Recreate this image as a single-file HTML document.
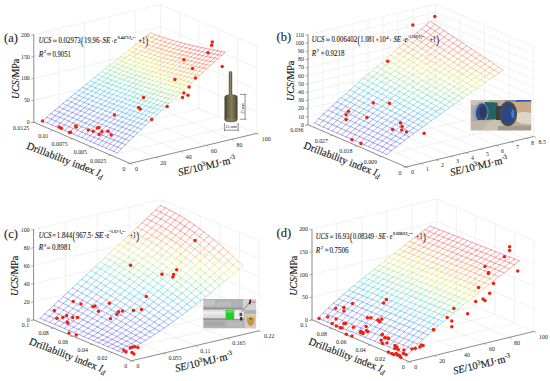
<!DOCTYPE html>
<html><head><meta charset="utf-8"><style>
html,body{margin:0;padding:0;background:#fff;}
svg{display:block;font-family:"Liberation Serif",serif;}
</style></head><body>
<svg width="550" height="381" viewBox="0 0 550 381">
<rect width="550" height="381" fill="#fff"/>
<line x1="33.8" y1="100.3" x2="160.6" y2="70.3" stroke="#e8e8e8" stroke-width="0.6"/>
<line x1="160.6" y1="70.3" x2="256.8" y2="111.5" stroke="#e8e8e8" stroke-width="0.6"/>
<line x1="33.8" y1="78.4" x2="160.6" y2="48.4" stroke="#e8e8e8" stroke-width="0.6"/>
<line x1="160.6" y1="48.4" x2="256.8" y2="89.6" stroke="#e8e8e8" stroke-width="0.6"/>
<line x1="33.8" y1="56.5" x2="160.6" y2="26.5" stroke="#e8e8e8" stroke-width="0.6"/>
<line x1="160.6" y1="26.5" x2="256.8" y2="67.7" stroke="#e8e8e8" stroke-width="0.6"/>
<line x1="59.16" y1="116.2" x2="59.16" y2="28.6" stroke="#e8e8e8" stroke-width="0.6"/>
<line x1="59.16" y1="116.2" x2="155.36" y2="157.4" stroke="#e8e8e8" stroke-width="0.6"/>
<line x1="84.52" y1="110.2" x2="84.52" y2="22.6" stroke="#e8e8e8" stroke-width="0.6"/>
<line x1="84.52" y1="110.2" x2="180.72" y2="151.4" stroke="#e8e8e8" stroke-width="0.6"/>
<line x1="109.88" y1="104.2" x2="109.88" y2="16.6" stroke="#e8e8e8" stroke-width="0.6"/>
<line x1="109.88" y1="104.2" x2="206.08" y2="145.4" stroke="#e8e8e8" stroke-width="0.6"/>
<line x1="135.24" y1="98.2" x2="135.24" y2="10.6" stroke="#e8e8e8" stroke-width="0.6"/>
<line x1="135.24" y1="98.2" x2="231.44" y2="139.4" stroke="#e8e8e8" stroke-width="0.6"/>
<line x1="179.84" y1="100.44" x2="179.84" y2="12.84" stroke="#e8e8e8" stroke-width="0.6"/>
<line x1="53.04" y1="130.44" x2="179.84" y2="100.44" stroke="#e8e8e8" stroke-width="0.6"/>
<line x1="199.08" y1="108.68" x2="199.08" y2="21.08" stroke="#e8e8e8" stroke-width="0.6"/>
<line x1="72.28" y1="138.68" x2="199.08" y2="108.68" stroke="#e8e8e8" stroke-width="0.6"/>
<line x1="218.32" y1="116.92" x2="218.32" y2="29.32" stroke="#e8e8e8" stroke-width="0.6"/>
<line x1="91.52" y1="146.92" x2="218.32" y2="116.92" stroke="#e8e8e8" stroke-width="0.6"/>
<line x1="237.56" y1="125.16" x2="237.56" y2="37.56" stroke="#e8e8e8" stroke-width="0.6"/>
<line x1="110.76" y1="155.16" x2="237.56" y2="125.16" stroke="#e8e8e8" stroke-width="0.6"/>
<line x1="160.6" y1="92.2" x2="160.6" y2="4.6" stroke="#e8e8e8" stroke-width="0.6"/>
<line x1="33.8" y1="34.6" x2="160.6" y2="4.6" stroke="#e8e8e8" stroke-width="0.6"/>
<line x1="160.6" y1="4.6" x2="256.8" y2="45.8" stroke="#e8e8e8" stroke-width="0.6"/>
<line x1="256.8" y1="133.4" x2="256.8" y2="45.8" stroke="#e8e8e8" stroke-width="0.6"/>
<line x1="160.6" y1="92.2" x2="256.8" y2="133.4" stroke="#e8e8e8" stroke-width="0.6"/>
<line x1="33.8" y1="122.2" x2="160.6" y2="92.2" stroke="#e8e8e8" stroke-width="0.6"/>
<line x1="33.8" y1="122.2" x2="33.8" y2="34.6" stroke="#8c8c8c" stroke-width="1.0"/>
<line x1="33.8" y1="122.2" x2="130" y2="163.4" stroke="#8c8c8c" stroke-width="1.0"/>
<line x1="130" y1="163.4" x2="256.8" y2="133.4" stroke="#8c8c8c" stroke-width="1.0"/>
<line x1="33.8" y1="100.3" x2="31.3" y2="100.9" stroke="#8c8c8c" stroke-width="0.7"/>
<line x1="33.8" y1="78.4" x2="31.3" y2="79" stroke="#8c8c8c" stroke-width="0.7"/>
<line x1="33.8" y1="56.5" x2="31.3" y2="57.1" stroke="#8c8c8c" stroke-width="0.7"/>
<line x1="33.8" y1="122.2" x2="31.3" y2="122.8" stroke="#8c8c8c" stroke-width="0.7"/>
<line x1="33.8" y1="34.6" x2="31.3" y2="35.2" stroke="#8c8c8c" stroke-width="0.7"/>
<line x1="53.04" y1="130.44" x2="50.61" y2="131.02" stroke="#8c8c8c" stroke-width="0.7"/>
<line x1="72.28" y1="138.68" x2="69.85" y2="139.26" stroke="#8c8c8c" stroke-width="0.7"/>
<line x1="91.52" y1="146.92" x2="89.09" y2="147.5" stroke="#8c8c8c" stroke-width="0.7"/>
<line x1="110.76" y1="155.16" x2="108.33" y2="155.74" stroke="#8c8c8c" stroke-width="0.7"/>
<line x1="33.8" y1="122.2" x2="31.37" y2="122.78" stroke="#8c8c8c" stroke-width="0.7"/>
<line x1="130" y1="163.4" x2="127.57" y2="163.98" stroke="#8c8c8c" stroke-width="0.7"/>
<line x1="155.36" y1="157.4" x2="157.66" y2="158.38" stroke="#8c8c8c" stroke-width="0.7"/>
<line x1="180.72" y1="151.4" x2="183.02" y2="152.38" stroke="#8c8c8c" stroke-width="0.7"/>
<line x1="206.08" y1="145.4" x2="208.38" y2="146.38" stroke="#8c8c8c" stroke-width="0.7"/>
<line x1="231.44" y1="139.4" x2="233.74" y2="140.38" stroke="#8c8c8c" stroke-width="0.7"/>
<line x1="130" y1="163.4" x2="132.3" y2="164.38" stroke="#8c8c8c" stroke-width="0.7"/>
<line x1="256.8" y1="133.4" x2="259.1" y2="134.38" stroke="#8c8c8c" stroke-width="0.7"/>
<text x="29.8" y="124.2" font-size="5.9" text-anchor="end" fill="#1e1e1e">0</text>
<text x="29.8" y="102.3" font-size="5.9" text-anchor="end" fill="#1e1e1e">50</text>
<text x="29.8" y="80.4" font-size="5.9" text-anchor="end" fill="#1e1e1e">100</text>
<text x="29.8" y="58.5" font-size="5.9" text-anchor="end" fill="#1e1e1e">150</text>
<text x="29.8" y="36.6" font-size="5.9" text-anchor="end" fill="#1e1e1e">200</text>
<text x="29.3" y="129.7" font-size="5.9" text-anchor="end" fill="#1e1e1e">0.0125</text>
<text x="48.54" y="137.94" font-size="5.9" text-anchor="end" fill="#1e1e1e">0.01</text>
<text x="67.78" y="146.18" font-size="5.9" text-anchor="end" fill="#1e1e1e">0.0075</text>
<text x="87.02" y="154.42" font-size="5.9" text-anchor="end" fill="#1e1e1e">0.005</text>
<text x="106.26" y="162.66" font-size="5.9" text-anchor="end" fill="#1e1e1e">0.0025</text>
<text x="125.5" y="170.9" font-size="5.9" text-anchor="end" fill="#1e1e1e">0</text>
<text x="135" y="170.6" font-size="5.9" text-anchor="start" fill="#1e1e1e">0</text>
<text x="160.36" y="164.6" font-size="5.9" text-anchor="start" fill="#1e1e1e">20</text>
<text x="185.72" y="158.6" font-size="5.9" text-anchor="start" fill="#1e1e1e">40</text>
<text x="211.08" y="152.6" font-size="5.9" text-anchor="start" fill="#1e1e1e">60</text>
<text x="236.44" y="146.6" font-size="5.9" text-anchor="start" fill="#1e1e1e">80</text>
<text x="261.8" y="140.6" font-size="5.9" text-anchor="start" fill="#1e1e1e">100</text>
<g fill="none" stroke-width="0.58" stroke-linecap="round"><path d="M42.75 120.98L46.79 117.26M47.29 122.92L51.33 119.19M51.79 124.84L55.82 121.1M56.23 126.75L60.27 122.99M60.63 128.63L64.67 124.85M64.99 130.5L69.02 126.69M69.3 132.34L73.33 128.51M73.56 134.17L77.59 130.3M77.78 135.98L81.81 132.08M81.95 137.76L85.98 133.83M86.07 139.53L90.11 135.56" stroke="#7b71e7"/><path d="M46.79 117.26L50.81 113.74M51.33 119.19L55.35 115.67M55.82 121.1L59.84 117.56" stroke="#7877e9"/><path d="M50.81 113.74L54.82 110.3M55.35 115.67L59.36 112.22M59.84 117.56L63.85 114.1" stroke="#747dea"/><path d="M54.82 110.3L58.81 106.91M59.36 112.22L63.35 108.83M63.85 114.1L67.84 110.7M68.3 115.95L72.29 112.53M110.23 133.02L114.17 134.6M114.17 134.6L118.06 136.15M118.06 136.15L121.91 137.68M121.91 137.68L125.71 139.2" stroke="#7183ec"/><path d="M58.81 106.91L62.79 103.57M63.35 108.83L67.33 105.48M67.84 110.7L71.82 107.33M72.29 112.53L76.27 109.15M110.24 127.75L114.22 129.32M114.22 129.32L118.16 130.86" stroke="#6e89ee"/><path d="M62.79 103.57L66.76 100.26M67.33 105.48L71.3 102.16M129.71 135.35L133.69 131.56M133.46 136.8L137.44 132.97M97.81 117.74L101.98 119.38M101.98 119.38L106.11 120.99M106.11 120.99L110.19 122.57" stroke="#6b8eef"/><path d="M66.76 100.26L70.71 96.98M101.78 114.28L105.95 115.89" stroke="#6796ef"/><path d="M70.71 96.98L74.65 93.73M75.25 98.87L79.19 95.62M79.74 100.7L83.68 97.43M126.11 123.52L130.06 119.9M105.73 110.85L109.9 112.43" stroke="#64a2ee"/><path d="M74.65 93.73L78.57 90.51M79.19 95.62L83.11 92.39M126.12 118.46L130.06 114.91M105.45 105.87L109.67 107.45" stroke="#60aded"/><path d="M78.57 90.51L82.48 87.31M83.11 92.39L87.02 89.18M126.08 113.47L130 109.98M141.74 119.06L145.54 120.4M109.38 102.52L113.6 104.07" stroke="#5db8eb"/><path d="M82.48 87.31L86.38 84.13M87.02 89.18L90.92 85.99M125.97 108.55L129.88 105.12M109.03 97.63L113.29 99.2" stroke="#5ac3ea"/><path d="M86.38 84.13L90.27 80.97M125.8 103.68L129.7 100.3" stroke="#56cde9"/><path d="M90.27 80.97L94.14 77.83" stroke="#5dd4df"/><path d="M94.14 77.83L97.99 74.72" stroke="#6ad9d0"/><path d="M97.99 74.72L101.83 71.62" stroke="#77ddc1"/><path d="M101.83 71.62L105.66 68.54M133.01 87.55L136.86 84.31M161.23 101.22L165.03 102.38" stroke="#85e2b2"/><path d="M105.66 68.54L109.48 65.47M168.79 103.52L172.64 99.96M123.54 75.3L127.9 76.82" stroke="#94e4a3"/><path d="M109.48 65.47L113.28 62.43" stroke="#a7e594"/><path d="M113.28 62.43L117.07 59.4" stroke="#b9e685"/><path d="M117.07 59.4L120.84 56.39" stroke="#cbe775"/><path d="M120.84 56.39L124.6 53.39" stroke="#dde866"/><path d="M124.6 53.39L128.35 50.41M168.49 76.32L172.48 77.43M155.86 68.38L160.03 69.61" stroke="#e8e15f"/><path d="M128.35 50.41L132.08 47.44M151.14 62.69L154.89 59.61M164.16 70.81L167.92 67.62M141.83 55.4L146.23 56.87" stroke="#ebd45f"/><path d="M132.08 47.44L135.8 44.49M171.99 68.74L176.03 69.82M145.56 52.4L149.96 53.86" stroke="#eec75f"/><path d="M135.8 44.49L139.5 41.56M183.95 71.88L187.85 72.85M162.88 57.82L167.1 59.03M149.28 49.42L153.68 50.86" stroke="#f1ba5f"/><path d="M139.5 41.56L143.19 38.64M171.27 60.19L174.99 57.08" stroke="#f4ad5f"/><path d="M143.19 38.64L146.87 35.73M183.51 63.39L187.22 60.2M191.59 69.54L195.33 66.24M187.49 64.38L191.43 65.33" stroke="#f4a163"/><path d="M146.87 35.73L150.53 32.84M165.43 46.23L169.11 43.26" stroke="#f39568"/><path d="M71.3 102.16L75.25 98.87M75.79 104L79.74 100.7M129.89 130.12L133.85 126.4M105.95 115.89L110.07 117.46" stroke="#6797ef"/><path d="M90.92 85.99L94.8 82.83" stroke="#56cee9"/><path d="M94.8 82.83L98.67 79.68" stroke="#5dd5df"/><path d="M98.67 79.68L102.53 76.56M129.46 95.54L133.33 92.23M116.37 86.34L120.68 87.87" stroke="#6bd9d0"/><path d="M102.53 76.56L106.37 73.45" stroke="#78ddc0"/><path d="M106.37 73.45L110.2 70.37" stroke="#85e2b1"/><path d="M110.2 70.37L114.02 67.3M153.4 94.14L157.25 90.76M145.15 87L149.23 88.29" stroke="#95e4a2"/><path d="M114.02 67.3L117.82 64.25" stroke="#a8e593"/><path d="M117.82 64.25L121.61 61.21M148.67 79.2L152.79 80.47M131.16 69.09L135.51 70.57" stroke="#bae684"/><path d="M121.61 61.21L125.38 58.19" stroke="#cce774"/><path d="M125.38 58.19L129.14 55.19M160.67 78.43L164.46 75.18" stroke="#dee865"/><path d="M129.14 55.19L132.89 52.2M180.37 83.93L184.17 84.93" stroke="#e8e05f"/><path d="M132.89 52.2L136.62 49.23M176.42 78.49L180.19 75.18" stroke="#ebd35f"/><path d="M136.62 49.23L140.34 46.27M154.89 59.61L158.62 56.56M187.96 81.51L191.74 78.1" stroke="#eec65f"/><path d="M140.34 46.27L144.04 43.33M180.01 70.87L183.76 67.62" stroke="#f1b95f"/><path d="M144.04 43.33L147.73 40.41M166.6 54.76L170.82 55.94" stroke="#f5ac5f"/><path d="M147.73 40.41L151.41 37.49M174.99 57.08L178.69 53.98M179.11 58.16L183.19 59.2M156.67 43.5L161.07 44.9" stroke="#f4a063"/><path d="M151.41 37.49L155.07 34.6M195.33 66.24L199.04 62.97M203 72.18L206.73 68.79M199.17 67.13L202.97 67.97M160.35 40.56L164.75 41.95" stroke="#f39468"/><path d="M71.82 107.33L75.79 104" stroke="#6a8eef"/><path d="M83.68 97.43L87.61 94.19M88.13 99.2L92.05 95.94M130.06 119.9L134 116.32M109.67 107.45L113.84 109" stroke="#60aeec"/><path d="M87.61 94.19L91.52 90.97M92.05 95.94L95.96 92.7" stroke="#5db9eb"/><path d="M91.52 90.97L95.41 87.77M95.96 92.7L99.86 89.49M141.82 114.12L145.67 115.44M113.29 99.2L117.51 100.72" stroke="#59c4ea"/><path d="M95.41 87.77L99.3 84.59M153.22 118.02L157.14 114.36M112.92 94.36L117.19 95.9" stroke="#56cee8"/><path d="M99.3 84.59L103.17 81.44M129.7 100.3L133.58 96.94M141.79 104.42L145.73 105.73M116.81 91.1L121.07 92.62" stroke="#5ed5de"/><path d="M103.17 81.44L107.02 78.3" stroke="#6cd9ce"/><path d="M107.02 78.3L110.87 75.18M133.33 92.23L137.18 88.94M153.51 103.51L157.38 100.02" stroke="#79debf"/><path d="M110.87 75.18L114.7 72.09M145.39 91.61L149.42 92.89" stroke="#87e2b0"/><path d="M114.7 72.09L118.51 69M127.9 76.82L132.21 78.29" stroke="#97e4a1"/><path d="M118.51 69L122.31 65.94M140.68 81.09L144.5 77.89M157.25 90.76L161.08 87.4M172.64 99.96L176.49 96.41M165.08 93.11L168.93 94.24M148.98 83.72L153.06 84.98M131.71 73.69L136.02 75.13" stroke="#aae591"/><path d="M122.31 65.94L126.1 62.89M172.73 95.34L176.56 91.85" stroke="#bce682"/><path d="M126.1 62.89L129.87 59.86M152.47 75.98L156.6 77.23" stroke="#cee773"/><path d="M129.87 59.86L133.63 56.85" stroke="#e1e864"/><path d="M133.63 56.85L137.38 53.85M151.65 67.1L155.41 63.99M164.46 75.18L168.23 71.95M142.48 59.9L146.83 61.32" stroke="#e8df5f"/><path d="M137.38 53.85L141.11 50.87M172.27 73.06L176.25 74.14" stroke="#ebd15f"/><path d="M141.11 50.87L144.83 47.9M180.19 75.18L183.95 71.88M163.37 62.13L167.54 63.31M149.96 53.86L154.31 55.24" stroke="#efc45f"/><path d="M144.83 47.9L148.53 44.95M171.66 64.45L175.39 61.3M191.74 78.1L195.5 74.7M153.68 50.86L158.03 52.22" stroke="#f2b75f"/><path d="M148.53 44.95L152.23 42.01M183.76 67.62L187.49 64.38" stroke="#f5aa5f"/><path d="M152.23 42.01L155.9 39.08M166.05 50.5L169.74 47.49M199.24 71.33L203 72.18" stroke="#f49e64"/><path d="M155.9 39.08L159.57 36.18" stroke="#f39269"/><path d="M60.27 122.99L64.29 119.43M64.67 124.85L68.69 121.27" stroke="#7878e9"/><path d="M64.29 119.43L68.3 115.95M68.69 121.27L72.7 117.77" stroke="#747eea"/><path d="M76.27 109.15L80.24 105.8M80.67 110.93L84.64 107.56M85.03 112.68L88.99 109.29M110.19 122.57L114.22 124.13M114.22 124.13L118.2 125.66" stroke="#6a8fef"/><path d="M80.24 105.8L84.19 102.49M84.64 107.56L88.59 104.23M133.69 131.56L137.65 127.8M110.07 117.46L114.15 119.02" stroke="#6798ef"/><path d="M84.19 102.49L88.13 99.2M109.9 112.43L114.03 113.98" stroke="#63a3ee"/><path d="M99.86 89.49L103.74 86.3M129.88 105.12L133.78 101.71M141.84 109.24L145.73 110.56M117.19 95.9L121.4 97.4" stroke="#56cfe8"/><path d="M103.74 86.3L107.61 83.13" stroke="#5fd5dc"/><path d="M107.61 83.13L111.47 79.97M133.58 96.94L137.45 93.61" stroke="#6ddacd"/><path d="M111.47 79.97L115.31 76.84M124.53 84.66L128.8 86.13" stroke="#7bdebe"/><path d="M115.31 76.84L119.14 73.73M165.03 102.38L168.79 103.52M128.38 81.46L132.64 82.91" stroke="#88e3ae"/><path d="M119.14 73.73L122.96 70.63M157.34 95.36L161.19 91.95M165.09 97.72L168.89 98.85M149.23 88.29L153.26 89.54" stroke="#99e59f"/><path d="M122.96 70.63L126.76 67.55" stroke="#ace58f"/><path d="M126.76 67.55L130.55 64.49" stroke="#bfe680"/><path d="M130.55 64.49L134.32 61.44" stroke="#d1e770"/><path d="M134.32 61.44L138.08 58.41M164.71 79.6L168.49 76.32M143.07 64.39L147.38 65.77" stroke="#e3e861"/><path d="M138.08 58.41L141.83 55.4M184.17 84.93L187.93 85.91M146.83 61.32L151.14 62.69" stroke="#e9dc5f"/><path d="M141.83 55.4L145.56 52.4M180.31 79.53L184.09 76.18M163.79 66.46L167.92 67.62M150.58 58.27L154.89 59.61" stroke="#eccf5f"/><path d="M145.56 52.4L149.28 49.42M191.72 82.45L195.49 79.01M176.03 69.82L180.01 70.87" stroke="#efc25f"/><path d="M149.28 49.42L152.98 46.45M183.95 71.88L187.7 68.6" stroke="#f2b45f"/><path d="M152.98 46.45L156.67 43.5M166.6 54.76L170.31 51.71M195.5 74.7L199.24 71.33" stroke="#f5a760"/><path d="M156.67 43.5L160.35 40.56M170.31 51.71L174 48.68M174.52 52.88L178.69 53.98" stroke="#f39b65"/><path d="M160.35 40.56L164.01 37.64" stroke="#f2906a"/><path d="M72.7 117.77L76.69 114.33M77.05 119.57L81.05 116.1M125.71 139.2L129.47 140.69" stroke="#7184ec"/><path d="M76.69 114.33L80.67 110.93M118.16 130.86L122.06 132.38" stroke="#6d89ee"/><path d="M88.59 104.23L92.53 100.92M133.85 126.4L137.8 122.71M114.03 113.98L118.1 115.5" stroke="#63a4ee"/><path d="M92.53 100.92L96.45 97.64M113.84 109L117.97 110.52" stroke="#60afec"/><path d="M96.45 97.64L100.36 94.39M130.06 114.91L133.99 111.39M145.54 120.4L149.3 121.71M113.6 104.07L117.77 105.6" stroke="#5cbaeb"/><path d="M100.36 94.39L104.26 91.16M130 109.98L133.91 106.52M145.67 115.44L149.47 116.74M117.51 100.72L121.68 102.22" stroke="#59c5ea"/><path d="M104.26 91.16L108.15 87.95" stroke="#55d0e8"/><path d="M108.15 87.95L112.02 84.76M157.14 114.36L161.03 110.72M145.73 105.73L149.63 107.02" stroke="#61d6db"/><path d="M112.02 84.76L115.87 81.59M157.28 109.51L161.16 105.94M124.94 89.36L129.16 90.81" stroke="#6fdacb"/><path d="M115.87 81.59L119.71 78.43M157.36 104.74L161.23 101.22" stroke="#7cdfbc"/><path d="M119.71 78.43L123.54 75.3M141.31 90.29L145.15 87" stroke="#8ae3ac"/><path d="M123.54 75.3L127.36 72.19" stroke="#9ce59d"/><path d="M127.36 72.19L131.16 69.09M168.93 94.24L172.73 95.34" stroke="#afe68d"/><path d="M131.16 69.09L134.95 66.01" stroke="#c2e67d"/><path d="M134.95 66.01L138.72 62.95M164.89 84.06L168.69 80.73M143.61 68.88L147.87 70.23" stroke="#d4e76e"/><path d="M138.72 62.95L142.48 59.9M172.63 81.83L176.53 82.9M160.38 74.01L164.46 75.18" stroke="#e6e85f"/><path d="M142.48 59.9L146.23 56.87M128.35 50.41L132.89 52.2" stroke="#e9da5f"/><path d="M146.23 56.87L149.96 53.86M172.27 73.06L176.03 69.82M187.96 81.51L191.72 82.45M136.62 49.23L141.11 50.87" stroke="#edcc5f"/><path d="M149.96 53.86L153.68 50.86M163.37 62.13L167.1 59.03M184.09 76.18L187.85 72.85" stroke="#f0bf5f"/><path d="M153.68 50.86L157.38 47.87M195.49 79.01L199.25 75.58M171.27 60.19L175.39 61.3" stroke="#f3b25f"/><path d="M157.38 47.87L161.07 44.9M179.47 62.37L183.19 59.2M147.73 40.41L152.23 42.01" stroke="#f4a561"/><path d="M161.07 44.9L164.75 41.95M199.24 71.33L202.97 67.97M151.41 37.49L155.9 39.08" stroke="#f39966"/><path d="M164.75 41.95L168.41 39.01M155.07 34.6L159.57 36.18" stroke="#f28d6b"/><path d="M69.02 126.69L73.04 123.09M73.33 128.51L77.35 124.88M77.59 130.3L81.62 126.65M81.81 132.08L85.83 128.39M85.98 133.83L90 130.11M90.11 135.56L94.13 131.81M94.18 137.27L98.21 133.49M98.22 138.96L102.24 135.15" stroke="#7778e9"/><path d="M73.04 123.09L77.05 119.57M77.35 124.88L81.36 121.33M81.62 126.65L85.62 123.07M85.83 128.39L89.84 124.79M90 130.11L94.01 126.48" stroke="#747eeb"/><path d="M81.05 116.1L85.03 112.68M85.35 117.84L89.33 114.39M89.62 119.56L93.6 116.08M93.83 121.24L97.81 117.74M122.06 132.38L125.91 133.88M125.91 133.88L129.71 135.35M129.71 135.35L133.46 136.8" stroke="#6d8aee"/><path d="M88.99 109.29L92.94 105.93M137.44 132.97L141.41 129.18M114.15 119.02L118.18 120.54" stroke="#6799ef"/><path d="M92.94 105.93L96.88 102.61M137.65 127.8L141.61 124.08M118.1 115.5L122.14 116.99" stroke="#63a5ee"/><path d="M96.88 102.61L100.81 99.31M117.97 110.52L122.04 112.01" stroke="#5fb0ec"/><path d="M100.81 99.31L104.72 96.03M134 116.32L137.93 112.77M117.77 105.6L121.89 107.09" stroke="#5cbbeb"/><path d="M104.72 96.03L108.62 92.78" stroke="#59c7e9"/><path d="M108.62 92.78L112.5 89.55M137.9 107.89L141.79 104.42M149.58 111.85L153.38 113.11" stroke="#55d2e8"/><path d="M112.5 89.55L116.37 86.34M137.81 103.08L141.69 99.66" stroke="#63d6d9"/><path d="M116.37 86.34L120.23 83.15M149.62 102.26L153.51 103.51" stroke="#70dbc9"/><path d="M120.23 83.15L124.07 79.97M101.83 71.62L106.37 73.45" stroke="#7ee0b9"/><path d="M124.07 79.97L127.9 76.82M161.23 101.22L165.09 97.72M105.66 68.54L110.2 70.37" stroke="#8ce4aa"/><path d="M127.9 76.82L131.71 73.69M114.02 67.3L118.51 69" stroke="#9fe59a"/><path d="M131.71 73.69L135.51 70.57M148.98 83.72L152.79 80.47M157.09 86.21L161.08 87.4M117.82 64.25L122.31 65.94" stroke="#b2e68a"/><path d="M135.51 70.57L139.3 67.47M172.76 90.78L176.56 91.85" stroke="#c5e77b"/><path d="M139.3 67.47L143.07 64.39" stroke="#d8e76b"/><path d="M143.07 64.39L146.83 61.32" stroke="#e7e55f"/><path d="M146.83 61.32L150.58 58.27M172.48 77.43L176.25 74.14M137.38 53.85L141.83 55.4" stroke="#ead75f"/><path d="M150.58 58.27L154.31 55.24M163.79 66.46L167.54 63.31M180.19 75.18L184.09 76.18" stroke="#edc95f"/><path d="M154.31 55.24L158.03 52.22M191.74 78.1L195.49 79.01M171.66 64.45L175.74 65.55M144.83 47.9L149.28 49.42" stroke="#f1bc5f"/><path d="M158.03 52.22L161.74 49.22M179.77 66.6L183.51 63.39M175.39 61.3L179.47 62.37" stroke="#f4ae5f"/><path d="M161.74 49.22L165.43 46.23M195.44 70.45L199.24 71.33" stroke="#f4a262"/><path d="M169.11 43.26L172.77 40.3" stroke="#f2896d"/><path d="M81.36 121.33L85.35 117.84M85.62 123.07L89.62 119.56M89.84 124.79L93.83 121.24" stroke="#7084ec"/><path d="M89.33 114.39L93.3 110.98M93.6 116.08L97.56 112.65M122.14 127.17L126.04 128.65" stroke="#6a90f0"/><path d="M93.3 110.98L97.25 107.6M118.18 120.54L122.17 122.04" stroke="#669aef"/><path d="M97.25 107.6L101.19 104.25" stroke="#63a5ed"/><path d="M101.19 104.25L105.12 100.93M137.8 122.71L141.74 119.06" stroke="#5fb1ec"/><path d="M105.12 100.93L109.03 97.63M121.89 107.09L125.97 108.55" stroke="#5cbceb"/><path d="M109.03 97.63L112.92 94.36M137.93 112.77L141.84 109.24M125.8 103.68L129.88 105.12M86.38 84.13L90.92 85.99" stroke="#58c8e9"/><path d="M112.92 94.36L116.81 91.1M125.57 98.87L129.7 100.3M90.27 80.97L94.8 82.83" stroke="#56d2e7"/><path d="M116.81 91.1L120.68 87.87M129.46 95.54L133.58 96.94M98.67 79.68L103.17 81.44" stroke="#64d7d7"/><path d="M120.68 87.87L124.53 84.66" stroke="#72dcc7"/><path d="M124.53 84.66L128.38 81.46" stroke="#80e0b7"/><path d="M128.38 81.46L132.21 78.29" stroke="#8fe4a7"/><path d="M132.21 78.29L136.02 75.13" stroke="#a2e597"/><path d="M136.02 75.13L139.82 72M153.06 84.98L156.87 81.7M144.5 77.89L148.67 79.2" stroke="#b6e687"/><path d="M139.82 72L143.61 68.88M148.3 74.7L152.47 75.98M130.55 64.49L134.95 66.01" stroke="#c9e777"/><path d="M143.61 68.88L147.38 65.77M164.71 79.6L168.69 80.73" stroke="#dce868"/><path d="M147.38 65.77L151.14 62.69" stroke="#e8e25f"/><path d="M158.62 56.56L162.34 53.52M175.74 65.55L179.77 66.6" stroke="#f2b85f"/><path d="M162.34 53.52L166.05 50.5M191.69 73.79L195.44 70.45M187.7 68.6L191.59 69.54" stroke="#f5ab5f"/><path d="M169.74 47.49L173.41 44.5" stroke="#f29269"/><path d="M173.41 44.5L177.08 41.52M182.39 50.91L186.06 47.84M190.93 57.03L194.62 53.87M199.04 62.97L202.75 59.71M206.73 68.79L210.45 65.42M202.89 63.82L206.69 64.63M194.91 57.96L198.85 58.85M186.51 51.94L190.59 52.93M177.68 45.67L181.89 46.78" stroke="#f1866e"/><path d="M97.56 112.65L101.52 109.24M122.17 122.04L126.11 123.52" stroke="#669bef"/><path d="M101.52 109.24L105.45 105.87M141.41 129.18L145.36 125.43M122.14 116.99L126.12 118.46" stroke="#62a6ed"/><path d="M105.45 105.87L109.38 102.52M141.61 124.08L145.54 120.4M122.04 112.01L126.08 113.47M78.57 90.51L83.11 92.39" stroke="#5fb2ec"/><path d="M109.38 102.52L113.29 99.2" stroke="#5bbeeb"/><path d="M113.29 99.2L117.19 95.9M141.82 114.12L145.73 110.56M90.92 85.99L95.41 87.77M95.41 87.77L99.86 89.49" stroke="#58c9e9"/><path d="M117.19 95.9L121.07 92.62M141.84 109.24L145.73 105.73M129.7 100.3L133.78 101.71M99.3 84.59L103.74 86.3" stroke="#58d3e5"/><path d="M121.07 92.62L124.94 89.36" stroke="#66d8d4"/><path d="M124.94 89.36L128.8 86.13M111.47 79.97L115.87 81.59" stroke="#75dcc4"/><path d="M128.8 86.13L132.64 82.91M157.38 100.02L161.23 101.22" stroke="#83e1b5"/><path d="M132.64 82.91L136.47 79.71M141.03 85.67L145.15 87" stroke="#92e4a5"/><path d="M136.47 79.71L140.28 76.53M153.26 89.54L157.09 86.21M168.89 98.85L172.73 95.34M161.19 91.95L165.08 93.11" stroke="#a6e594"/><path d="M140.28 76.53L144.08 73.37" stroke="#b9e684"/><path d="M144.08 73.37L147.87 70.23M172.76 90.78L176.57 87.35M134.95 66.01L139.3 67.47" stroke="#cde774"/><path d="M147.87 70.23L151.65 67.1M180.37 88.38L184.13 89.39" stroke="#e0e864"/><path d="M155.41 63.99L159.15 60.9M184.16 80.53L187.96 81.51" stroke="#ecd15f"/><path d="M159.15 60.9L162.88 57.82" stroke="#efc35f"/><path d="M162.88 57.82L166.6 54.76M187.85 72.85L191.69 73.79" stroke="#f2b55f"/><path d="M174 48.68L177.68 45.67M169.11 43.26L173.41 44.5" stroke="#f28e6b"/><path d="M177.68 45.67L181.34 42.67M186.51 51.94L190.19 48.85M190.59 52.93L194.62 53.87M181.89 46.78L186.06 47.84" stroke="#f18270"/><path d="M97.81 117.74L101.78 114.28M126.04 128.65L129.89 130.12" stroke="#6990f0"/><path d="M101.78 114.28L105.73 110.85M126.11 123.52L130 124.97M70.71 96.98L75.25 98.87" stroke="#669cef"/><path d="M105.73 110.85L109.67 107.45M126.12 118.46L130.06 119.9M74.65 93.73L79.19 95.62" stroke="#62a7ed"/><path d="M109.67 107.45L113.6 104.07M87.61 94.19L92.05 95.94" stroke="#5eb3ec"/><path d="M113.6 104.07L117.51 100.72M145.54 120.4L149.47 116.74M130 109.98L133.99 111.39M91.52 90.97L95.96 92.7M95.96 92.7L100.36 94.39" stroke="#5bbfea"/><path d="M117.51 100.72L121.4 97.4M99.86 89.49L104.26 91.16" stroke="#57cae9"/><path d="M121.4 97.4L125.29 94.1" stroke="#5ad4e2"/><path d="M125.29 94.1L129.16 90.81" stroke="#68d8d2"/><path d="M129.16 90.81L133.01 87.55M149.62 102.26L153.49 98.8" stroke="#77ddc2"/><path d="M136.86 84.31L140.68 81.09" stroke="#96e4a2"/><path d="M144.5 77.89L148.3 74.7M135.51 70.57L139.82 72" stroke="#bde681"/><path d="M148.3 74.7L152.09 71.53M168.83 85.18L172.72 86.28" stroke="#d1e771"/><path d="M152.09 71.53L155.86 68.38" stroke="#e4e861"/><path d="M155.86 68.38L159.62 65.25M168.49 76.32L172.27 73.06M180.37 83.93L184.16 80.53" stroke="#e9db5f"/><path d="M159.62 65.25L163.37 62.13M132.08 47.44L136.62 49.23" stroke="#edcd5f"/><path d="M167.1 59.03L170.82 55.94M191.69 73.79L195.5 74.7M144.04 43.33L148.53 44.95" stroke="#f3b15f"/><path d="M170.82 55.94L174.52 52.88" stroke="#f4a462"/><path d="M174.52 52.88L178.22 49.82M178.69 53.98L182.82 55.04M155.9 39.08L160.35 40.56" stroke="#f39767"/><path d="M178.22 49.82L181.89 46.78M186.9 56.06L190.59 52.93M195.15 62.08L198.85 58.85M202.97 67.97L206.69 64.63M199.04 62.97L202.89 63.82M190.93 57.03L194.91 57.96M182.39 50.91L186.51 51.94M173.41 44.5L177.68 45.67" stroke="#f28a6c"/><path d="M181.89 46.78L185.56 43.76M186.06 47.84L190.19 48.85M177.08 41.52L181.34 42.67" stroke="#f07e71"/><path d="M94.01 126.48L98 122.91" stroke="#7085ec"/><path d="M98 122.91L101.98 119.38" stroke="#6d8bee"/><path d="M101.98 119.38L105.95 115.89M106.11 120.99L110.07 117.46M129.89 130.12L133.69 131.56M133.69 131.56L137.44 132.97M66.76 100.26L71.3 102.16M71.3 102.16L75.79 104" stroke="#6991f0"/><path d="M105.95 115.89L109.9 112.43" stroke="#659cef"/><path d="M109.9 112.43L113.84 109M79.19 95.62L83.68 97.43M83.68 97.43L88.13 99.2" stroke="#62a8ed"/><path d="M113.84 109L117.77 105.6M145.36 125.43L149.3 121.71M130.06 114.91L134 116.32M92.05 95.94L96.45 97.64" stroke="#5eb4ec"/><path d="M117.77 105.6L121.68 102.22M100.36 94.39L104.72 96.03" stroke="#5ac0ea"/><path d="M121.68 102.22L125.57 98.87M149.47 116.74L153.38 113.11M104.26 91.16L108.62 92.78" stroke="#57cce9"/><path d="M125.57 98.87L129.46 95.54M149.58 111.85L153.48 108.28M137.81 103.08L141.79 104.42M112.5 89.55L116.81 91.1" stroke="#5cd4e0"/><path d="M137.18 88.94L141.03 85.67" stroke="#88e3af"/><path d="M141.03 85.67L144.86 82.43" stroke="#9ae59f"/><path d="M144.86 82.43L148.67 79.2" stroke="#aee58e"/><path d="M148.67 79.2L152.47 75.98" stroke="#c1e67d"/><path d="M152.47 75.98L156.26 72.79M120.84 56.39L125.38 58.19" stroke="#d5e76d"/><path d="M156.26 72.79L160.03 69.61M168.69 80.73L172.48 77.43M129.14 55.19L133.63 56.85" stroke="#e6e65f"/><path d="M160.03 69.61L163.79 66.46" stroke="#ead85f"/><path d="M167.54 63.31L171.27 60.19M187.93 77.15L191.69 73.79" stroke="#f1bb5f"/><path d="M178.69 53.98L182.39 50.91M182.82 55.04L186.9 56.06M174 48.68L178.22 49.82" stroke="#f39369"/><path d="M186.06 47.84L189.73 44.8M194.62 53.87L198.3 50.73M190.19 48.85L194.27 49.81M181.34 42.67L185.56 43.76" stroke="#f07a73"/><path d="M94.13 131.81L98.13 128.15M98.21 133.49L102.21 129.8M102.24 135.15L106.24 131.42M106.22 136.78L110.23 133.02M110.16 138.39L114.17 134.6" stroke="#737feb"/><path d="M98.13 128.15L102.13 124.55M102.21 129.8L106.21 126.16M106.24 131.42L110.24 127.75" stroke="#7085ed"/><path d="M102.13 124.55L106.11 120.99M106.21 126.16L110.19 122.57M62.79 103.57L67.33 105.48" stroke="#6c8bee"/><path d="M110.07 117.46L114.03 113.98" stroke="#659dee"/><path d="M114.03 113.98L117.97 110.52M133.96 121.32L137.8 122.71M92.53 100.92L96.88 102.61" stroke="#61aaed"/><path d="M117.97 110.52L121.89 107.09M100.81 99.31L105.12 100.93" stroke="#5eb6eb"/><path d="M121.89 107.09L125.8 103.68M137.93 112.77L141.82 114.12M104.72 96.03L109.03 97.63" stroke="#5ac2ea"/><path d="M137.45 93.61L141.31 90.29" stroke="#7cdfbd"/><path d="M145.15 87L148.98 83.72M153.26 89.54L157.25 90.76M136.47 79.71L140.68 81.09M109.48 65.47L114.02 67.3" stroke="#9ee59b"/><path d="M152.79 80.47L156.6 77.23" stroke="#c6e77a"/><path d="M156.6 77.23L160.38 74.01" stroke="#dae769"/><path d="M160.38 74.01L164.16 70.81M172.63 81.83L176.42 78.49M138.08 58.41L142.48 59.9" stroke="#e7e25f"/><path d="M167.92 67.62L171.66 64.45M184.09 76.18L187.93 77.15" stroke="#eec55f"/><path d="M175.39 61.3L179.11 58.16" stroke="#f5a960"/><path d="M179.11 58.16L182.82 55.04M187.49 64.38L191.21 61.16M183.19 59.2L187.22 60.2" stroke="#f49c65"/><path d="M182.82 55.04L186.51 51.94M191.21 61.16L194.91 57.96M199.17 67.13L202.89 63.82M202.97 67.97L206.73 68.79M195.15 62.08L199.04 62.97M186.9 56.06L190.93 57.03M178.22 49.82L182.39 50.91M150.53 32.84L155.07 34.6" stroke="#f28f6a"/><path d="M190.19 48.85L193.85 45.78" stroke="#f07874"/><path d="M90.15 141.27L94.18 137.27M94.18 143L98.22 138.96M98.17 144.71L102.2 140.63M102.11 146.4L106.14 142.28M106 148.06L110.04 143.91M109.85 149.71L113.88 145.52M113.65 151.34L117.69 147.1M117.41 152.95L121.44 148.67" stroke="#7b72e7"/><path d="M110.19 122.57L114.15 119.02M75.79 104L80.24 105.8M80.24 105.8L84.64 107.56" stroke="#6992f0"/><path d="M114.15 119.02L118.1 115.5M133.85 126.4L137.65 127.8M84.19 102.49L88.59 104.23M88.59 104.23L92.94 105.93" stroke="#659eee"/><path d="M118.1 115.5L122.04 112.01M137.8 122.71L141.61 124.08M96.88 102.61L101.19 104.25" stroke="#61abed"/><path d="M122.04 112.01L125.97 108.55M137.9 117.7L141.74 119.06M105.12 100.93L109.38 102.52" stroke="#5db7eb"/><path d="M133.78 101.71L137.66 98.32M121.07 92.62L125.29 94.1" stroke="#60d6db"/><path d="M137.66 98.32L141.53 94.95" stroke="#6fdbca"/><path d="M141.53 94.95L145.39 91.61" stroke="#7edfba"/><path d="M145.39 91.61L149.23 88.29M110.2 70.37L114.7 72.09" stroke="#8de4a9"/><path d="M149.23 88.29L153.06 84.98M165.09 97.72L168.93 94.24M157.25 90.76L161.19 91.95M140.68 81.09L144.86 82.43M118.51 69L122.96 70.63" stroke="#a2e598"/><path d="M156.87 81.7L160.67 78.43" stroke="#cae776"/><path d="M168.23 71.95L171.99 68.74" stroke="#ecd05f"/><path d="M171.99 68.74L175.74 65.55M154.31 55.24L158.62 56.56" stroke="#efc15f"/><path d="M175.74 65.55L179.47 62.37M158.03 52.22L162.34 53.52M139.5 41.56L144.04 43.33" stroke="#f3b35f"/><path d="M183.19 59.2L186.9 56.06M187.22 60.2L191.21 61.16" stroke="#f39867"/><path d="M190.59 52.93L194.27 49.81M198.85 58.85L202.55 55.64M194.62 53.87L198.61 54.77" stroke="#f07d72"/><path d="M194.27 49.81L197.93 46.72M198.3 50.73L202.28 51.61M189.73 44.8L193.85 45.78" stroke="#ef7775"/><path d="M110.24 127.75L114.22 124.13M67.33 105.48L71.82 107.33" stroke="#6c8cee"/><path d="M114.22 124.13L118.18 120.54M84.64 107.56L88.99 109.29" stroke="#6893f0"/><path d="M118.18 120.54L122.14 116.99M137.65 127.8L141.41 129.18M92.94 105.93L97.25 107.6" stroke="#659fee"/><path d="M122.14 116.99L126.08 113.47M141.61 124.08L145.36 125.43M101.19 104.25L105.45 105.87" stroke="#61aced"/><path d="M133.91 106.52L137.81 103.08M121.4 97.4L125.57 98.87" stroke="#55d1e8"/><path d="M141.69 99.66L145.56 96.27" stroke="#72dbc8"/><path d="M145.56 96.27L149.42 92.89M110.87 75.18L115.31 76.84" stroke="#81e0b7"/><path d="M149.42 92.89L153.26 89.54M157.34 95.36L161.24 96.55M119.14 73.73L123.54 75.3" stroke="#91e4a6"/><path d="M157.09 86.21L160.9 82.89" stroke="#bae683"/><path d="M160.9 82.89L164.71 79.6" stroke="#cfe772"/><path d="M176.03 69.82L179.77 66.6M158.62 56.56L162.88 57.82" stroke="#f0bd5f"/><path d="M187.22 60.2L190.93 57.03M191.21 61.16L195.15 62.08" stroke="#f39368"/><path d="M198.3 50.73L201.96 47.6M202.28 51.61L206.22 52.44" stroke="#ef7576"/><path d="M102.2 140.63L106.22 136.78M106.14 142.28L110.16 138.39M110.04 143.91L114.06 139.98M113.88 145.52L117.9 141.55M117.69 147.1L121.71 143.1M121.44 148.67L125.46 144.63" stroke="#7779e9"/><path d="M110.23 133.02L114.22 129.32M114.17 134.6L118.16 130.86M118.06 136.15L122.06 132.38M58.81 106.91L63.35 108.83M63.35 108.83L67.84 110.7M67.84 110.7L72.29 112.53M72.29 112.53L76.69 114.33" stroke="#6f86ed"/><path d="M114.22 129.32L118.2 125.66M118.16 130.86L122.14 127.17M71.82 107.33L76.27 109.15M76.27 109.15L80.67 110.93M80.67 110.93L85.03 112.68" stroke="#6c8cef"/><path d="M118.2 125.66L122.17 122.04M88.99 109.29L93.3 110.98M93.3 110.98L97.56 112.65" stroke="#6894f0"/><path d="M122.17 122.04L126.12 118.46M101.52 109.24L105.73 110.85" stroke="#64a1ee"/><path d="M133.99 111.39L137.9 107.89" stroke="#59c6e9"/><path d="M141.79 104.42L145.68 100.97M153.48 108.28L157.28 109.51" stroke="#65d7d6"/><path d="M145.68 100.97L149.55 97.55" stroke="#74dcc5"/><path d="M149.55 97.55L153.4 94.14" stroke="#83e1b4"/><path d="M161.08 87.4L164.89 84.06" stroke="#bfe67f"/><path d="M176.25 74.14L180.01 70.87M159.15 60.9L163.37 62.13" stroke="#eec85f"/><path d="M194.91 57.96L198.61 54.77M202.89 63.82L206.6 60.53M206.69 64.63L210.45 65.42M198.85 58.85L202.75 59.71M172.77 40.3L177.08 41.52" stroke="#f18170"/><path d="M198.61 54.77L202.28 51.61M206.6 60.53L210.29 57.25M210.4 61.31L214.15 62.07M202.55 55.64L206.44 56.46M194.27 49.81L198.3 50.73" stroke="#ef7874"/><path d="M202.28 51.61L205.95 48.45M197.93 46.72L201.96 47.6" stroke="#ee7477"/><path d="M122.14 127.17L126.11 123.52" stroke="#6895f0"/><path d="M145.73 105.73L149.62 102.26" stroke="#67d8d3"/><path d="M153.49 98.8L157.34 95.36" stroke="#86e2b1"/><path d="M161.19 91.95L165.02 88.56" stroke="#aee68d"/><path d="M165.02 88.56L168.83 85.18" stroke="#c4e67c"/><path d="M168.83 85.18L172.63 81.83M129.87 59.86L134.32 61.44" stroke="#d9e76a"/><path d="M187.7 68.6L191.43 65.33M191.59 69.54L195.44 70.45M161.74 49.22L166.05 50.5M143.19 38.64L147.73 40.41" stroke="#f5a661"/><path d="M191.43 65.33L195.15 62.08M195.33 66.24L199.17 67.13" stroke="#f39866"/><path d="M202.55 55.64L206.22 52.44M210.4 61.31L214.09 58.01M206.44 56.46L210.29 57.25" stroke="#ef7675"/><path d="M206.22 52.44L209.89 49.26M214.09 58.01L217.77 54.72M210.12 53.24L213.97 54" stroke="#ee7278"/><path d="M114.06 139.98L118.06 136.15M117.9 141.55L121.91 137.68M121.71 143.1L125.71 139.2M125.46 144.63L129.47 140.69M54.82 110.3L59.36 112.22M59.36 112.22L63.85 114.1" stroke="#7380eb"/><path d="M122.06 132.38L126.04 128.65M125.91 133.88L129.89 130.12M89.33 114.39L93.6 116.08M93.6 116.08L97.81 117.74" stroke="#6b8def"/><path d="M126.04 128.65L130 124.97" stroke="#6896ef"/><path d="M130 124.97L133.96 121.32" stroke="#64a3ee"/><path d="M133.96 121.32L137.9 117.7" stroke="#60b0ec"/><path d="M137.9 117.7L141.82 114.12" stroke="#5cbdeb"/><path d="M145.73 110.56L149.63 107.02M133.78 101.71L137.81 103.08" stroke="#5ad4e3"/><path d="M149.63 107.02L153.51 103.51" stroke="#6ad9d1"/><path d="M157.38 100.02L161.24 96.55" stroke="#89e3ad"/><path d="M161.24 96.55L165.08 93.11" stroke="#9de59b"/><path d="M165.08 93.11L168.91 89.69" stroke="#b3e68a"/><path d="M168.91 89.69L172.72 86.28" stroke="#c8e778"/><path d="M172.72 86.28L176.53 82.9" stroke="#dee866"/><path d="M176.53 82.9L180.31 79.53" stroke="#e8de5f"/><path d="M187.85 72.85L191.59 69.54M162.34 53.52L166.6 54.76" stroke="#f4b05f"/><path d="M202.75 59.71L206.44 56.46M206.6 60.53L210.4 61.31M198.61 54.77L202.55 55.64" stroke="#f07973"/><path d="M206.44 56.46L210.12 53.24M210.29 57.25L214.09 58.01" stroke="#ee7576"/><path d="M210.12 53.24L213.78 50.02M217.84 58.73L221.52 55.41M213.97 54L217.77 54.72" stroke="#ed7079"/><path d="M121.91 137.68L125.91 133.88M125.71 139.2L129.71 135.35M129.47 140.69L133.46 136.8M76.69 114.33L81.05 116.1M81.05 116.1L85.35 117.84M85.35 117.84L89.62 119.56M89.62 119.56L93.83 121.24" stroke="#6f87ed"/><path d="M141.74 119.06L145.67 115.44M125.97 108.55L130 109.98M87.02 89.18L91.52 90.97" stroke="#5bbeea"/><path d="M145.67 115.44L149.58 111.85M133.91 106.52L137.9 107.89" stroke="#57cbe9"/><path d="M153.48 108.28L157.36 104.74M120.68 87.87L124.94 89.36" stroke="#6cdace"/><path d="M168.93 94.24L172.76 90.78" stroke="#b8e686"/><path d="M176.57 87.35L180.37 83.93" stroke="#e3e862"/><path d="M184.16 80.53L187.93 77.15M167.92 67.62L171.99 68.74M154.89 59.61L159.15 60.9" stroke="#edcb5f"/><path d="M195.44 70.45L199.17 67.13M161.07 44.9L165.43 46.23" stroke="#f49d64"/><path d="M210.29 57.25L213.97 54M214.09 58.01L217.84 58.73M206.22 52.44L210.12 53.24" stroke="#ee7377"/><path d="M213.97 54L217.63 50.75" stroke="#ed6f7a"/><path d="M153.38 113.11L157.28 109.51" stroke="#5ed5dd"/><path d="M161.16 105.94L165.03 102.38M133.01 87.55L137.18 88.94" stroke="#7fe0b9"/><path d="M165.03 102.38L168.89 98.85" stroke="#90e4a7"/><path d="M176.56 91.85L180.37 88.38M156.6 77.23L160.67 78.43" stroke="#d2e770"/><path d="M180.37 88.38L184.17 84.93M147.38 65.77L151.65 67.1M124.6 53.39L129.14 55.19" stroke="#e6e75f"/><path d="M184.17 84.93L187.96 81.51M155.41 63.99L159.62 65.25" stroke="#ead65f"/><path d="M206.69 64.63L210.4 61.31M202.75 59.71L206.6 60.53" stroke="#f07c72"/><path d="M217.77 54.72L221.43 51.45" stroke="#ec6d7b"/><path d="M149.3 121.71L153.22 118.02M133.99 111.39L137.93 112.77" stroke="#5ac1ea"/><path d="M161.03 110.72L164.92 107.11M97.99 74.72L102.53 76.56" stroke="#71dbc8"/><path d="M164.92 107.11L168.79 103.52" stroke="#81e1b6"/><path d="M176.49 96.41L180.31 92.89M139.82 72L144.08 73.37" stroke="#c1e67e"/><path d="M180.31 92.89L184.13 89.39" stroke="#d7e76b"/><path d="M184.13 89.39L187.93 85.91" stroke="#e7e35f"/><path d="M187.93 85.91L191.72 82.45M159.62 65.25L163.79 66.46M146.23 56.87L150.58 58.27" stroke="#ebd25f"/><path d="M199.25 75.58L203 72.18M166.05 50.5L170.31 51.71M152.23 42.01L156.67 43.5" stroke="#f4a362"/><path d="M210.45 65.42L214.15 62.07M185.56 43.76L189.73 44.8" stroke="#f07974"/><path d="M214.15 62.07L217.84 58.73" stroke="#ee7476"/><path d="M221.52 55.41L225.19 52.11" stroke="#ec6b7c"/><path d="M42.75 120.98L47.29 122.92M47.29 122.92L51.79 124.84M51.79 124.84L56.23 126.75M56.23 126.75L60.63 128.63M60.63 128.63L64.99 130.5M64.99 130.5L69.3 132.34M69.3 132.34L73.56 134.17M73.56 134.17L77.78 135.98M77.78 135.98L81.95 137.76M81.95 137.76L86.07 139.53M86.07 139.53L90.15 141.27M90.15 141.27L94.18 143M94.18 143L98.17 144.71M98.17 144.71L102.11 146.4M102.11 146.4L106 148.06M106 148.06L109.85 149.71M109.85 149.71L113.65 151.34M113.65 151.34L117.41 152.95" stroke="#7d6ee6"/><path d="M46.79 117.26L51.33 119.19M51.33 119.19L55.82 121.1M55.82 121.1L60.27 122.99" stroke="#7974e8"/><path d="M60.27 122.99L64.67 124.85M64.67 124.85L69.02 126.69M69.02 126.69L73.33 128.51M73.33 128.51L77.59 130.3M77.59 130.3L81.81 132.08M81.81 132.08L85.98 133.83M85.98 133.83L90.11 135.56M90.11 135.56L94.18 137.27M94.18 137.27L98.22 138.96M98.22 138.96L102.2 140.63M102.2 140.63L106.14 142.28M106.14 142.28L110.04 143.91M110.04 143.91L113.88 145.52" stroke="#7975e8"/><path d="M113.88 145.52L117.69 147.1M117.69 147.1L121.44 148.67" stroke="#7976e8"/><path d="M50.81 113.74L55.35 115.67M55.35 115.67L59.84 117.56" stroke="#767aea"/><path d="M59.84 117.56L64.29 119.43M64.29 119.43L68.69 121.27M68.69 121.27L73.04 123.09M73.04 123.09L77.35 124.88M77.35 124.88L81.62 126.65M81.62 126.65L85.83 128.39" stroke="#767bea"/><path d="M85.83 128.39L90 130.11M90 130.11L94.13 131.81" stroke="#757bea"/><path d="M94.13 131.81L98.21 133.49M98.21 133.49L102.24 135.15M102.24 135.15L106.22 136.78M106.22 136.78L110.16 138.39M110.16 138.39L114.06 139.98M114.06 139.98L117.9 141.55" stroke="#757cea"/><path d="M117.9 141.55L121.71 143.1M121.71 143.1L125.46 144.63" stroke="#757dea"/><path d="M63.85 114.1L68.3 115.95" stroke="#7280eb"/><path d="M68.3 115.95L72.7 117.77M72.7 117.77L77.05 119.57M77.05 119.57L81.36 121.33M81.36 121.33L85.62 123.07M85.62 123.07L89.84 124.79" stroke="#7281eb"/><path d="M89.84 124.79L94.01 126.48" stroke="#7281ec"/><path d="M94.01 126.48L98.13 128.15M98.13 128.15L102.21 129.8" stroke="#7282ec"/><path d="M102.21 129.8L106.24 131.42M106.24 131.42L110.23 133.02" stroke="#7182ec"/><path d="M93.83 121.24L98 122.91M98 122.91L102.13 124.55M102.13 124.55L106.21 126.16" stroke="#6e88ed"/><path d="M106.21 126.16L110.24 127.75" stroke="#6e88ee"/><path d="M85.03 112.68L89.33 114.39" stroke="#6c8def"/><path d="M118.2 125.66L122.14 127.17" stroke="#6a8ff0"/><path d="M97.56 112.65L101.78 114.28" stroke="#6895ef"/><path d="M130 124.97L133.85 126.4M75.25 98.87L79.74 100.7M79.74 100.7L84.19 102.49" stroke="#659def"/><path d="M97.25 107.6L101.52 109.24" stroke="#64a0ee"/><path d="M130.06 119.9L133.96 121.32M88.13 99.2L92.53 100.92" stroke="#62a9ed"/><path d="M126.08 113.47L130.06 114.91M83.11 92.39L87.61 94.19" stroke="#5fb3ec"/><path d="M134 116.32L137.9 117.7M96.45 97.64L100.81 99.31" stroke="#5eb5ec"/><path d="M149.47 116.74L153.22 118.02M121.68 102.22L125.8 103.68" stroke="#58c7e9"/><path d="M82.48 87.31L87.02 89.18" stroke="#5bbdeb"/><path d="M129.88 105.12L133.91 106.52" stroke="#58cae9"/><path d="M137.9 107.89L141.84 109.24M108.62 92.78L112.92 94.36" stroke="#57cde9"/><path d="M145.73 110.56L149.58 111.85" stroke="#56d0e8"/><path d="M153.38 113.11L157.14 114.36" stroke="#57d3e5"/><path d="M149.63 107.02L153.48 108.28" stroke="#63d7d8"/><path d="M157.28 109.51L161.03 110.72" stroke="#68d8d3"/><path d="M94.8 82.83L99.3 84.59" stroke="#57d3e6"/><path d="M103.74 86.3L108.15 87.95" stroke="#59d3e3"/><path d="M108.15 87.95L112.5 89.55" stroke="#5bd4e1"/><path d="M125.29 94.1L129.46 95.54" stroke="#62d6d9"/><path d="M133.58 96.94L137.66 98.32M107.61 83.13L112.02 84.76" stroke="#67d8d4"/><path d="M137.66 98.32L141.69 99.66" stroke="#69d9d2"/><path d="M141.69 99.66L145.68 100.97" stroke="#6bd9cf"/><path d="M145.68 100.97L149.62 102.26" stroke="#6edacc"/><path d="M153.51 103.51L157.36 104.74M133.33 92.23L137.45 93.61M107.02 78.3L111.47 79.97" stroke="#73dcc6"/><path d="M157.36 104.74L161.16 105.94" stroke="#75ddc4"/><path d="M161.16 105.94L164.92 107.11M141.53 94.95L145.56 96.27" stroke="#78ddc1"/><path d="M94.14 77.83L98.67 79.68" stroke="#64d7d8"/><path d="M103.17 81.44L107.61 83.13" stroke="#66d7d5"/><path d="M112.02 84.76L116.37 86.34" stroke="#69d8d2"/><path d="M129.16 90.81L133.33 92.23" stroke="#71dbc9"/><path d="M137.45 93.61L141.53 94.95" stroke="#75ddc3"/><path d="M145.56 96.27L149.55 97.55" stroke="#7adebe"/><path d="M149.55 97.55L153.49 98.8M128.8 86.13L133.01 87.55" stroke="#7ddfbb"/><path d="M153.49 98.8L157.38 100.02" stroke="#80e0b8"/><path d="M102.53 76.56L107.02 78.3" stroke="#72dbc7"/><path d="M115.87 81.59L120.23 83.15" stroke="#76ddc2"/><path d="M120.23 83.15L124.53 84.66" stroke="#78dec0"/><path d="M137.18 88.94L141.31 90.29" stroke="#82e1b6"/><path d="M141.31 90.29L145.39 91.61M119.71 78.43L124.07 79.97" stroke="#84e1b3"/><path d="M149.42 92.89L153.4 94.14" stroke="#8ae3ad"/><path d="M153.4 94.14L157.34 95.36" stroke="#8de4aa"/><path d="M161.24 96.55L165.09 97.72" stroke="#95e4a3"/><path d="M168.89 98.85L172.64 99.96" stroke="#9de59c"/><path d="M106.37 73.45L110.87 75.18" stroke="#7fe0b8"/><path d="M115.31 76.84L119.71 78.43" stroke="#82e1b5"/><path d="M124.07 79.97L128.38 81.46" stroke="#86e2b0"/><path d="M132.64 82.91L136.86 84.31" stroke="#8be4ab"/><path d="M136.86 84.31L141.03 85.67" stroke="#8ee4a8"/><path d="M172.73 95.34L176.49 96.41" stroke="#b3e689"/><path d="M114.7 72.09L119.14 73.73" stroke="#8fe4a8"/><path d="M132.21 78.29L136.47 79.71" stroke="#9be59e"/><path d="M144.86 82.43L148.98 83.72" stroke="#a6e595"/><path d="M153.06 84.98L157.09 86.21M136.02 75.13L140.28 76.53" stroke="#aee68e"/><path d="M161.08 87.4L165.02 88.56M126.76 67.55L131.16 69.09" stroke="#b7e686"/><path d="M165.02 88.56L168.91 89.69" stroke="#bbe682"/><path d="M168.91 89.69L172.76 90.78" stroke="#c0e67f"/><path d="M176.56 91.85L180.31 92.89" stroke="#cae777"/><path d="M122.96 70.63L127.36 72.19" stroke="#a4e596"/><path d="M127.36 72.19L131.71 73.69" stroke="#a7e593"/><path d="M140.28 76.53L144.5 77.89" stroke="#b2e68b"/><path d="M152.79 80.47L156.87 81.7" stroke="#bee680"/><path d="M156.87 81.7L160.9 82.89M117.07 59.4L121.61 61.21" stroke="#c3e67d"/><path d="M160.9 82.89L164.89 84.06M126.1 62.89L130.55 64.49" stroke="#c7e779"/><path d="M164.89 84.06L168.83 85.18" stroke="#cce775"/><path d="M172.72 86.28L176.57 87.35" stroke="#d6e76d"/><path d="M176.57 87.35L180.37 88.38" stroke="#dbe769"/><path d="M113.28 62.43L117.82 64.25" stroke="#b0e68c"/><path d="M122.31 65.94L126.76 67.55" stroke="#b4e689"/><path d="M144.08 73.37L148.3 74.7" stroke="#c5e77a"/><path d="M160.67 78.43L164.71 79.6" stroke="#d7e76c"/><path d="M168.69 80.73L172.63 81.83M156.26 72.79L160.38 74.01" stroke="#e1e863"/><path d="M176.53 82.9L180.37 83.93M164.46 75.18L168.49 76.32M151.65 67.1L155.86 68.38M133.63 56.85L138.08 58.41" stroke="#e7e45f"/><path d="M121.61 61.21L126.1 62.89" stroke="#c4e67b"/><path d="M139.3 67.47L143.61 68.88" stroke="#d0e771"/><path d="M147.87 70.23L152.09 71.53" stroke="#d8e76a"/><path d="M152.09 71.53L156.26 72.79" stroke="#dde867"/><path d="M172.48 77.43L176.42 78.49M160.03 69.61L164.16 70.81" stroke="#e9dd5f"/><path d="M176.42 78.49L180.31 79.53M164.16 70.81L168.23 71.95M151.14 62.69L155.41 63.99M132.89 52.2L137.38 53.85" stroke="#ead95f"/><path d="M180.31 79.53L184.16 80.53M168.23 71.95L172.27 73.06" stroke="#ebd55f"/><path d="M125.38 58.19L129.87 59.86" stroke="#d6e76c"/><path d="M134.32 61.44L138.72 62.95" stroke="#dce867"/><path d="M138.72 62.95L143.07 64.39" stroke="#dfe865"/><path d="M176.25 74.14L180.19 75.18" stroke="#eccd5f"/><path d="M187.93 77.15L191.74 78.1" stroke="#f0c15f"/><path d="M180.01 70.87L183.95 71.88M140.34 46.27L144.83 47.9" stroke="#f0be5f"/><path d="M195.5 74.7L199.25 75.58M152.98 46.45L157.38 47.87" stroke="#f4ac5f"/><path d="M167.54 63.31L171.66 64.45M135.8 44.49L140.34 46.27" stroke="#f0c05f"/><path d="M179.77 66.6L183.76 67.62" stroke="#f3b45f"/><path d="M183.76 67.62L187.7 68.6M148.53 44.95L152.98 46.45" stroke="#f4af5f"/><path d="M141.11 50.87L145.56 52.4" stroke="#edca5f"/><path d="M167.1 59.03L171.27 60.19" stroke="#f2b65f"/><path d="M179.47 62.37L183.51 63.39M157.38 47.87L161.74 49.22" stroke="#f5a95f"/><path d="M183.51 63.39L187.49 64.38" stroke="#f5a561"/><path d="M191.43 65.33L195.33 66.24" stroke="#f49d65"/><path d="M170.82 55.94L174.99 57.08" stroke="#f5a860"/><path d="M174.99 57.08L179.11 58.16" stroke="#f4a461"/><path d="M170.31 51.71L174.52 52.88" stroke="#f49f64"/><path d="M165.43 46.23L169.74 47.49" stroke="#f39a66"/><path d="M169.74 47.49L174 48.68" stroke="#f39667"/><path d="M146.87 35.73L151.41 37.49" stroke="#f39a65"/><path d="M164.75 41.95L169.11 43.26" stroke="#f29169"/><path d="M217.77 54.72L221.52 55.41" stroke="#ed6e7a"/><path d="M159.57 36.18L164.01 37.64" stroke="#f28b6c"/><path d="M164.01 37.64L168.41 39.01" stroke="#f1886d"/><path d="M168.41 39.01L172.77 40.3" stroke="#f1856e"/><path d="M193.85 45.78L197.93 46.72" stroke="#ef7676"/><path d="M201.96 47.6L205.95 48.45" stroke="#ee7277"/><path d="M205.95 48.45L209.89 49.26" stroke="#ed7178"/><path d="M209.89 49.26L213.78 50.02" stroke="#ed6f79"/><path d="M213.78 50.02L217.63 50.75" stroke="#ec6d7a"/><path d="M217.63 50.75L221.43 51.45" stroke="#ec6c7b"/><path d="M221.43 51.45L225.19 52.11" stroke="#eb6a7c"/></g>
<g fill="#ee2211"><circle cx="42.5" cy="121.1" r="1.75"/><circle cx="59.3" cy="126.9" r="1.75"/><circle cx="61.3" cy="128.3" r="1.75"/><circle cx="69.5" cy="132.6" r="1.75"/><circle cx="70.6" cy="132.3" r="1.75"/><circle cx="75.7" cy="126" r="1.75"/><circle cx="76.3" cy="126.9" r="1.75"/><circle cx="88.3" cy="130" r="1.75"/><circle cx="93.2" cy="131.3" r="1.75"/><circle cx="97.3" cy="128" r="1.75"/><circle cx="98.9" cy="127.5" r="1.75"/><circle cx="101.9" cy="131.8" r="1.75"/><circle cx="99.2" cy="134.5" r="1.75"/><circle cx="107.9" cy="131.3" r="1.75"/><circle cx="111.2" cy="135" r="1.75"/><circle cx="114.5" cy="114.9" r="1.75"/><circle cx="212.3" cy="42.1" r="1.75"/><circle cx="211.6" cy="45.2" r="1.75"/><circle cx="208" cy="52.7" r="1.75"/><circle cx="222.2" cy="66.4" r="1.75"/><circle cx="183.9" cy="59.8" r="1.75"/><circle cx="192.6" cy="68.6" r="1.75"/><circle cx="195.5" cy="78" r="1.75"/><circle cx="174.9" cy="79.4" r="1.75"/><circle cx="189.1" cy="87" r="1.75"/><circle cx="183.9" cy="92.9" r="1.75"/><circle cx="187.9" cy="95.3" r="1.75"/><circle cx="182.5" cy="97.6" r="1.75"/><circle cx="143.5" cy="97.6" r="1.75"/><circle cx="138.7" cy="107.6" r="1.75"/><circle cx="140.2" cy="109" r="1.75"/><circle cx="167.1" cy="106.4" r="1.75"/><circle cx="151.7" cy="119.4" r="1.75"/></g>
<line x1="308" y1="116.51" x2="435.6" y2="86.01" stroke="#e8e8e8" stroke-width="0.6"/>
<line x1="435.6" y1="86.01" x2="533.6" y2="128.31" stroke="#e8e8e8" stroke-width="0.6"/>
<line x1="308" y1="108.32" x2="435.6" y2="77.82" stroke="#e8e8e8" stroke-width="0.6"/>
<line x1="435.6" y1="77.82" x2="533.6" y2="120.12" stroke="#e8e8e8" stroke-width="0.6"/>
<line x1="308" y1="100.13" x2="435.6" y2="69.63" stroke="#e8e8e8" stroke-width="0.6"/>
<line x1="435.6" y1="69.63" x2="533.6" y2="111.93" stroke="#e8e8e8" stroke-width="0.6"/>
<line x1="308" y1="91.94" x2="435.6" y2="61.44" stroke="#e8e8e8" stroke-width="0.6"/>
<line x1="435.6" y1="61.44" x2="533.6" y2="103.74" stroke="#e8e8e8" stroke-width="0.6"/>
<line x1="308" y1="83.75" x2="435.6" y2="53.25" stroke="#e8e8e8" stroke-width="0.6"/>
<line x1="435.6" y1="53.25" x2="533.6" y2="95.55" stroke="#e8e8e8" stroke-width="0.6"/>
<line x1="308" y1="75.55" x2="435.6" y2="45.05" stroke="#e8e8e8" stroke-width="0.6"/>
<line x1="435.6" y1="45.05" x2="533.6" y2="87.35" stroke="#e8e8e8" stroke-width="0.6"/>
<line x1="308" y1="67.36" x2="435.6" y2="36.86" stroke="#e8e8e8" stroke-width="0.6"/>
<line x1="435.6" y1="36.86" x2="533.6" y2="79.16" stroke="#e8e8e8" stroke-width="0.6"/>
<line x1="308" y1="59.17" x2="435.6" y2="28.67" stroke="#e8e8e8" stroke-width="0.6"/>
<line x1="435.6" y1="28.67" x2="533.6" y2="70.97" stroke="#e8e8e8" stroke-width="0.6"/>
<line x1="308" y1="50.98" x2="435.6" y2="20.48" stroke="#e8e8e8" stroke-width="0.6"/>
<line x1="435.6" y1="20.48" x2="533.6" y2="62.78" stroke="#e8e8e8" stroke-width="0.6"/>
<line x1="308" y1="42.79" x2="435.6" y2="12.29" stroke="#e8e8e8" stroke-width="0.6"/>
<line x1="435.6" y1="12.29" x2="533.6" y2="54.59" stroke="#e8e8e8" stroke-width="0.6"/>
<line x1="323.01" y1="121.11" x2="323.01" y2="31.01" stroke="#e8e8e8" stroke-width="0.6"/>
<line x1="323.01" y1="121.11" x2="421.01" y2="163.41" stroke="#e8e8e8" stroke-width="0.6"/>
<line x1="338.02" y1="117.52" x2="338.02" y2="27.42" stroke="#e8e8e8" stroke-width="0.6"/>
<line x1="338.02" y1="117.52" x2="436.02" y2="159.82" stroke="#e8e8e8" stroke-width="0.6"/>
<line x1="353.04" y1="113.94" x2="353.04" y2="23.84" stroke="#e8e8e8" stroke-width="0.6"/>
<line x1="353.04" y1="113.94" x2="451.04" y2="156.24" stroke="#e8e8e8" stroke-width="0.6"/>
<line x1="368.05" y1="110.35" x2="368.05" y2="20.25" stroke="#e8e8e8" stroke-width="0.6"/>
<line x1="368.05" y1="110.35" x2="466.05" y2="152.65" stroke="#e8e8e8" stroke-width="0.6"/>
<line x1="383.06" y1="106.76" x2="383.06" y2="16.66" stroke="#e8e8e8" stroke-width="0.6"/>
<line x1="383.06" y1="106.76" x2="481.06" y2="149.06" stroke="#e8e8e8" stroke-width="0.6"/>
<line x1="398.07" y1="103.17" x2="398.07" y2="13.07" stroke="#e8e8e8" stroke-width="0.6"/>
<line x1="398.07" y1="103.17" x2="496.07" y2="145.47" stroke="#e8e8e8" stroke-width="0.6"/>
<line x1="413.08" y1="99.58" x2="413.08" y2="9.48" stroke="#e8e8e8" stroke-width="0.6"/>
<line x1="413.08" y1="99.58" x2="511.08" y2="141.88" stroke="#e8e8e8" stroke-width="0.6"/>
<line x1="428.09" y1="95.99" x2="428.09" y2="5.89" stroke="#e8e8e8" stroke-width="0.6"/>
<line x1="428.09" y1="95.99" x2="526.09" y2="138.29" stroke="#e8e8e8" stroke-width="0.6"/>
<line x1="460.1" y1="104.78" x2="460.1" y2="14.68" stroke="#e8e8e8" stroke-width="0.6"/>
<line x1="332.5" y1="135.28" x2="460.1" y2="104.78" stroke="#e8e8e8" stroke-width="0.6"/>
<line x1="484.6" y1="115.35" x2="484.6" y2="25.25" stroke="#e8e8e8" stroke-width="0.6"/>
<line x1="357" y1="145.85" x2="484.6" y2="115.35" stroke="#e8e8e8" stroke-width="0.6"/>
<line x1="509.1" y1="125.93" x2="509.1" y2="35.83" stroke="#e8e8e8" stroke-width="0.6"/>
<line x1="381.5" y1="156.43" x2="509.1" y2="125.93" stroke="#e8e8e8" stroke-width="0.6"/>
<line x1="435.6" y1="94.2" x2="435.6" y2="4.1" stroke="#e8e8e8" stroke-width="0.6"/>
<line x1="308" y1="34.6" x2="435.6" y2="4.1" stroke="#e8e8e8" stroke-width="0.6"/>
<line x1="435.6" y1="4.1" x2="533.6" y2="46.4" stroke="#e8e8e8" stroke-width="0.6"/>
<line x1="533.6" y1="136.5" x2="533.6" y2="46.4" stroke="#e8e8e8" stroke-width="0.6"/>
<line x1="435.6" y1="94.2" x2="533.6" y2="136.5" stroke="#e8e8e8" stroke-width="0.6"/>
<line x1="308" y1="124.7" x2="435.6" y2="94.2" stroke="#e8e8e8" stroke-width="0.6"/>
<line x1="308" y1="124.7" x2="308" y2="34.6" stroke="#8c8c8c" stroke-width="1.0"/>
<line x1="308" y1="124.7" x2="406" y2="167" stroke="#8c8c8c" stroke-width="1.0"/>
<line x1="406" y1="167" x2="533.6" y2="136.5" stroke="#8c8c8c" stroke-width="1.0"/>
<line x1="308" y1="116.51" x2="305.5" y2="117.11" stroke="#8c8c8c" stroke-width="0.7"/>
<line x1="308" y1="108.32" x2="305.5" y2="108.92" stroke="#8c8c8c" stroke-width="0.7"/>
<line x1="308" y1="100.13" x2="305.5" y2="100.73" stroke="#8c8c8c" stroke-width="0.7"/>
<line x1="308" y1="91.94" x2="305.5" y2="92.54" stroke="#8c8c8c" stroke-width="0.7"/>
<line x1="308" y1="83.75" x2="305.5" y2="84.35" stroke="#8c8c8c" stroke-width="0.7"/>
<line x1="308" y1="75.55" x2="305.5" y2="76.15" stroke="#8c8c8c" stroke-width="0.7"/>
<line x1="308" y1="67.36" x2="305.5" y2="67.96" stroke="#8c8c8c" stroke-width="0.7"/>
<line x1="308" y1="59.17" x2="305.5" y2="59.77" stroke="#8c8c8c" stroke-width="0.7"/>
<line x1="308" y1="50.98" x2="305.5" y2="51.58" stroke="#8c8c8c" stroke-width="0.7"/>
<line x1="308" y1="42.79" x2="305.5" y2="43.39" stroke="#8c8c8c" stroke-width="0.7"/>
<line x1="308" y1="124.7" x2="305.5" y2="125.3" stroke="#8c8c8c" stroke-width="0.7"/>
<line x1="308" y1="34.6" x2="305.5" y2="35.2" stroke="#8c8c8c" stroke-width="0.7"/>
<line x1="332.5" y1="135.28" x2="330.07" y2="135.86" stroke="#8c8c8c" stroke-width="0.7"/>
<line x1="357" y1="145.85" x2="354.57" y2="146.43" stroke="#8c8c8c" stroke-width="0.7"/>
<line x1="381.5" y1="156.43" x2="379.07" y2="157.01" stroke="#8c8c8c" stroke-width="0.7"/>
<line x1="308" y1="124.7" x2="305.57" y2="125.28" stroke="#8c8c8c" stroke-width="0.7"/>
<line x1="406" y1="167" x2="403.57" y2="167.58" stroke="#8c8c8c" stroke-width="0.7"/>
<line x1="421.01" y1="163.41" x2="423.31" y2="164.4" stroke="#8c8c8c" stroke-width="0.7"/>
<line x1="436.02" y1="159.82" x2="438.32" y2="160.81" stroke="#8c8c8c" stroke-width="0.7"/>
<line x1="451.04" y1="156.24" x2="453.33" y2="157.23" stroke="#8c8c8c" stroke-width="0.7"/>
<line x1="466.05" y1="152.65" x2="468.34" y2="153.64" stroke="#8c8c8c" stroke-width="0.7"/>
<line x1="481.06" y1="149.06" x2="483.35" y2="150.05" stroke="#8c8c8c" stroke-width="0.7"/>
<line x1="496.07" y1="145.47" x2="498.37" y2="146.46" stroke="#8c8c8c" stroke-width="0.7"/>
<line x1="511.08" y1="141.88" x2="513.38" y2="142.87" stroke="#8c8c8c" stroke-width="0.7"/>
<line x1="526.09" y1="138.29" x2="528.39" y2="139.28" stroke="#8c8c8c" stroke-width="0.7"/>
<line x1="406" y1="167" x2="408.3" y2="167.99" stroke="#8c8c8c" stroke-width="0.7"/>
<line x1="533.6" y1="136.5" x2="535.9" y2="137.49" stroke="#8c8c8c" stroke-width="0.7"/>
<text x="304" y="126.7" font-size="5.9" text-anchor="end" fill="#1e1e1e">0</text>
<text x="304" y="118.51" font-size="5.9" text-anchor="end" fill="#1e1e1e">10</text>
<text x="304" y="110.32" font-size="5.9" text-anchor="end" fill="#1e1e1e">20</text>
<text x="304" y="102.13" font-size="5.9" text-anchor="end" fill="#1e1e1e">30</text>
<text x="304" y="93.94" font-size="5.9" text-anchor="end" fill="#1e1e1e">40</text>
<text x="304" y="85.75" font-size="5.9" text-anchor="end" fill="#1e1e1e">50</text>
<text x="304" y="77.55" font-size="5.9" text-anchor="end" fill="#1e1e1e">60</text>
<text x="304" y="69.36" font-size="5.9" text-anchor="end" fill="#1e1e1e">70</text>
<text x="304" y="61.17" font-size="5.9" text-anchor="end" fill="#1e1e1e">80</text>
<text x="304" y="52.98" font-size="5.9" text-anchor="end" fill="#1e1e1e">90</text>
<text x="304" y="44.79" font-size="5.9" text-anchor="end" fill="#1e1e1e">100</text>
<text x="304" y="36.6" font-size="5.9" text-anchor="end" fill="#1e1e1e">110</text>
<text x="303.5" y="132.2" font-size="5.9" text-anchor="end" fill="#1e1e1e">0.036</text>
<text x="328" y="142.78" font-size="5.9" text-anchor="end" fill="#1e1e1e">0.027</text>
<text x="352.5" y="153.35" font-size="5.9" text-anchor="end" fill="#1e1e1e">0.018</text>
<text x="377" y="163.93" font-size="5.9" text-anchor="end" fill="#1e1e1e">0.009</text>
<text x="401.5" y="174.5" font-size="5.9" text-anchor="end" fill="#1e1e1e">0</text>
<text x="411" y="174.2" font-size="5.9" text-anchor="start" fill="#1e1e1e">0</text>
<text x="426.01" y="170.61" font-size="5.9" text-anchor="start" fill="#1e1e1e">1</text>
<text x="441.02" y="167.02" font-size="5.9" text-anchor="start" fill="#1e1e1e">2</text>
<text x="456.04" y="163.44" font-size="5.9" text-anchor="start" fill="#1e1e1e">3</text>
<text x="471.05" y="159.85" font-size="5.9" text-anchor="start" fill="#1e1e1e">4</text>
<text x="486.06" y="156.26" font-size="5.9" text-anchor="start" fill="#1e1e1e">5</text>
<text x="501.07" y="152.67" font-size="5.9" text-anchor="start" fill="#1e1e1e">6</text>
<text x="516.08" y="149.08" font-size="5.9" text-anchor="start" fill="#1e1e1e">7</text>
<text x="531.09" y="145.49" font-size="5.9" text-anchor="start" fill="#1e1e1e">8</text>
<text x="538.6" y="143.7" font-size="5.9" text-anchor="start" fill="#1e1e1e">8.5</text>
<g fill="none" stroke-width="0.58" stroke-linecap="round"><path d="M314.38 123.17L318.85 118.53M318.91 125.13L323.38 120.54M323.44 127.09L327.91 122.55M327.98 129.04L332.44 124.56M332.51 131L336.98 126.57M337.04 132.96L341.51 128.57M341.57 134.91L346.04 130.58M346.11 136.87L350.57 132.59M350.64 138.83L355.11 134.6M355.17 140.78L359.64 136.61M359.7 142.74L364.17 138.62M364.24 144.7L368.7 140.63" stroke="#7b72e7"/><path d="M318.85 118.53L323.31 114.22M391.3 145.07L395.83 147.12" stroke="#767aea"/><path d="M323.31 114.22L327.78 110.03M327.84 116.28L332.31 112.14M373.1 131.05L377.64 133.16M377.64 133.16L382.17 135.26" stroke="#7282ec"/><path d="M327.78 110.03L332.24 105.92M332.31 112.14L336.78 108.07M400.23 138.12L404.7 134.72M368.5 123.09L373.04 125.24" stroke="#6e89ee"/><path d="M332.24 105.92L336.71 101.86M363.9 115L368.44 117.19" stroke="#6990f0"/><path d="M336.71 101.86L341.18 97.84M386.5 120.17L390.97 116.62M363.84 109L368.37 111.24M404.56 123.45L409.1 125.72" stroke="#659eee"/><path d="M341.18 97.84L345.64 93.85M418.1 124.68L422.56 121.38M363.77 102.96L368.3 105.23" stroke="#61aced"/><path d="M345.64 93.85L350.11 89.89" stroke="#5cbaeb"/><path d="M350.11 89.89L354.57 85.96M386.3 102.49L390.77 98.87" stroke="#58c8e9"/><path d="M354.57 85.96L359.04 82.05M386.24 96.47L390.7 92.83" stroke="#5bd4e2"/><path d="M359.04 82.05L363.51 78.16" stroke="#6cdace"/><path d="M363.51 78.16L367.97 74.29" stroke="#7ddfba"/><path d="M367.97 74.29L372.44 70.43M381.5 75.49L386.04 78.01" stroke="#90e4a7"/><path d="M372.44 70.43L376.9 66.59" stroke="#a8e593"/><path d="M376.9 66.59L381.37 62.77M440.16 84.71L444.63 81.36M449.16 84.09L453.69 86.82" stroke="#c0e67f"/><path d="M381.37 62.77L385.84 58.95" stroke="#d8e76b"/><path d="M385.84 58.95L390.3 55.15M426.5 70.45L430.96 66.95M476.15 82.74L480.62 79.58M435.49 69.72L440.03 72.48" stroke="#e8e15f"/><path d="M390.3 55.15L394.77 51.36" stroke="#eccf5f"/><path d="M394.77 51.36L399.23 47.58M448.96 65.67L453.42 62.27M471.49 67.65L476.02 70.58" stroke="#f0be5f"/><path d="M399.23 47.58L403.7 43.81" stroke="#f4ac5f"/><path d="M403.7 43.81L408.17 40.05M421.76 48.59L426.23 44.96M412.7 42.9L417.23 45.74M475.89 58.12L480.42 61.13M489.42 60.92L493.95 63.96" stroke="#f49c65"/><path d="M408.17 40.05L412.63 36.3M471.36 55.12L475.82 51.79" stroke="#f28c6b"/><path d="M412.63 36.3L417.1 32.56M421.63 35.48L426.16 38.41M453.23 43.11L457.76 46.11" stroke="#f07d72"/><path d="M417.1 32.56L421.56 28.82M448.69 40.11L453.16 36.58" stroke="#ef7676"/><path d="M421.56 28.82L426.03 25.09" stroke="#ed7179"/><path d="M426.03 25.09L430.5 21.37" stroke="#ec6c7c"/><path d="M323.38 120.54L327.84 116.28M327.91 122.55L332.38 118.34M332.44 124.56L336.91 120.39M336.98 126.57L341.44 122.45" stroke="#767ae9"/><path d="M336.78 108.07L341.24 104.05M391.1 128.14L395.57 124.64M368.44 117.19L372.97 119.38" stroke="#6a90f0"/><path d="M341.24 104.05L345.71 100.07M409.1 125.72L413.63 128" stroke="#659def"/><path d="M345.71 100.07L350.17 96.13M386.43 114.34L390.9 110.76M368.3 105.23L372.84 107.51M404.5 117.72L409.03 120.04" stroke="#61abed"/><path d="M350.17 96.13L354.64 92.21M386.37 108.44L390.83 104.85M418.03 119.01L422.5 115.69M368.24 99.17L372.77 101.49M404.43 111.93L408.96 114.29" stroke="#5db9eb"/><path d="M354.64 92.21L359.11 88.32M417.96 113.29L422.43 109.93M372.7 95.4L377.24 97.77" stroke="#59c7e9"/><path d="M359.11 88.32L363.57 84.45M390.77 98.87L395.23 95.27M417.9 107.49L422.36 104.11M404.3 100.16L408.83 102.6" stroke="#58d3e5"/><path d="M363.57 84.45L368.04 80.61M417.83 101.63L422.3 98.22M440.43 108.32L444.89 105.09" stroke="#69d9d1"/><path d="M368.04 80.61L372.5 76.77M395.17 89.2L399.63 85.59M440.36 102.53L444.82 99.27" stroke="#7adebe"/><path d="M372.5 76.77L376.97 72.96M386.04 78.01L390.57 80.54M431.23 91.44L435.76 94.05" stroke="#8be4ab"/><path d="M376.97 72.96L381.44 69.16" stroke="#a3e597"/><path d="M381.44 69.16L385.9 65.37M404.03 75.8L408.5 72.19" stroke="#bbe683"/><path d="M385.9 65.37L390.37 61.6M462.69 86.32L467.15 83.1" stroke="#d2e770"/><path d="M390.37 61.6L394.83 57.84M471.62 79.9L476.15 82.74" stroke="#e7e55f"/><path d="M394.83 57.84L399.3 54.09M480.62 79.58L485.09 76.43M458.02 71.36L462.56 74.2" stroke="#ebd45f"/><path d="M399.3 54.09L403.77 50.35M444.43 62.82L448.96 65.67M489.55 73.28L494.08 76.24" stroke="#efc35f"/><path d="M403.77 50.35L408.23 46.62M430.83 54.28L435.36 57.13" stroke="#f3b25f"/><path d="M408.23 46.62L412.7 42.9M457.89 58.88L462.36 55.5M417.23 45.74L421.76 48.59" stroke="#f4a163"/><path d="M412.7 42.9L417.16 39.18" stroke="#f29269"/><path d="M417.16 39.18L421.63 35.48M471.29 48.75L475.82 51.79" stroke="#f18270"/><path d="M421.63 35.48L426.1 31.78M453.23 43.11L457.69 39.62M430.63 34.75L435.16 37.71" stroke="#ef7874"/><path d="M426.1 31.78L430.56 28.1M435.1 31.1L439.63 34.1" stroke="#ee7377"/><path d="M430.56 28.1L435.03 24.42" stroke="#ec6e7a"/><path d="M332.38 118.34L336.84 114.24M336.91 120.39L341.38 116.34M341.44 122.45L345.91 118.44M382.17 135.26L386.7 137.36M386.7 137.36L391.23 139.46" stroke="#7281eb"/><path d="M336.84 114.24L341.31 110.21M373.04 125.24L377.57 127.39" stroke="#6e88ee"/><path d="M341.31 110.21L345.77 106.24M345.84 112.36L350.31 108.43M400.16 132.52L404.63 129.11M372.97 119.38L377.5 121.57M377.5 121.57L382.03 123.76" stroke="#6a8fef"/><path d="M345.77 106.24L350.24 102.3M395.57 124.64L400.03 121.17M372.9 113.47L377.44 115.71M413.63 128L418.16 130.28" stroke="#669bef"/><path d="M350.24 102.3L354.71 98.4M372.84 107.51L377.37 109.79" stroke="#62a9ed"/><path d="M354.71 98.4L359.17 94.53M422.56 121.38L427.03 118.09M408.96 114.29L413.5 116.65" stroke="#5db7eb"/><path d="M359.17 94.53L363.64 90.68M377.24 97.77L381.77 100.13" stroke="#59c5ea"/><path d="M363.64 90.68L368.11 86.86M395.3 101.27L399.77 97.71M422.43 109.93L426.89 106.6M408.83 102.6L413.36 105.05" stroke="#55d2e8"/><path d="M368.11 86.86L372.57 83.05M422.36 104.11L426.83 100.75" stroke="#66d8d5"/><path d="M372.57 83.05L377.04 79.26M386.1 84.23L390.63 86.72" stroke="#77ddc1"/><path d="M377.04 79.26L381.5 75.49M444.82 99.27L449.29 96.02M390.57 80.54L395.1 83.06" stroke="#88e3af"/><path d="M381.5 75.49L385.97 71.73M426.69 88.84L431.16 85.43" stroke="#9ee59b"/><path d="M385.97 71.73L390.44 67.98M408.56 78.41L413.03 74.84" stroke="#b5e688"/><path d="M390.44 67.98L394.9 64.25" stroke="#cce774"/><path d="M394.9 64.25L399.37 60.53" stroke="#e3e861"/><path d="M399.37 60.53L403.83 56.82M453.56 74.68L458.02 71.36" stroke="#ead95f"/><path d="M403.83 56.82L408.3 53.12M439.96 66.26L444.43 62.82M471.55 73.81L476.02 70.58" stroke="#eec85f"/><path d="M408.3 53.12L412.76 49.42M426.36 57.84L430.83 54.28M417.3 52.23L421.83 55.04M435.36 57.13L439.89 59.97M466.96 64.73L471.49 67.65" stroke="#f2b75f"/><path d="M412.76 49.42L417.23 45.74" stroke="#f5a660"/><path d="M417.23 45.74L421.7 42.07M408.17 40.05L412.7 42.9M457.82 52.53L462.36 55.5" stroke="#f39767"/><path d="M421.7 42.07L426.16 38.41" stroke="#f1886d"/><path d="M426.16 38.41L430.63 34.75M417.1 32.56L421.63 35.48" stroke="#f07973"/><path d="M430.63 34.75L435.1 31.1" stroke="#ee7576"/><path d="M435.1 31.1L439.56 27.46M444.09 30.5L448.63 33.54" stroke="#ed7079"/><path d="M341.38 116.34L345.84 112.36M345.91 118.44L350.37 114.51M404.76 140.27L409.23 136.91M377.57 127.39L382.1 129.53M382.1 129.53L386.63 131.68" stroke="#6e88ed"/><path d="M350.31 108.43L354.77 104.54M377.44 115.71L381.97 117.94" stroke="#669aef"/><path d="M354.77 104.54L359.24 100.68M395.5 118.89L399.97 115.4M377.37 109.79L381.9 112.06M413.56 122.36L418.1 124.68" stroke="#62a8ed"/><path d="M359.24 100.68L363.71 96.85M427.09 123.74L431.56 120.49M413.5 116.65L418.03 119.01" stroke="#5eb5ec"/><path d="M363.71 96.85L368.17 93.04M381.77 100.13L386.3 102.49" stroke="#5ac3ea"/><path d="M368.17 93.04L372.64 89.26M399.83 103.67L404.3 100.16M413.36 105.05L417.9 107.49" stroke="#56d0e8"/><path d="M372.64 89.26L377.1 85.49" stroke="#63d7d8"/><path d="M377.1 85.49L381.57 81.74M426.83 100.75L431.29 97.39M390.63 86.72L395.17 89.2" stroke="#74dcc5"/><path d="M381.57 81.74L386.04 78.01M417.7 89.69L422.23 92.26" stroke="#85e2b2"/><path d="M386.04 78.01L390.5 74.29M449.29 96.02L453.76 92.78M440.23 90.72L444.76 93.37M458.29 95.46L462.82 98.15" stroke="#99e59f"/><path d="M390.5 74.29L394.97 70.59" stroke="#b0e68c"/><path d="M394.97 70.59L399.43 66.9M435.63 82.03L440.09 78.63M444.63 81.36L449.16 84.09" stroke="#c6e779"/><path d="M399.43 66.9L403.9 63.21" stroke="#dde866"/><path d="M403.9 63.21L408.37 59.54M458.09 77.49L462.56 74.2M480.62 79.58L485.15 82.47" stroke="#e8de5f"/><path d="M408.37 59.54L412.83 55.88M489.62 79.35L494.08 76.24M435.43 63.46L439.96 66.26" stroke="#edcd5f"/><path d="M412.83 55.88L417.3 52.23M462.49 68.04L466.96 64.73M421.83 55.04L426.36 57.84" stroke="#f1bc5f"/><path d="M417.3 52.23L421.76 48.59M480.49 67.35L484.95 64.13M494.02 70.14L498.48 67M408.23 46.62L412.76 49.42M426.3 51.44L430.83 54.28" stroke="#f5ac5f"/><path d="M426.23 44.96L430.7 41.33M417.16 39.18L421.7 42.07" stroke="#f28d6b"/><path d="M430.7 41.33L435.16 37.71" stroke="#f07e71"/><path d="M435.16 37.71L439.63 34.1M444.16 37.11L448.69 40.11" stroke="#ef7775"/><path d="M439.63 34.1L444.09 30.5M448.63 33.54L453.16 36.58" stroke="#ee7278"/><path d="M350.37 114.51L354.84 110.62M354.91 116.65L359.37 112.81M404.7 134.72L409.16 131.34M409.23 136.91L413.7 133.58M382.03 123.76L386.57 125.95" stroke="#6b8eef"/><path d="M354.84 110.62L359.31 106.77" stroke="#6799ef"/><path d="M359.31 106.77L363.77 102.96M400.03 121.17L404.5 117.72" stroke="#62a6ed"/><path d="M363.77 102.96L368.24 99.17M399.97 115.4L404.43 111.93M381.84 106.13L386.37 108.44" stroke="#5eb4ec"/><path d="M368.24 99.17L372.7 95.4M350.11 89.89L354.64 92.21M386.3 102.49L390.83 104.85" stroke="#5ac1ea"/><path d="M372.7 95.4L377.17 91.66M354.57 85.96L359.11 88.32" stroke="#56cee8"/><path d="M377.17 91.66L381.64 87.94M417.83 101.63L422.36 104.11" stroke="#60d6db"/><path d="M381.64 87.94L386.1 84.23M431.36 103.27L435.83 99.96M395.17 89.2L399.7 91.69" stroke="#71dbc9"/><path d="M386.1 84.23L390.57 80.54M372.5 76.77L377.04 79.26" stroke="#81e0b6"/><path d="M390.57 80.54L395.03 76.86" stroke="#94e4a4"/><path d="M395.03 76.86L399.5 73.2" stroke="#aae591"/><path d="M399.5 73.2L403.97 69.54" stroke="#c1e67e"/><path d="M403.97 69.54L408.43 65.9M467.15 83.1L471.69 85.91" stroke="#d7e76b"/><path d="M408.43 65.9L412.9 62.27M453.56 74.68L458.09 77.49" stroke="#e7e35f"/><path d="M412.9 62.27L417.36 58.65M430.96 66.95L435.43 63.46M421.9 61.42L426.43 64.18M439.96 66.26L444.49 69.07M471.55 73.81L476.09 76.7" stroke="#ebd25f"/><path d="M417.36 58.65L421.83 55.04M435.43 63.46L439.89 59.97M467.02 70.92L471.49 67.65M408.3 53.12L412.83 55.88M426.36 57.84L430.89 60.65" stroke="#efc25f"/><path d="M421.83 55.04L426.3 51.44M412.76 49.42L417.3 52.23M462.42 61.8L466.96 64.73" stroke="#f3b15f"/><path d="M426.3 51.44L430.76 47.84M480.42 61.13L484.95 64.13M493.95 63.96L498.48 67" stroke="#f4a262"/><path d="M430.76 47.84L435.23 44.25M475.89 58.12L480.35 54.83" stroke="#f39369"/><path d="M435.23 44.25L439.69 40.68M457.76 46.11L462.29 49.12" stroke="#f1846f"/><path d="M439.69 40.68L444.16 37.11" stroke="#f07874"/><path d="M444.16 37.11L448.63 33.54" stroke="#ee7477"/><path d="M341.51 128.57L345.97 124.51" stroke="#7679e9"/><path d="M345.97 124.51L350.44 120.54M350.51 126.56L354.97 122.65M355.04 128.62L359.51 124.75M395.77 141.57L400.3 143.67" stroke="#7380eb"/><path d="M350.44 120.54L354.91 116.65M354.97 122.65L359.44 118.8M386.63 131.68L391.17 133.83M391.17 133.83L395.7 135.97" stroke="#6f87ed"/><path d="M359.37 112.81L363.84 109M404.63 129.11L409.1 125.72M381.97 117.94L386.5 120.17" stroke="#6798ef"/><path d="M363.84 109L368.3 105.23M404.56 123.45L409.03 120.04M386.43 114.34L390.97 116.62" stroke="#63a5ee"/><path d="M368.3 105.23L372.77 101.49M404.5 117.72L408.96 114.29M386.37 108.44L390.9 110.76" stroke="#5fb2ec"/><path d="M372.77 101.49L377.24 97.77M354.64 92.21L359.17 94.53M390.83 104.85L395.37 107.21" stroke="#5bbfea"/><path d="M377.24 97.77L381.7 94.06M359.11 88.32L363.64 90.68" stroke="#57cce9"/><path d="M381.7 94.06L386.17 90.38M408.83 102.6L413.3 99.14M395.23 95.27L399.77 97.71" stroke="#5ed5de"/><path d="M386.17 90.38L390.63 86.72M399.7 91.69L404.23 94.17M444.89 105.09L449.42 107.66" stroke="#6edacc"/><path d="M390.63 86.72L395.1 83.06M377.04 79.26L381.57 81.74" stroke="#7edfba"/><path d="M395.1 83.06L399.57 79.43" stroke="#8ee4a8"/><path d="M399.57 79.43L404.03 75.8M431.16 85.43L435.69 88.07" stroke="#a5e595"/><path d="M408.5 72.19L412.96 68.59" stroke="#d1e771"/><path d="M412.96 68.59L417.43 65M449.09 78.02L453.56 74.68M480.69 85.59L485.15 82.47M421.96 67.72L426.5 70.45M440.03 72.48L444.56 75.25" stroke="#e6e75f"/><path d="M417.43 65L421.9 61.42M435.49 69.72L439.96 66.26M426.43 64.18L430.96 66.95" stroke="#ead75f"/><path d="M421.9 61.42L426.36 57.84M485.09 76.43L489.55 73.28M412.83 55.88L417.36 58.65M430.89 60.65L435.43 63.46" stroke="#eec75f"/><path d="M430.83 54.28L435.29 50.73M462.42 61.8L466.89 58.46M403.7 43.81L408.23 46.62M421.76 48.59L426.3 51.44" stroke="#f5a760"/><path d="M435.29 50.73L439.76 47.18" stroke="#f39866"/><path d="M439.76 47.18L444.23 43.64M462.29 49.12L466.82 52.12" stroke="#f28a6c"/><path d="M444.23 43.64L448.69 40.11" stroke="#f07b72"/><path d="M346.04 130.58L350.51 126.56M350.57 132.59L355.04 128.62M355.11 134.6L359.57 130.67M359.64 136.61L364.1 132.73" stroke="#7779e9"/><path d="M359.44 118.8L363.9 115M363.97 120.95L368.44 117.19M386.57 125.95L391.1 128.14M391.1 128.14L395.63 130.33" stroke="#6b8def"/><path d="M363.9 115L368.37 111.24M409.16 131.34L413.63 128M336.71 101.86L341.24 104.05" stroke="#6796ef"/><path d="M368.37 111.24L372.84 107.51M409.1 125.72L413.56 122.36M345.71 100.07L350.24 102.3M390.97 116.62L395.5 118.89" stroke="#63a3ee"/><path d="M372.84 107.51L377.3 103.81M409.03 120.04L413.5 116.65" stroke="#5fb0ec"/><path d="M377.3 103.81L381.77 100.13M408.96 114.29L413.43 110.88M359.17 94.53L363.71 96.85" stroke="#5bbdeb"/><path d="M381.77 100.13L386.24 96.47M436.03 117.27L440.49 114.05M363.64 90.68L368.17 93.04" stroke="#57cae9"/><path d="M390.7 92.83L395.17 89.2" stroke="#6bd9d0"/><path d="M399.63 85.59L404.1 81.99M422.23 92.26L426.69 88.84" stroke="#8ae3ac"/><path d="M404.1 81.99L408.56 78.41M444.76 93.37L449.22 90.09M462.82 98.15L467.29 95M435.69 88.07L440.23 90.72" stroke="#9fe59a"/><path d="M413.03 74.84L417.5 71.28" stroke="#cbe776"/><path d="M417.5 71.28L421.96 67.72M453.62 80.79L458.09 77.49" stroke="#e0e864"/><path d="M421.96 67.72L426.43 64.18M440.03 72.48L444.49 69.07M471.62 79.9L476.09 76.7M430.96 66.95L435.49 69.72" stroke="#e9dc5f"/><path d="M426.43 64.18L430.89 60.65M417.36 58.65L421.9 61.42M467.02 70.92L471.55 73.81" stroke="#edcc5f"/><path d="M430.89 60.65L435.36 57.13" stroke="#f1bd5f"/><path d="M435.36 57.13L439.83 53.61M466.96 64.73L471.42 61.42" stroke="#f4ad5f"/><path d="M439.83 53.61L444.29 50.1" stroke="#f49e64"/><path d="M444.29 50.1L448.76 46.6M466.82 52.12L471.36 55.12" stroke="#f2906a"/><path d="M448.76 46.6L453.23 43.11" stroke="#f18170"/><path d="M359.51 124.75L363.97 120.95M364.04 126.85L368.5 123.09M395.7 135.97L400.23 138.12M400.23 138.12L404.76 140.27" stroke="#6f86ed"/><path d="M368.44 117.19L372.9 113.47" stroke="#6895ef"/><path d="M372.9 113.47L377.37 109.79M350.24 102.3L354.77 104.54" stroke="#64a2ee"/><path d="M377.37 109.79L381.84 106.13M354.71 98.4L359.24 100.68M395.43 113.08L399.97 115.4" stroke="#60afec"/><path d="M381.84 106.13L386.3 102.49M413.5 116.65L417.96 113.29M363.71 96.85L368.24 99.17M399.9 109.57L404.43 111.93" stroke="#5cbbeb"/><path d="M395.23 95.27L399.7 91.69M381.64 87.94L386.17 90.38" stroke="#67d8d3"/><path d="M399.7 91.69L404.17 88.12M444.89 105.09L449.36 101.87" stroke="#77ddc2"/><path d="M404.17 88.12L408.63 84.56" stroke="#86e2b0"/><path d="M408.63 84.56L413.1 81.02M372.44 70.43L376.97 72.96" stroke="#9ae59f"/><path d="M413.1 81.02L417.56 77.48" stroke="#afe68d"/><path d="M417.56 77.48L422.03 73.96M462.69 86.32L467.22 89.09" stroke="#c5e77b"/><path d="M422.03 73.96L426.5 70.45M440.09 78.63L444.56 75.25M431.03 73.18L435.56 75.91M449.09 78.02L453.62 80.79" stroke="#dae769"/><path d="M439.89 59.97L444.36 56.5M471.49 67.65L475.95 64.39M485.02 70.31L489.49 67.13M498.55 73.14L503.02 70.04" stroke="#f3b35f"/><path d="M444.36 56.5L448.83 53.03" stroke="#f4a462"/><path d="M448.83 53.03L453.29 49.57M484.89 57.87L489.42 60.92" stroke="#f39668"/><path d="M453.29 49.57L457.76 46.11" stroke="#f1876d"/><path d="M457.76 46.11L462.22 42.67M435.16 37.71L439.69 40.68" stroke="#f07a73"/><path d="M359.57 130.67L364.04 126.85M364.1 132.73L368.57 128.95M368.64 134.79L373.1 131.05" stroke="#737feb"/><path d="M368.5 123.09L372.97 119.38M332.24 105.92L336.78 108.07M336.78 108.07L341.31 110.21M395.63 130.33L400.16 132.52" stroke="#6c8cef"/><path d="M372.97 119.38L377.44 115.71M345.77 106.24L350.31 108.43M395.57 124.64L400.1 126.88" stroke="#6894f0"/><path d="M377.44 115.71L381.9 112.06M413.63 128L418.1 124.68M395.5 118.89L400.03 121.17" stroke="#64a1ee"/><path d="M381.9 112.06L386.37 108.44M399.97 115.4L404.5 117.72" stroke="#60aded"/><path d="M390.83 104.85L395.3 101.27" stroke="#59c6ea"/><path d="M399.77 97.71L404.23 94.17M386.17 90.38L390.7 92.83M413.3 99.14L417.83 101.63M435.89 105.8L440.43 108.32" stroke="#64d7d7"/><path d="M404.23 94.17L408.7 90.64" stroke="#74dcc6"/><path d="M408.7 90.64L413.16 87.13M440.29 96.66L444.82 99.27" stroke="#83e1b4"/><path d="M413.16 87.13L417.63 83.62" stroke="#94e4a3"/><path d="M417.63 83.62L422.1 80.13" stroke="#a9e592"/><path d="M422.1 80.13L426.56 76.65M390.44 67.98L394.97 70.59" stroke="#bee680"/><path d="M426.56 76.65L431.03 73.18M453.62 80.79L458.16 83.55" stroke="#d3e76f"/><path d="M431.03 73.18L435.49 69.72" stroke="#e6e65f"/><path d="M444.43 62.82L448.89 59.38M399.23 47.58L403.77 50.35" stroke="#f2b85f"/><path d="M448.89 59.38L453.36 55.95M471.42 61.42L475.95 64.39" stroke="#f5a95f"/><path d="M453.36 55.95L457.82 52.53" stroke="#f39b65"/><path d="M457.82 52.53L462.29 49.12M435.23 44.25L439.76 47.18" stroke="#f28e6b"/><path d="M462.29 49.12L466.76 45.71M439.69 40.68L444.23 43.64" stroke="#f18071"/><path d="M368.57 128.95L373.04 125.24" stroke="#7086ed"/><path d="M373.04 125.24L377.5 121.57M341.31 110.21L345.84 112.36M400.16 132.52L404.7 134.72" stroke="#6c8cee"/><path d="M377.5 121.57L381.97 117.94M350.31 108.43L354.84 110.62M400.1 126.88L404.63 129.11" stroke="#6893f0"/><path d="M381.97 117.94L386.43 114.34M359.31 106.77L363.84 109" stroke="#659fee"/><path d="M390.9 110.76L395.37 107.21M372.77 101.49L377.3 103.81" stroke="#5db8eb"/><path d="M395.37 107.21L399.83 103.67M422.5 115.69L426.96 112.38M408.9 108.48L413.43 110.88" stroke="#59c4ea"/><path d="M404.3 100.16L408.76 96.66M390.7 92.83L395.23 95.27" stroke="#61d6da"/><path d="M408.76 96.66L413.23 93.17M368.04 80.61L372.57 83.05" stroke="#70dbc9"/><path d="M413.23 93.17L417.7 89.69" stroke="#7fe0b9"/><path d="M417.7 89.69L422.16 86.23" stroke="#8fe4a8"/><path d="M422.16 86.23L426.63 82.78" stroke="#a4e596"/><path d="M426.63 82.78L431.09 79.34M462.76 92.27L467.22 89.09M394.97 70.59L399.5 73.2" stroke="#b8e685"/><path d="M431.09 79.34L435.56 75.91M449.16 84.09L453.62 80.79M440.09 78.63L444.63 81.36" stroke="#cde774"/><path d="M435.56 75.91L440.03 72.48M385.84 58.95L390.37 61.6M426.5 70.45L431.03 73.18M444.56 75.25L449.09 78.02" stroke="#e1e863"/><path d="M444.49 69.07L448.96 65.67" stroke="#eccd5f"/><path d="M453.42 62.27L457.89 58.88M489.49 67.13L494.02 70.14" stroke="#f4af5f"/><path d="M462.36 55.5L466.82 52.12M439.76 47.18L444.29 50.1" stroke="#f39468"/><path d="M466.82 52.12L471.29 48.75M444.23 43.64L448.76 46.6" stroke="#f1866e"/><path d="M364.17 138.62L368.64 134.79M368.7 140.63L373.17 136.84M373.24 142.64L377.7 138.9M377.77 144.64L382.23 140.96M382.3 146.65L386.77 143.01" stroke="#7778e9"/><path d="M373.1 131.05L377.57 127.39M327.78 110.03L332.31 112.14M332.31 112.14L336.84 114.24" stroke="#7085ed"/><path d="M377.57 127.39L382.03 123.76M345.84 112.36L350.37 114.51M404.7 134.72L409.23 136.91" stroke="#6c8bee"/><path d="M382.03 123.76L386.5 120.17M386.57 125.95L391.03 122.41M359.37 112.81L363.9 115M404.63 129.11L409.16 131.34M409.16 131.34L413.7 133.58" stroke="#6991f0"/><path d="M390.97 116.62L395.43 113.08M422.63 127L427.09 123.74M409.03 120.04L413.56 122.36" stroke="#61aaed"/><path d="M395.43 113.08L399.9 109.57M377.3 103.81L381.84 106.13" stroke="#5eb6eb"/><path d="M399.9 109.57L404.37 106.08M427.03 118.09L431.49 114.82M413.43 110.88L417.96 113.29" stroke="#5ac2ea"/><path d="M404.37 106.08L408.83 102.6M417.9 107.49L422.43 109.93" stroke="#56cde9"/><path d="M413.3 99.14L417.76 95.69M435.89 105.8L440.36 102.53M372.57 83.05L377.1 85.49" stroke="#6ddacd"/><path d="M417.76 95.69L422.23 92.26M449.36 101.87L453.89 104.48" stroke="#7bdfbd"/><path d="M431.16 85.43L435.63 82.03M458.22 89.54L462.76 92.27" stroke="#b2e68a"/><path d="M444.56 75.25L449.02 71.88M417.43 65L421.96 67.72" stroke="#e8e25f"/><path d="M449.02 71.88L453.49 68.51M403.83 56.82L408.37 59.54" stroke="#ebd35f"/><path d="M453.49 68.51L457.96 65.15M476.02 70.58L480.55 73.5" stroke="#efc45f"/><path d="M457.96 65.15L462.42 61.8" stroke="#f2b55f"/><path d="M466.89 58.46L471.36 55.12M444.29 50.1L448.83 53.03" stroke="#f39a66"/><path d="M373.17 136.84L377.64 133.16" stroke="#747feb"/><path d="M377.64 133.16L382.1 129.53M336.84 114.24L341.38 116.34" stroke="#7085ec"/><path d="M382.1 129.53L386.57 125.95M350.37 114.51L354.91 116.65" stroke="#6d8bee"/><path d="M391.03 122.41L395.5 118.89M368.37 111.24L372.9 113.47" stroke="#669cef"/><path d="M404.43 111.93L408.9 108.48M431.56 120.49L436.03 117.27M417.96 113.29L422.5 115.69" stroke="#5bc0ea"/><path d="M408.9 108.48L413.36 105.05M395.3 101.27L399.83 103.67M422.43 109.93L426.96 112.38" stroke="#57cbe9"/><path d="M413.36 105.05L417.83 101.63M399.77 97.71L404.3 100.16" stroke="#5bd4e1"/><path d="M422.3 98.22L426.76 94.83" stroke="#78ddc1"/><path d="M426.76 94.83L431.23 91.44" stroke="#86e2b1"/><path d="M431.23 91.44L435.69 88.07" stroke="#98e5a0"/><path d="M435.69 88.07L440.16 84.71M453.76 92.78L458.22 89.54M381.44 69.16L385.97 71.73M444.69 87.4L449.22 90.09" stroke="#ace58f"/><path d="M444.63 81.36L449.09 78.02" stroke="#d3e76e"/><path d="M458.02 71.36L462.49 68.04M480.55 73.5L485.09 76.43" stroke="#edca5f"/><path d="M471.42 61.42L475.89 58.12" stroke="#f4a063"/><path d="M368.77 146.65L373.24 142.64M373.3 148.61L377.77 144.64M377.83 150.56L382.3 146.65M382.37 152.52L386.83 148.66M386.9 154.48L391.37 150.67" stroke="#7b71e7"/><path d="M377.7 138.9L382.17 135.26M382.23 140.96L386.7 137.36M323.31 114.22L327.84 116.28M327.84 116.28L332.38 118.34" stroke="#747eeb"/><path d="M382.17 135.26L386.63 131.68M386.7 137.36L391.17 133.83M341.38 116.34L345.91 118.44M345.91 118.44L350.44 120.54" stroke="#7084ec"/><path d="M386.63 131.68L391.1 128.14M391.17 133.83L395.63 130.33M354.91 116.65L359.44 118.8M359.44 118.8L363.97 120.95" stroke="#6d8aee"/><path d="M413.43 110.88L417.9 107.49M368.17 93.04L372.7 95.4M399.83 103.67L404.37 106.08M426.96 112.38L431.49 114.82" stroke="#58c9e9"/><path d="M431.29 97.39L435.76 94.05" stroke="#82e1b5"/><path d="M435.76 94.05L440.23 90.72M404.1 81.99L408.63 84.56" stroke="#92e4a5"/><path d="M440.23 90.72L444.69 87.4M458.29 95.46L462.76 92.27" stroke="#a6e595"/><path d="M444.69 87.4L449.16 84.09" stroke="#b9e684"/><path d="M462.56 74.2L467.02 70.92M485.09 76.43L489.62 79.35" stroke="#ecd05f"/><path d="M475.95 64.39L480.42 61.13" stroke="#f5a661"/><path d="M480.42 61.13L484.89 57.87" stroke="#f39966"/><path d="M395.63 130.33L400.1 126.88" stroke="#6a8ff0"/><path d="M400.1 126.88L404.56 123.45" stroke="#6699ef"/><path d="M426.89 106.6L431.36 103.27" stroke="#63d6d9"/><path d="M435.83 99.96L440.29 96.66" stroke="#7ee0b9"/><path d="M440.29 96.66L444.76 93.37M408.63 84.56L413.16 87.13" stroke="#8ce4aa"/><path d="M449.22 90.09L453.69 86.82M399.5 73.2L404.03 75.8M440.16 84.71L444.69 87.4" stroke="#b3e68a"/><path d="M453.69 86.82L458.16 83.55M426.56 76.65L431.09 79.34" stroke="#c6e77a"/><path d="M458.16 83.55L462.62 80.3M412.96 68.59L417.5 71.28" stroke="#d9e76a"/><path d="M462.62 80.3L467.09 77.05M399.37 60.53L403.9 63.21" stroke="#e7e45f"/><path d="M467.09 77.05L471.55 73.81" stroke="#ead65f"/><path d="M476.02 70.58L480.49 67.35M453.42 62.27L457.96 65.15" stroke="#f1ba5f"/><path d="M484.95 64.13L489.42 60.92" stroke="#f49f64"/><path d="M386.77 143.01L391.23 139.46M332.38 118.34L336.91 120.39" stroke="#747eea"/><path d="M391.23 139.46L395.7 135.97M350.44 120.54L354.97 122.65" stroke="#7184ec"/><path d="M395.7 135.97L400.16 132.52M363.97 120.95L368.5 123.09" stroke="#6d89ee"/><path d="M413.56 122.36L418.03 119.01M359.24 100.68L363.77 102.96" stroke="#60aeec"/><path d="M426.96 112.38L431.43 109.08M386.24 96.47L390.77 98.87" stroke="#56cfe8"/><path d="M431.43 109.08L435.89 105.8M363.57 84.45L368.11 86.86" stroke="#5fd5dd"/><path d="M458.22 89.54L462.69 86.32" stroke="#bfe680"/><path d="M467.15 83.1L471.62 79.9" stroke="#e4e861"/><path d="M476.09 76.7L480.55 73.5M399.3 54.09L403.83 56.82M453.49 68.51L458.02 71.36" stroke="#ecce5f"/><path d="M480.55 73.5L485.02 70.31M494.08 76.24L498.55 73.14M457.96 65.15L462.49 68.04" stroke="#f0c05f"/><path d="M489.49 67.13L493.95 63.96" stroke="#f5a561"/><path d="M386.83 148.66L391.3 145.07" stroke="#7878e9"/><path d="M391.3 145.07L395.77 141.57M395.83 147.12L400.3 143.67M336.91 120.39L341.44 122.45M341.44 122.45L345.97 124.51" stroke="#747dea"/><path d="M395.77 141.57L400.23 138.12M400.3 143.67L404.76 140.27M354.97 122.65L359.51 124.75M359.51 124.75L364.04 126.85M364.04 126.85L368.57 128.95" stroke="#7183ec"/><path d="M431.49 114.82L435.96 111.57M390.77 98.87L395.3 101.27" stroke="#57cde9"/><path d="M435.96 111.57L440.43 108.32M368.11 86.86L372.64 89.26" stroke="#5cd4e0"/><path d="M449.36 101.87L453.82 98.66M395.1 83.06L399.63 85.59" stroke="#84e1b3"/><path d="M453.82 98.66L458.29 95.46M444.76 93.37L449.29 96.02" stroke="#93e4a4"/><path d="M467.22 89.09L471.69 85.91" stroke="#cae776"/><path d="M471.69 85.91L476.15 82.74" stroke="#dde867"/><path d="M489.55 73.28L494.02 70.14" stroke="#f1b95f"/><path d="M391.37 150.67L395.83 147.12" stroke="#7877e9"/><path d="M413.7 133.58L418.16 130.28M341.24 104.05L345.77 106.24" stroke="#6895f0"/><path d="M418.16 130.28L422.63 127M354.77 104.54L359.31 106.77M400.03 121.17L404.56 123.45" stroke="#64a0ee"/><path d="M440.49 114.05L444.96 110.85" stroke="#58d3e4"/><path d="M444.96 110.85L449.42 107.66" stroke="#66d7d5"/><path d="M449.42 107.66L453.89 104.48" stroke="#73dcc7"/><path d="M453.89 104.48L458.36 101.31" stroke="#80e0b8"/><path d="M458.36 101.31L462.82 98.15M449.29 96.02L453.82 98.66" stroke="#8de4a9"/><path d="M467.29 95L471.75 91.85M376.9 66.59L381.44 69.16M422.1 80.13L426.63 82.78" stroke="#b1e68b"/><path d="M471.75 91.85L476.22 88.72M408.5 72.19L413.03 74.84" stroke="#c3e67c"/><path d="M476.22 88.72L480.69 85.59M394.9 64.25L399.43 66.9" stroke="#d5e76d"/><path d="M485.15 82.47L489.62 79.35M390.3 55.15L394.83 57.84M462.56 74.2L467.09 77.05" stroke="#e9da5f"/><path d="M314.38 123.17L318.91 125.13M318.91 125.13L323.44 127.09M323.44 127.09L327.98 129.04M327.98 129.04L332.51 131M332.51 131L337.04 132.96M337.04 132.96L341.57 134.91M341.57 134.91L346.11 136.87M346.11 136.87L350.64 138.83M350.64 138.83L355.17 140.78M355.17 140.78L359.7 142.74M359.7 142.74L364.24 144.7M364.24 144.7L368.77 146.65M368.77 146.65L373.3 148.61M373.3 148.61L377.83 150.56M377.83 150.56L382.37 152.52M382.37 152.52L386.9 154.48" stroke="#7d6ee6"/><path d="M318.85 118.53L323.38 120.54M323.38 120.54L327.91 122.55M327.91 122.55L332.44 124.56M332.44 124.56L336.98 126.57M336.98 126.57L341.51 128.57" stroke="#7876e8"/><path d="M341.51 128.57L346.04 130.58M346.04 130.58L350.57 132.59M350.57 132.59L355.11 134.6" stroke="#7976e8"/><path d="M355.11 134.6L359.64 136.61M359.64 136.61L364.17 138.62M364.17 138.62L368.7 140.63M368.7 140.63L373.24 142.64M373.24 142.64L377.77 144.64M377.77 144.64L382.3 146.65M382.3 146.65L386.83 148.66M386.83 148.66L391.37 150.67" stroke="#7975e8"/><path d="M345.97 124.51L350.51 126.56M350.51 126.56L355.04 128.62" stroke="#757dea"/><path d="M355.04 128.62L359.57 130.67M359.57 130.67L364.1 132.73M364.1 132.73L368.64 134.79M368.64 134.79L373.17 136.84" stroke="#757cea"/><path d="M373.17 136.84L377.7 138.9M377.7 138.9L382.23 140.96" stroke="#757bea"/><path d="M382.23 140.96L386.77 143.01M386.77 143.01L391.3 145.07" stroke="#767bea"/><path d="M368.57 128.95L373.1 131.05" stroke="#7182ec"/><path d="M391.23 139.46L395.77 141.57" stroke="#7280eb"/><path d="M354.84 110.62L359.37 112.81" stroke="#6992f0"/><path d="M341.18 97.84L345.71 100.07" stroke="#63a4ee"/><path d="M386.5 120.17L391.03 122.41" stroke="#6797ef"/><path d="M391.03 122.41L395.57 124.64" stroke="#6896ef"/><path d="M345.64 93.85L350.17 96.13M418.03 119.01L422.56 121.38" stroke="#5fb3ec"/><path d="M350.17 96.13L354.71 98.4M390.9 110.76L395.43 113.08M422.56 121.38L427.09 123.74" stroke="#5fb1ec"/><path d="M381.9 112.06L386.43 114.34M418.1 124.68L422.63 127" stroke="#63a6ed"/><path d="M395.37 107.21L399.9 109.57" stroke="#5cbdeb"/><path d="M359.04 82.05L363.57 84.45" stroke="#62d6d9"/><path d="M372.64 89.26L377.17 91.66" stroke="#5ad4e3"/><path d="M377.17 91.66L381.7 94.06M431.43 109.08L435.96 111.57" stroke="#57d3e6"/><path d="M381.7 94.06L386.24 96.47M435.96 111.57L440.49 114.05" stroke="#55d1e8"/><path d="M404.37 106.08L408.9 108.48M431.49 114.82L436.03 117.27" stroke="#59c6e9"/><path d="M422.5 115.69L427.03 118.09" stroke="#5bbeea"/><path d="M427.03 118.09L431.56 120.49" stroke="#5cbceb"/><path d="M363.51 78.16L368.04 80.61" stroke="#73dcc6"/><path d="M377.1 85.49L381.64 87.94M404.23 94.17L408.76 96.66" stroke="#6ad9d0"/><path d="M367.97 74.29L372.5 76.77" stroke="#84e2b2"/><path d="M381.57 81.74L386.1 84.23" stroke="#7bdebe"/><path d="M408.76 96.66L413.3 99.14" stroke="#67d8d4"/><path d="M422.36 104.11L426.89 106.6" stroke="#5dd5df"/><path d="M426.89 106.6L431.43 109.08" stroke="#5ad4e2"/><path d="M376.97 72.96L381.5 75.49" stroke="#95e4a3"/><path d="M399.63 85.59L404.17 88.12" stroke="#80e0b7"/><path d="M404.17 88.12L408.7 90.64M426.76 94.83L431.29 97.39" stroke="#7ddfbb"/><path d="M408.7 90.64L413.23 93.17M431.29 97.39L435.83 99.96" stroke="#79debf"/><path d="M413.23 93.17L417.76 95.69M435.83 99.96L440.36 102.53" stroke="#76ddc3"/><path d="M417.76 95.69L422.3 98.22" stroke="#72dcc7"/><path d="M422.3 98.22L426.83 100.75" stroke="#6fdacb"/><path d="M426.83 100.75L431.36 103.27" stroke="#6bd9cf"/><path d="M431.36 103.27L435.89 105.8" stroke="#68d8d3"/><path d="M440.43 108.32L444.96 110.85" stroke="#61d6db"/><path d="M385.97 71.73L390.5 74.29" stroke="#a7e594"/><path d="M390.5 74.29L395.03 76.86M413.1 81.02L417.63 83.62" stroke="#a2e598"/><path d="M395.03 76.86L399.57 79.43" stroke="#9ce59c"/><path d="M399.57 79.43L404.1 81.99" stroke="#97e4a1"/><path d="M413.16 87.13L417.7 89.69M453.82 98.66L458.36 101.31" stroke="#88e3ae"/><path d="M422.23 92.26L426.76 94.83" stroke="#81e0b7"/><path d="M440.36 102.53L444.89 105.09" stroke="#72dbc8"/><path d="M381.37 62.77L385.9 65.37M403.97 69.54L408.5 72.19" stroke="#c9e777"/><path d="M385.9 65.37L390.44 67.98" stroke="#c4e67c"/><path d="M404.03 75.8L408.56 78.41" stroke="#ade58f"/><path d="M408.56 78.41L413.1 81.02" stroke="#a7e593"/><path d="M417.63 83.62L422.16 86.23" stroke="#9ce59d"/><path d="M422.16 86.23L426.69 88.84" stroke="#96e4a1"/><path d="M426.69 88.84L431.23 91.44" stroke="#91e4a6"/><path d="M435.76 94.05L440.29 96.66" stroke="#87e2af"/><path d="M444.82 99.27L449.36 101.87" stroke="#7fe0b8"/><path d="M390.37 61.6L394.9 64.25" stroke="#dbe868"/><path d="M399.43 66.9L403.97 69.54" stroke="#cfe772"/><path d="M413.03 74.84L417.56 77.48" stroke="#bde681"/><path d="M417.56 77.48L422.1 80.13" stroke="#b7e686"/><path d="M426.63 82.78L431.16 85.43M462.76 92.27L467.29 95" stroke="#abe590"/><path d="M394.83 57.84L399.37 60.53" stroke="#e8df5f"/><path d="M403.9 63.21L408.43 65.9" stroke="#e5e860"/><path d="M408.43 65.9L412.96 68.59M462.62 80.3L467.15 83.1" stroke="#dfe865"/><path d="M417.5 71.28L422.03 73.96" stroke="#d2e76f"/><path d="M422.03 73.96L426.56 76.65M458.16 83.55L462.69 86.32" stroke="#cce775"/><path d="M431.09 79.34L435.63 82.03" stroke="#bfe67f"/><path d="M435.63 82.03L440.16 84.71M453.69 86.82L458.22 89.54" stroke="#b9e685"/><path d="M449.22 90.09L453.76 92.78" stroke="#a6e594"/><path d="M453.76 92.78L458.29 95.46" stroke="#a0e59a"/><path d="M394.77 51.36L399.3 54.09M448.96 65.67L453.49 68.51" stroke="#eec95f"/><path d="M408.37 59.54L412.9 62.27M444.49 69.07L449.02 71.88M476.09 76.7L480.62 79.58" stroke="#ead85f"/><path d="M412.9 62.27L417.43 65M449.02 71.88L453.56 74.68" stroke="#e9dd5f"/><path d="M435.56 75.91L440.09 78.63" stroke="#d4e76e"/><path d="M403.77 50.35L408.3 53.12M439.89 59.97L444.43 62.82M485.02 70.31L489.55 73.28" stroke="#f0bd5f"/><path d="M467.22 89.09L471.75 91.85" stroke="#bee681"/><path d="M458.09 77.49L462.62 80.3" stroke="#e6e85f"/><path d="M471.69 85.91L476.22 88.72" stroke="#d0e771"/><path d="M467.09 77.05L471.62 79.9" stroke="#e8e05f"/><path d="M476.15 82.74L480.69 85.59" stroke="#e2e862"/><path d="M412.63 36.3L417.16 39.18" stroke="#f1876e"/><path d="M421.7 42.07L426.23 44.96" stroke="#f39269"/><path d="M426.23 44.96L430.76 47.84" stroke="#f39867"/><path d="M430.76 47.84L435.29 50.73M462.36 55.5L466.89 58.46" stroke="#f49d64"/><path d="M435.29 50.73L439.83 53.61M466.89 58.46L471.42 61.42" stroke="#f4a362"/><path d="M439.83 53.61L444.36 56.5" stroke="#f5a860"/><path d="M444.36 56.5L448.89 59.38" stroke="#f4ae5f"/><path d="M448.89 59.38L453.42 62.27" stroke="#f3b45f"/><path d="M462.49 68.04L467.02 70.92" stroke="#eec65f"/><path d="M426.16 38.41L430.7 41.33" stroke="#f1836f"/><path d="M430.7 41.33L435.23 44.25M475.82 51.79L480.35 54.83" stroke="#f2896d"/><path d="M448.83 53.03L453.36 55.95" stroke="#f49f63"/><path d="M453.36 55.95L457.89 58.88" stroke="#f4a561"/><path d="M457.89 58.88L462.42 61.8" stroke="#f5ab5f"/><path d="M421.56 28.82L426.1 31.78M453.16 36.58L457.69 39.62" stroke="#ee7476"/><path d="M426.1 31.78L430.63 34.75M457.69 39.62L462.22 42.67" stroke="#ef7675"/><path d="M448.76 46.6L453.29 49.57" stroke="#f28c6c"/><path d="M453.29 49.57L457.82 52.53" stroke="#f29169"/><path d="M475.95 64.39L480.49 67.35" stroke="#f4b05f"/><path d="M480.49 67.35L485.02 70.31M494.02 70.14L498.55 73.14" stroke="#f2b65f"/><path d="M426.03 25.09L430.56 28.1" stroke="#ed6f79"/><path d="M430.56 28.1L435.1 31.1" stroke="#ed7178"/><path d="M439.63 34.1L444.16 37.11" stroke="#ef7576"/><path d="M448.69 40.11L453.23 43.11M462.22 42.67L466.76 45.71" stroke="#f07974"/><path d="M471.36 55.12L475.89 58.12" stroke="#f39667"/><path d="M484.95 64.13L489.49 67.13M498.48 67L503.02 70.04" stroke="#f5a960"/><path d="M430.5 21.37L435.03 24.42" stroke="#eb6a7c"/><path d="M435.03 24.42L439.56 27.46" stroke="#ec6c7b"/><path d="M439.56 27.46L444.09 30.5" stroke="#ed6e7a"/><path d="M466.76 45.71L471.29 48.75" stroke="#f07c72"/><path d="M480.35 54.83L484.89 57.87" stroke="#f28f6a"/></g>
<g fill="#ee2211"><circle cx="434.8" cy="16.5" r="1.75"/><circle cx="412.8" cy="25.1" r="1.75"/><circle cx="387.7" cy="61.3" r="1.75"/><circle cx="373.3" cy="102.9" r="1.75"/><circle cx="389.4" cy="103.2" r="1.75"/><circle cx="348.5" cy="111.2" r="1.75"/><circle cx="346.1" cy="114.8" r="1.75"/><circle cx="346.1" cy="119.5" r="1.75"/><circle cx="366.9" cy="117.4" r="1.75"/><circle cx="400.5" cy="123" r="1.75"/><circle cx="402.1" cy="126.6" r="1.75"/><circle cx="401.7" cy="130.1" r="1.75"/><circle cx="392.7" cy="129.6" r="1.75"/><circle cx="406.4" cy="132" r="1.75"/><circle cx="424.1" cy="133.2" r="1.75"/><circle cx="352" cy="139.8" r="1.75"/><circle cx="361" cy="143.4" r="1.75"/></g>
<line x1="33.6" y1="301.74" x2="161.1" y2="271.84" stroke="#e8e8e8" stroke-width="0.6"/>
<line x1="161.1" y1="271.84" x2="259.1" y2="312.74" stroke="#e8e8e8" stroke-width="0.6"/>
<line x1="33.6" y1="283.68" x2="161.1" y2="253.78" stroke="#e8e8e8" stroke-width="0.6"/>
<line x1="161.1" y1="253.78" x2="259.1" y2="294.68" stroke="#e8e8e8" stroke-width="0.6"/>
<line x1="33.6" y1="265.62" x2="161.1" y2="235.72" stroke="#e8e8e8" stroke-width="0.6"/>
<line x1="161.1" y1="235.72" x2="259.1" y2="276.62" stroke="#e8e8e8" stroke-width="0.6"/>
<line x1="33.6" y1="247.56" x2="161.1" y2="217.66" stroke="#e8e8e8" stroke-width="0.6"/>
<line x1="161.1" y1="217.66" x2="259.1" y2="258.56" stroke="#e8e8e8" stroke-width="0.6"/>
<line x1="65.47" y1="312.32" x2="65.47" y2="222.02" stroke="#e8e8e8" stroke-width="0.6"/>
<line x1="65.47" y1="312.32" x2="163.47" y2="353.22" stroke="#e8e8e8" stroke-width="0.6"/>
<line x1="97.35" y1="304.85" x2="97.35" y2="214.55" stroke="#e8e8e8" stroke-width="0.6"/>
<line x1="97.35" y1="304.85" x2="195.35" y2="345.75" stroke="#e8e8e8" stroke-width="0.6"/>
<line x1="129.22" y1="297.38" x2="129.22" y2="207.07" stroke="#e8e8e8" stroke-width="0.6"/>
<line x1="129.22" y1="297.38" x2="227.22" y2="338.27" stroke="#e8e8e8" stroke-width="0.6"/>
<line x1="180.7" y1="298.08" x2="180.7" y2="207.78" stroke="#e8e8e8" stroke-width="0.6"/>
<line x1="53.2" y1="327.98" x2="180.7" y2="298.08" stroke="#e8e8e8" stroke-width="0.6"/>
<line x1="200.3" y1="306.26" x2="200.3" y2="215.96" stroke="#e8e8e8" stroke-width="0.6"/>
<line x1="72.8" y1="336.16" x2="200.3" y2="306.26" stroke="#e8e8e8" stroke-width="0.6"/>
<line x1="219.9" y1="314.44" x2="219.9" y2="224.14" stroke="#e8e8e8" stroke-width="0.6"/>
<line x1="92.4" y1="344.34" x2="219.9" y2="314.44" stroke="#e8e8e8" stroke-width="0.6"/>
<line x1="239.5" y1="322.62" x2="239.5" y2="232.32" stroke="#e8e8e8" stroke-width="0.6"/>
<line x1="112" y1="352.52" x2="239.5" y2="322.62" stroke="#e8e8e8" stroke-width="0.6"/>
<line x1="161.1" y1="289.9" x2="161.1" y2="199.6" stroke="#e8e8e8" stroke-width="0.6"/>
<line x1="33.6" y1="229.5" x2="161.1" y2="199.6" stroke="#e8e8e8" stroke-width="0.6"/>
<line x1="161.1" y1="199.6" x2="259.1" y2="240.5" stroke="#e8e8e8" stroke-width="0.6"/>
<line x1="259.1" y1="330.8" x2="259.1" y2="240.5" stroke="#e8e8e8" stroke-width="0.6"/>
<line x1="161.1" y1="289.9" x2="259.1" y2="330.8" stroke="#e8e8e8" stroke-width="0.6"/>
<line x1="33.6" y1="319.8" x2="161.1" y2="289.9" stroke="#e8e8e8" stroke-width="0.6"/>
<line x1="33.6" y1="319.8" x2="33.6" y2="229.5" stroke="#8c8c8c" stroke-width="1.0"/>
<line x1="33.6" y1="319.8" x2="131.6" y2="360.7" stroke="#8c8c8c" stroke-width="1.0"/>
<line x1="131.6" y1="360.7" x2="259.1" y2="330.8" stroke="#8c8c8c" stroke-width="1.0"/>
<line x1="33.6" y1="301.74" x2="31.1" y2="302.34" stroke="#8c8c8c" stroke-width="0.7"/>
<line x1="33.6" y1="283.68" x2="31.1" y2="284.28" stroke="#8c8c8c" stroke-width="0.7"/>
<line x1="33.6" y1="265.62" x2="31.1" y2="266.22" stroke="#8c8c8c" stroke-width="0.7"/>
<line x1="33.6" y1="247.56" x2="31.1" y2="248.16" stroke="#8c8c8c" stroke-width="0.7"/>
<line x1="33.6" y1="319.8" x2="31.1" y2="320.4" stroke="#8c8c8c" stroke-width="0.7"/>
<line x1="33.6" y1="229.5" x2="31.1" y2="230.1" stroke="#8c8c8c" stroke-width="0.7"/>
<line x1="53.2" y1="327.98" x2="50.77" y2="328.55" stroke="#8c8c8c" stroke-width="0.7"/>
<line x1="72.8" y1="336.16" x2="70.37" y2="336.73" stroke="#8c8c8c" stroke-width="0.7"/>
<line x1="92.4" y1="344.34" x2="89.97" y2="344.91" stroke="#8c8c8c" stroke-width="0.7"/>
<line x1="112" y1="352.52" x2="109.57" y2="353.09" stroke="#8c8c8c" stroke-width="0.7"/>
<line x1="33.6" y1="319.8" x2="31.17" y2="320.37" stroke="#8c8c8c" stroke-width="0.7"/>
<line x1="131.6" y1="360.7" x2="129.17" y2="361.27" stroke="#8c8c8c" stroke-width="0.7"/>
<line x1="163.47" y1="353.22" x2="165.78" y2="354.19" stroke="#8c8c8c" stroke-width="0.7"/>
<line x1="195.35" y1="345.75" x2="197.66" y2="346.71" stroke="#8c8c8c" stroke-width="0.7"/>
<line x1="227.22" y1="338.27" x2="229.53" y2="339.24" stroke="#8c8c8c" stroke-width="0.7"/>
<line x1="131.6" y1="360.7" x2="133.91" y2="361.66" stroke="#8c8c8c" stroke-width="0.7"/>
<line x1="259.1" y1="330.8" x2="261.41" y2="331.76" stroke="#8c8c8c" stroke-width="0.7"/>
<text x="29.6" y="321.8" font-size="5.9" text-anchor="end" fill="#1e1e1e">0</text>
<text x="29.6" y="303.74" font-size="5.9" text-anchor="end" fill="#1e1e1e">20</text>
<text x="29.6" y="285.68" font-size="5.9" text-anchor="end" fill="#1e1e1e">40</text>
<text x="29.6" y="267.62" font-size="5.9" text-anchor="end" fill="#1e1e1e">60</text>
<text x="29.6" y="249.56" font-size="5.9" text-anchor="end" fill="#1e1e1e">80</text>
<text x="29.6" y="231.5" font-size="5.9" text-anchor="end" fill="#1e1e1e">100</text>
<text x="29.1" y="327.3" font-size="5.9" text-anchor="end" fill="#1e1e1e">0.1</text>
<text x="48.7" y="335.48" font-size="5.9" text-anchor="end" fill="#1e1e1e">0.08</text>
<text x="68.3" y="343.66" font-size="5.9" text-anchor="end" fill="#1e1e1e">0.06</text>
<text x="87.9" y="351.84" font-size="5.9" text-anchor="end" fill="#1e1e1e">0.04</text>
<text x="107.5" y="360.02" font-size="5.9" text-anchor="end" fill="#1e1e1e">0.02</text>
<text x="127.1" y="368.2" font-size="5.9" text-anchor="end" fill="#1e1e1e">0</text>
<text x="136.6" y="367.9" font-size="5.9" text-anchor="start" fill="#1e1e1e">0</text>
<text x="168.47" y="360.42" font-size="5.9" text-anchor="start" fill="#1e1e1e">0.055</text>
<text x="200.35" y="352.95" font-size="5.9" text-anchor="start" fill="#1e1e1e">0.11</text>
<text x="232.22" y="345.47" font-size="5.9" text-anchor="start" fill="#1e1e1e">0.165</text>
<text x="264.1" y="338" font-size="5.9" text-anchor="start" fill="#1e1e1e">0.22</text>
<g fill="none" stroke-width="0.58" stroke-linecap="round"><path d="M39.98 318.31L44.61 313.97M44.82 320.33L49.45 316.18M49.66 322.35L54.29 318.38M54.5 324.37L59.14 320.58M122.09 348.61L126.72 346.18M126.93 350.72L131.56 348.4M88.19 333.66L93.03 335.81M93.03 335.81L97.88 337.96M97.88 337.96L102.72 340.11M102.72 340.11L107.56 342.24" stroke="#7b71e7"/><path d="M44.61 313.97L49.24 309.64M97.67 332.7L102.3 329.38M131.36 343.53L135.99 340.73M73.46 321.23L78.3 323.54M111.99 334.13L116.83 336.5M116.83 336.5L121.67 338.85" stroke="#7778e9"/><path d="M49.24 309.64L53.88 305.3M87.77 322.19L92.41 318.43M140.62 337.8L145.26 334.76M68.4 312.53L73.25 314.95M130.94 332.68L135.78 335.24" stroke="#737feb"/><path d="M53.88 305.3L58.51 300.97M116.41 324.95L121.05 321.4M73.04 308.41L77.88 310.92" stroke="#7086ed"/><path d="M58.51 300.97L63.15 296.63M92.2 312L96.83 308.01M116.2 318.72L120.84 314.99M154.53 328.41L159.16 325.12M77.67 304.25L82.52 306.83" stroke="#6c8cef"/><path d="M63.15 296.63L67.78 292.3M154.32 322.14L158.95 318.67" stroke="#6895ef"/><path d="M67.78 292.3L72.41 287.97M96.63 301.24L101.26 297.09" stroke="#63a3ee"/><path d="M72.41 287.97L77.05 283.63M86.73 288.89L91.58 291.59M110.74 295.75L115.58 298.62M149.06 305.68L153.9 308.81" stroke="#5fb1ec"/><path d="M77.05 283.63L81.68 279.3M125.06 297.46L129.69 293.37M91.37 284.6L96.21 287.33M115.37 291.59L120.21 294.51M134.53 296.4L139.37 299.47" stroke="#5bbfea"/><path d="M81.68 279.3L86.32 274.96M96 280.29L100.84 283.04" stroke="#57cde9"/><path d="M86.32 274.96L90.95 270.63M172.44 293.42L177.28 296.91" stroke="#60d6dc"/><path d="M90.95 270.63L95.58 266.3M200.87 292.79L205.71 296.71" stroke="#72dbc8"/><path d="M95.58 266.3L100.22 261.96M157.91 283.19L162.54 279.03M109.9 267.29L114.75 270.09" stroke="#83e1b4"/><path d="M100.22 261.96L104.85 257.63M176.86 281.84L181.5 277.73M114.54 262.94L119.38 265.75" stroke="#98e5a0"/><path d="M104.85 257.63L109.49 253.29M119.17 258.58L124.01 261.39" stroke="#b1e68b"/><path d="M109.49 253.29L114.12 248.96M123.81 254.21L128.65 257.02" stroke="#cae776"/><path d="M114.12 248.96L118.76 244.63M128.44 249.84L133.28 252.64" stroke="#e3e862"/><path d="M118.76 244.63L123.39 240.29M228.67 269.19L233.31 265.13M133.07 245.46L137.92 248.25" stroke="#ead85f"/><path d="M123.39 240.29L128.02 235.96M237.94 261.03L242.78 265.71" stroke="#eec65f"/><path d="M128.02 235.96L132.66 231.62" stroke="#f3b45f"/><path d="M132.66 231.62L137.29 227.29" stroke="#f4a262"/><path d="M137.29 227.29L141.93 222.96" stroke="#f29169"/><path d="M141.93 222.96L146.56 218.62M170.77 232.02L175.41 227.55" stroke="#f18070"/><path d="M146.56 218.62L151.19 214.29M151.4 220.94L156.04 216.56M194.57 232.91L199.2 228.41M165.72 221.72L170.56 224.56" stroke="#ef7775"/><path d="M151.19 214.29L155.83 209.95M170.36 217.27L175.2 220.09M189.52 221.69L194.36 224.98" stroke="#ed7178"/><path d="M155.83 209.95L160.46 205.62M160.67 212.18L165.3 207.8" stroke="#ec6c7b"/><path d="M49.45 316.18L54.09 311.96" stroke="#7878e9"/><path d="M54.09 311.96L58.72 307.71M92.62 324.59L97.25 320.94M121.46 333.37L126.1 330.11M145.47 340.34L150.1 337.42M135.78 335.24L140.62 337.8" stroke="#747eeb"/><path d="M58.72 307.71L63.35 303.44M77.88 310.92L82.72 313.42M130.73 326.76L135.57 329.43" stroke="#7085ec"/><path d="M63.35 303.44L67.99 299.15M140.21 326.09L144.84 322.66M130.52 320.54L135.36 323.31M149.68 325.54L154.53 328.41" stroke="#6c8bee"/><path d="M67.99 299.15L72.62 294.85M96.83 308.01L101.47 303.97M120.84 314.99L125.47 311.19M140 319.79L144.63 316.19M130.31 314.05L135.16 316.92" stroke="#6893f0"/><path d="M72.62 294.85L77.26 290.55M86.94 295.84L91.78 298.53M110.94 302.69L115.79 305.51M149.27 312.53L154.11 315.6" stroke="#64a1ee"/><path d="M77.26 290.55L81.89 286.24M125.26 304.41L129.9 300.43M144.42 309.48L149.06 305.68M91.58 291.59L96.42 294.33M115.58 298.62L120.42 301.51M134.74 303.43L139.58 306.45" stroke="#60aeec"/><path d="M81.89 286.24L86.52 281.91M96.21 287.33L101.05 290.1M182.33 307.69L187.17 311.2" stroke="#5cbceb"/><path d="M86.52 281.91L91.16 277.59M148.85 298.63L153.48 294.64" stroke="#57cae9"/><path d="M91.16 277.59L95.79 273.25M115.16 284.46L119.8 280.2M143.8 288.22L148.64 291.41" stroke="#5dd5df"/><path d="M95.79 273.25L100.43 268.92M119.8 280.2L124.43 275.91" stroke="#6edacb"/><path d="M100.43 268.92L105.06 264.57M124.43 275.91L129.06 271.6M143.59 280.87L148.23 276.64M167.39 282.45L172.23 285.92" stroke="#80e0b8"/><path d="M105.06 264.57L109.7 260.23M138.54 270.32L143.38 273.45" stroke="#94e4a3"/><path d="M109.7 260.23L114.33 255.87" stroke="#ade58f"/><path d="M114.33 255.87L118.96 251.52M205.08 272.99L209.93 277.03" stroke="#c6e77a"/><path d="M118.96 251.52L123.6 247.16M176.45 266.34L181.08 262.04" stroke="#dfe865"/><path d="M123.6 247.16L128.23 242.8M147.6 254.17L152.24 249.77M181.08 262.04L185.72 257.72M157.08 252.89L161.92 256.11" stroke="#e9db5f"/><path d="M128.23 242.8L132.87 238.43M185.72 257.72L190.35 253.38M161.71 248.48L166.55 251.72M228.46 260.66L233.31 265.13" stroke="#eec95f"/><path d="M132.87 238.43L137.5 234.06M190.35 253.38L194.98 249M166.35 244.06L171.19 247.31" stroke="#f2b65f"/><path d="M137.5 234.06L142.13 229.69M151.82 235.02L156.66 237.91" stroke="#f4a461"/><path d="M142.13 229.69L146.77 225.32M199.62 244.6L204.25 240.18M156.45 230.6L161.3 233.47" stroke="#f39369"/><path d="M146.77 225.32L151.4 220.94M189.93 237.38L194.57 232.91M161.09 226.16L165.93 229.02" stroke="#f18270"/><path d="M156.04 216.56L160.67 212.18M160.88 219.05L165.51 214.63" stroke="#ee7278"/><path d="M54.29 318.38L58.93 314.28M102.51 334.96L107.14 331.76M136.2 345.86L140.83 343.16M78.3 323.54L83.14 325.84M83.14 325.84L87.98 328.13M121.67 338.85L126.51 341.2" stroke="#7877e9"/><path d="M58.93 314.28L63.56 310.12M97.46 326.99L102.09 323.43M126.3 335.83L130.94 332.68M82.93 319.78L87.77 322.19" stroke="#747dea"/><path d="M63.56 310.12L68.2 305.92M97.25 320.94L101.88 317.18M145.26 334.76L149.89 331.63M82.72 313.42L87.57 315.93M111.57 322.37L116.41 324.95" stroke="#7184ec"/><path d="M68.2 305.92L72.83 301.69M145.05 328.86L149.68 325.54M159.37 331.29L164 328.1M87.36 309.41L92.2 312M111.36 316.03L116.2 318.72M135.36 323.31L140.21 326.09" stroke="#6d8aee"/><path d="M72.83 301.69L77.46 297.44M101.68 310.68L106.31 306.71M159.16 325.12L163.79 321.75M87.15 302.7L91.99 305.35" stroke="#6991f0"/><path d="M77.46 297.44L82.1 293.18M125.47 311.19L130.11 307.34M144.63 316.19L149.27 312.53M91.78 298.53L96.63 301.24M115.79 305.51L120.63 308.35M134.95 310.28L139.79 313.23" stroke="#659eee"/><path d="M82.1 293.18L86.73 288.89M153.9 308.81L158.74 311.97" stroke="#61aced"/><path d="M86.73 288.89L91.37 284.6" stroke="#5dbaeb"/><path d="M91.37 284.6L96 280.29M115.37 291.59L120 287.39M134.53 296.4L139.17 292.33M144.01 295.46L148.85 298.63M186.96 304.03L191.81 307.65" stroke="#58c7e9"/><path d="M96 280.29L100.64 275.96" stroke="#59d3e4"/><path d="M100.64 275.96L105.27 271.63" stroke="#6bd9d0"/><path d="M105.27 271.63L109.9 267.29M177.07 289.45L181.71 285.44M196.02 288.93L200.87 292.79" stroke="#7cdfbc"/><path d="M109.9 267.29L114.54 262.94" stroke="#8fe4a8"/><path d="M114.54 262.94L119.17 258.58M219.61 285.37L224.25 281.52M162.34 271.42L167.18 274.83" stroke="#a8e593"/><path d="M119.17 258.58L123.81 254.21" stroke="#c0e67e"/><path d="M123.81 254.21L128.44 249.84" stroke="#d9e769"/><path d="M128.44 249.84L133.07 245.46" stroke="#e8df5f"/><path d="M133.07 245.46L137.71 241.07" stroke="#edcc5f"/><path d="M137.71 241.07L142.34 236.68M228.46 260.66L233.1 256.48" stroke="#f1b95f"/><path d="M142.34 236.68L146.98 232.28" stroke="#f5a760"/><path d="M146.98 232.28L151.61 227.88" stroke="#f39667"/><path d="M151.61 227.88L156.24 223.47" stroke="#f1856f"/><path d="M156.24 223.47L160.88 219.05M180.25 230.68L184.88 226.2M204.04 232L208.89 235.73" stroke="#ef7874"/><path d="M165.51 214.63L170.15 210.21M179.83 215.61L184.67 218.57" stroke="#ec6d7b"/><path d="M59.14 320.58L63.77 316.6M107.35 337.22L111.99 334.13" stroke="#7877e8"/><path d="M63.77 316.6L68.4 312.53M102.3 329.38L106.94 325.93M116.62 330.89L121.46 333.37M140.62 337.8L145.47 340.34" stroke="#757dea"/><path d="M68.4 312.53L73.04 308.41M102.09 323.43L106.73 319.78M126.1 330.11L130.73 326.76M87.57 315.93L92.41 318.43M135.57 329.43L140.42 332.1" stroke="#7183ec"/><path d="M73.04 308.41L77.67 304.25M101.88 317.18L106.52 313.35M125.89 324.08L130.52 320.54M154.53 328.41L159.37 331.29" stroke="#6d89ee"/><path d="M77.67 304.25L82.31 300.06M144.84 322.66L149.48 319.16M91.99 305.35L96.83 308.01M116 312.22L120.84 314.99M154.32 322.14L159.16 325.12" stroke="#6a90f0"/><path d="M82.31 300.06L86.94 295.84" stroke="#669cef"/><path d="M86.94 295.84L91.58 291.59M110.94 302.69L115.58 298.62M149.27 312.53L153.9 308.81M72.41 287.97L77.26 290.55" stroke="#62a9ed"/><path d="M91.58 291.59L96.21 287.33M77.05 283.63L81.89 286.24M125.06 297.46L129.9 300.43M158.54 305.04L163.38 308.28" stroke="#5db7eb"/><path d="M96.21 287.33L100.84 283.04" stroke="#59c4ea"/><path d="M100.84 283.04L105.48 278.74M172.65 300.75L177.28 296.91M191.6 300.33L196.44 304.05" stroke="#55d2e8"/><path d="M105.48 278.74L110.11 274.42" stroke="#66d8d4"/><path d="M110.11 274.42L114.75 270.09M172.23 285.92L177.07 289.45" stroke="#78ddc1"/><path d="M114.75 270.09L119.38 265.75" stroke="#8ae3ad"/><path d="M119.38 265.75L124.01 261.39M186.34 281.4L190.97 277.31" stroke="#a2e598"/><path d="M124.01 261.39L128.65 257.02" stroke="#bae683"/><path d="M128.65 257.02L133.28 252.64" stroke="#d3e76e"/><path d="M133.28 252.64L137.92 248.25M118.76 244.63L123.6 247.16" stroke="#e7e35f"/><path d="M137.92 248.25L142.55 243.85M123.39 240.29L128.23 242.8M166.55 251.72L171.4 255.06" stroke="#ecd05f"/><path d="M142.55 243.85L147.18 239.44M218.99 260.53L223.62 256.31M128.02 235.96L132.87 238.43" stroke="#f0be5f"/><path d="M147.18 239.44L151.82 235.02" stroke="#f5ab5f"/><path d="M151.82 235.02L156.45 230.6" stroke="#f39a66"/><path d="M156.45 230.6L161.09 226.16M213.73 239.6L218.57 243.62" stroke="#f1886d"/><path d="M161.09 226.16L165.72 221.72M189.72 229.48L194.57 232.91" stroke="#f07974"/><path d="M165.72 221.72L170.36 217.27M175.2 220.09L180.04 223.06M194.36 224.98L199.2 228.41" stroke="#ee7377"/><path d="M170.36 217.27L174.99 212.82" stroke="#ec6e7a"/><path d="M59.34 326.39L63.98 322.78" stroke="#7c71e7"/><path d="M63.98 322.78L68.61 318.92M112.19 339.48L116.83 336.5M87.98 328.13L92.82 330.42M126.51 341.2L131.36 343.53" stroke="#7876e8"/><path d="M68.61 318.92L73.25 314.95M107.14 331.76L111.78 328.41M131.15 338.28L135.78 335.24M87.77 322.19L92.62 324.59M121.46 333.37L126.3 335.83" stroke="#757cea"/><path d="M73.25 314.95L77.88 310.92M106.94 325.93L111.57 322.37M130.94 332.68L135.57 329.43M150.1 337.42L154.73 334.39M53.88 305.3L58.72 307.71M92.41 318.43L97.25 320.94M140.42 332.1L145.26 334.76" stroke="#7282ec"/><path d="M77.88 310.92L82.52 306.83M106.73 319.78L111.36 316.03M130.73 326.76L135.36 323.31M149.89 331.63L154.53 328.41M63.35 303.44L68.2 305.92M140.21 326.09L145.05 328.86" stroke="#6e88ed"/><path d="M82.52 306.83L87.15 302.7M130.52 320.54L135.16 316.92M140 319.79L144.84 322.66" stroke="#6a8eef"/><path d="M87.15 302.7L91.78 298.53M72.62 294.85L77.46 297.44" stroke="#6799ef"/><path d="M91.78 298.53L96.42 294.33M115.79 305.51L120.42 301.51M144.42 309.48L149.27 312.53" stroke="#63a6ed"/><path d="M96.42 294.33L101.05 290.1" stroke="#5eb3ec"/><path d="M101.05 290.1L105.69 285.85" stroke="#5ac1ea"/><path d="M105.69 285.85L110.32 281.58M153.48 294.64L158.33 297.91" stroke="#56cee8"/><path d="M110.32 281.58L114.95 277.28M148.64 291.41L153.28 287.32" stroke="#62d6d9"/><path d="M114.95 277.28L119.59 272.97M181.91 293.03L186.55 289.1" stroke="#73dcc6"/><path d="M119.59 272.97L124.22 268.64M148.23 276.64L153.07 279.89" stroke="#85e2b2"/><path d="M124.22 268.64L128.86 264.29" stroke="#9be59e"/><path d="M128.86 264.29L133.49 259.93M186.13 273.58L190.97 277.31" stroke="#b4e689"/><path d="M133.49 259.93L138.12 255.55M152.65 264.83L157.29 260.48M176.45 266.34L181.29 269.92" stroke="#cde774"/><path d="M138.12 255.55L142.76 251.16M157.29 260.48L161.92 256.11" stroke="#e6e85f"/><path d="M142.76 251.16L147.39 246.75M161.92 256.11L166.55 251.72M204.88 264.84L209.51 260.62M152.24 249.77L157.08 252.89" stroke="#ebd55f"/><path d="M147.39 246.75L152.03 242.34M166.55 251.72L171.19 247.31M209.51 260.62L214.14 256.37" stroke="#efc35f"/><path d="M152.03 242.34L156.66 237.91M171.19 247.31L175.82 242.88" stroke="#f4b05f"/><path d="M156.66 237.91L161.3 233.47M175.82 242.88L180.46 238.43M223.41 247.77L228.26 252.06" stroke="#f49e64"/><path d="M161.3 233.47L165.93 229.02M180.46 238.43L185.09 233.96" stroke="#f28d6b"/><path d="M165.93 229.02L170.56 224.56" stroke="#f07b72"/><path d="M170.56 224.56L175.2 220.09M189.72 229.48L194.36 224.98M156.04 216.56L160.88 219.05" stroke="#ee7576"/><path d="M175.2 220.09L179.83 215.61M160.67 212.18L165.51 214.63" stroke="#ed6f79"/><path d="M64.19 328.41L68.82 324.97M69.03 330.43L73.66 327.15M73.87 332.45L78.51 329.33M78.71 334.47L83.35 331.5M83.56 336.49L88.19 333.66M107.56 342.24L112.4 344.37M112.4 344.37L117.24 346.5M117.24 346.5L122.09 348.61M122.09 348.61L126.93 350.72" stroke="#7c70e7"/><path d="M68.82 324.97L73.46 321.23M92.82 330.42L97.67 332.7M131.36 343.53L136.2 345.86" stroke="#7976e8"/><path d="M73.46 321.23L78.09 317.37M135.99 340.73L140.62 337.8M49.24 309.64L54.09 311.96M92.62 324.59L97.46 326.99" stroke="#757bea"/><path d="M78.09 317.37L82.72 313.42M111.78 328.41L116.41 324.95M135.78 335.24L140.42 332.1M58.72 307.71L63.56 310.12M97.25 320.94L102.09 323.43M145.26 334.76L150.1 337.42" stroke="#7281eb"/><path d="M82.72 313.42L87.36 309.41M111.57 322.37L116.2 318.72M68.2 305.92L73.04 308.41M97.04 314.59L101.88 317.18" stroke="#6f87ed"/><path d="M87.36 309.41L91.99 305.35M135.36 323.31L140 319.79M72.83 301.69L77.67 304.25M101.68 310.68L106.52 313.35M125.68 317.76L130.52 320.54M144.84 322.66L149.68 325.54" stroke="#6b8def"/><path d="M91.99 305.35L96.63 301.24M116 312.22L120.63 308.35M168.64 324.84L173.27 321.52M77.46 297.44L82.31 300.06M144.63 316.19L149.48 319.16" stroke="#6796ef"/><path d="M101.26 297.09L105.89 292.91" stroke="#5fb0ec"/><path d="M105.89 292.91L110.53 288.7M168.01 304.54L172.85 307.9" stroke="#5bbdeb"/><path d="M110.53 288.7L115.16 284.46M177.49 304.2L182.12 300.45" stroke="#57cbe9"/><path d="M129.06 271.6L133.7 267.27" stroke="#94e4a4"/><path d="M133.7 267.27L138.33 262.92M143.18 266L148.02 269.15" stroke="#ace58f"/><path d="M138.33 262.92L142.97 258.55M147.81 261.65L152.65 264.83" stroke="#c5e77a"/><path d="M142.97 258.55L147.6 254.17" stroke="#dee865"/><path d="M152.24 249.77L156.87 245.35" stroke="#eec85f"/><path d="M156.87 245.35L161.5 240.92M209.3 252.33L214.14 256.37" stroke="#f2b55f"/><path d="M161.5 240.92L166.14 236.48M170.98 239.62L175.82 242.88M213.94 247.99L218.78 252.08" stroke="#f4a362"/><path d="M166.14 236.48L170.77 232.02" stroke="#f29269"/><path d="M175.41 227.55L180.04 223.06M184.88 226.2L189.72 229.48" stroke="#ef7675"/><path d="M180.04 223.06L184.67 218.57" stroke="#ed7179"/><path d="M73.66 327.15L78.3 323.54M78.51 329.33L83.14 325.84M117.04 341.72L121.67 338.85M121.88 343.95L126.51 341.2M44.61 313.97L49.45 316.18M97.67 332.7L102.51 334.96M102.51 334.96L107.35 337.22" stroke="#7975e8"/><path d="M78.3 323.54L82.93 319.78M111.99 334.13L116.62 330.89M54.09 311.96L58.93 314.28M97.46 326.99L102.3 329.38M126.3 335.83L131.15 338.28" stroke="#767bea"/><path d="M82.93 319.78L87.57 315.93M116.62 330.89L121.25 327.54M63.56 310.12L68.4 312.53M102.09 323.43L106.94 325.93M126.1 330.11L130.94 332.68" stroke="#7380eb"/><path d="M87.57 315.93L92.2 312M135.57 329.43L140.21 326.09M154.73 334.39L159.37 331.29M101.88 317.18L106.73 319.78M125.89 324.08L130.73 326.76M145.05 328.86L149.89 331.63" stroke="#6f86ed"/><path d="M101.47 303.97L106.1 299.88M173.27 321.52L177.9 318.14" stroke="#64a0ee"/><path d="M106.1 299.88L110.74 295.75M168.22 311.55L173.06 314.83" stroke="#60aded"/><path d="M110.74 295.75L115.37 291.59M177.7 311.29L182.33 307.69M139.37 299.47L144.22 302.56" stroke="#5cbaeb"/><path d="M120 287.39L124.64 283.16M129.48 286.18L134.32 289.24M162.96 293.96L167.8 297.34" stroke="#58d3e4"/><path d="M124.64 283.16L129.27 278.91M134.12 281.96L138.96 285.07" stroke="#69d9d1"/><path d="M129.27 278.91L133.91 274.63M138.75 277.72L143.59 280.87" stroke="#7adebe"/><path d="M133.91 274.63L138.54 270.32M167.39 282.45L172.02 278.3M181.71 285.44L186.34 281.4" stroke="#8ce4aa"/><path d="M138.54 270.32L143.18 266M172.02 278.3L176.66 274.13M128.86 264.29L133.7 267.27M148.02 269.15L152.86 272.38" stroke="#a4e596"/><path d="M143.18 266L147.81 261.65M224.25 281.52L228.88 277.62" stroke="#bde681"/><path d="M147.81 261.65L152.44 257.28" stroke="#d6e76c"/><path d="M152.44 257.28L157.08 252.89M209.72 268.87L214.35 264.72" stroke="#e8e15f"/><path d="M157.08 252.89L161.71 248.48M195.19 257.09L200.03 260.92" stroke="#ecce5f"/><path d="M161.71 248.48L166.35 244.06M152.03 242.34L156.87 245.35M199.83 252.76L204.67 256.64" stroke="#f1bc5f"/><path d="M166.35 244.06L170.98 239.62M156.66 237.91L161.5 240.92" stroke="#f5a95f"/><path d="M170.98 239.62L175.61 235.16M194.78 240.93L199.62 244.6" stroke="#f39767"/><path d="M175.61 235.16L180.25 230.68M165.93 229.02L170.77 232.02M199.41 236.47L204.25 240.18" stroke="#f1866e"/><path d="M184.88 226.2L189.52 221.69" stroke="#ee7277"/><path d="M83.14 325.84L87.77 322.19M116.83 336.5L121.46 333.37M58.93 314.28L63.77 316.6M102.3 329.38L107.14 331.76M131.15 338.28L135.99 340.73" stroke="#767ae9"/><path d="M92.41 318.43L97.04 314.59M140.42 332.1L145.05 328.86M106.73 319.78L111.57 322.37M149.89 331.63L154.73 334.39" stroke="#7085ed"/><path d="M97.04 314.59L101.68 310.68M121.05 321.4L125.68 317.76M82.52 306.83L87.36 309.41" stroke="#6d8bee"/><path d="M106.31 306.71L110.94 302.69M154.11 315.6L158.95 318.67" stroke="#659def"/><path d="M115.58 298.62L120.21 294.51M144.22 302.56L149.06 305.68" stroke="#5eb6eb"/><path d="M120.21 294.51L124.85 290.36M139.37 299.47L144.01 295.46M129.69 293.37L134.53 296.4M163.17 301.21L168.01 304.54M177.49 304.2L182.33 307.69" stroke="#5ac3ea"/><path d="M124.85 290.36L129.48 286.18M186.96 304.03L191.6 300.33M91.16 277.59L96 280.29M115.16 284.46L120 287.39M134.32 289.24L139.17 292.33" stroke="#56d0e8"/><path d="M129.48 286.18L134.12 281.96M162.96 293.96L167.6 289.96M177.28 296.91L181.91 293.03" stroke="#64d7d7"/><path d="M134.12 281.96L138.75 277.72" stroke="#75dcc4"/><path d="M138.75 277.72L143.38 273.45M129.06 271.6L133.91 274.63" stroke="#86e2b1"/><path d="M143.38 273.45L148.02 269.15M133.7 267.27L138.54 270.32" stroke="#9ce59d"/><path d="M148.02 269.15L152.65 264.83" stroke="#b4e688"/><path d="M185.09 233.96L189.72 229.48M151.4 220.94L156.24 223.47" stroke="#f07b73"/><path d="M83.35 331.5L87.98 328.13M126.72 346.18L131.36 343.53M49.45 316.18L54.29 318.38M107.35 337.22L112.19 339.48" stroke="#7974e8"/><path d="M87.98 328.13L92.62 324.59M92.82 330.42L97.46 326.99M121.67 338.85L126.3 335.83M126.51 341.2L131.15 338.28M63.77 316.6L68.61 318.92M68.61 318.92L73.46 321.23M107.14 331.76L111.99 334.13M135.99 340.73L140.83 343.16" stroke="#7779e9"/><path d="M106.52 313.35L111.15 309.46M164 328.1L168.64 324.84M63.15 296.63L67.99 299.15" stroke="#6a8fef"/><path d="M111.15 309.46L115.79 305.51" stroke="#6699ef"/><path d="M120.42 301.51L125.06 297.46M139.58 306.45L144.22 302.56M129.9 300.43L134.74 303.43M163.38 308.28L168.22 311.55M177.7 311.29L182.54 314.7" stroke="#5fb2ec"/><path d="M129.69 293.37L134.32 289.24M163.17 301.21L167.8 297.34M120 287.39L124.85 290.36M139.17 292.33L144.01 295.46" stroke="#57cce9"/><path d="M134.32 289.24L138.96 285.07M124.64 283.16L129.48 286.18M186.76 296.66L191.6 300.33" stroke="#5ed5de"/><path d="M138.96 285.07L143.59 280.87" stroke="#6fdacb"/><path d="M148.23 276.64L152.86 272.38M214.98 289.19L219.61 285.37" stroke="#93e4a4"/><path d="M152.86 272.38L157.49 268.09M195.82 281.12L200.45 277.07M124.01 261.39L128.86 264.29" stroke="#abe590"/><path d="M157.49 268.09L162.13 263.77M128.65 257.02L133.49 259.93" stroke="#c4e67c"/><path d="M162.13 263.77L166.76 259.43M209.72 268.87L214.56 272.99" stroke="#dce867"/><path d="M166.76 259.43L171.4 255.06" stroke="#e9dd5f"/><path d="M171.4 255.06L176.03 250.68M200.03 260.92L204.67 256.64M223.83 264.8L228.46 260.66M142.55 243.85L147.39 246.75" stroke="#edca5f"/><path d="M176.03 250.68L180.66 246.26M147.18 239.44L152.03 242.34" stroke="#f2b75f"/><path d="M180.66 246.26L185.3 241.83" stroke="#f4a561"/><path d="M185.3 241.83L189.93 237.38" stroke="#f39468"/><path d="M88.19 333.66L92.82 330.42M131.56 348.4L136.2 345.86M54.29 318.38L59.14 320.58M112.19 339.48L117.04 341.72" stroke="#7a74e8"/><path d="M111.36 316.03L116 312.22M149.68 325.54L154.32 322.14M67.99 299.15L72.83 301.69M96.83 308.01L101.68 310.68M120.84 314.99L125.68 317.76M159.16 325.12L164 328.1" stroke="#6b8eef"/><path d="M120.63 308.35L125.26 304.41M139.79 313.23L144.42 309.48M130.11 307.34L134.95 310.28M163.59 315.14L168.43 318.33" stroke="#64a2ee"/><path d="M129.9 300.43L134.53 296.4M163.38 308.28L168.01 304.54M120.21 294.51L125.06 297.46" stroke="#5cbbeb"/><path d="M139.17 292.33L143.8 288.22M177.28 296.91L182.12 300.45" stroke="#58d3e5"/><path d="M143.8 288.22L148.43 284.07" stroke="#69d8d2"/><path d="M148.43 284.07L153.07 279.89M191.39 292.82L196.02 288.93" stroke="#79debf"/><path d="M153.07 279.89L157.7 275.67M100.22 261.96L105.06 264.57" stroke="#8ae3ac"/><path d="M157.7 275.67L162.34 271.42" stroke="#a1e598"/><path d="M162.34 271.42L166.97 267.15" stroke="#bae684"/><path d="M166.97 267.15L171.6 262.84" stroke="#d2e770"/><path d="M171.6 262.84L176.24 258.51" stroke="#e7e55f"/><path d="M176.24 258.51L180.87 254.15M190.56 261.4L195.19 257.09M209.51 260.62L214.35 264.72" stroke="#ebd25f"/><path d="M180.87 254.15L185.51 249.76M195.19 257.09L199.83 252.76M214.14 256.37L218.99 260.53" stroke="#f0c05f"/><path d="M185.51 249.76L190.14 245.36M199.83 252.76L204.46 248.4" stroke="#f4ad5f"/><path d="M190.14 245.36L194.78 240.93" stroke="#f39c65"/><path d="M194.78 240.93L199.41 236.47M141.93 222.96L146.77 225.32" stroke="#f28a6c"/><path d="M199.41 236.47L204.04 232M146.56 218.62L151.4 220.94M175.41 227.55L180.25 230.68" stroke="#f07a73"/><path d="M88.4 338.51L93.03 335.81M93.24 340.54L97.88 337.96" stroke="#7c70e6"/><path d="M93.03 335.81L97.67 332.7M59.14 320.58L63.98 322.78M117.04 341.72L121.88 343.95" stroke="#7a73e8"/><path d="M130.11 307.34L134.74 303.43M163.59 315.14L168.22 311.55M177.9 318.14L182.54 314.7M120.42 301.51L125.26 304.41M139.58 306.45L144.42 309.48" stroke="#61aaed"/><path d="M134.74 303.43L139.37 299.47" stroke="#5db6eb"/><path d="M144.01 295.46L148.64 291.41M167.8 297.34L172.65 300.75" stroke="#56cfe8"/><path d="M153.28 287.32L157.91 283.19" stroke="#72dcc7"/><path d="M162.54 279.03L167.18 274.83" stroke="#97e4a1"/><path d="M167.18 274.83L171.81 270.6M181.5 277.73L186.13 273.58M200.45 277.07L205.29 281.04" stroke="#afe68d"/><path d="M171.81 270.6L176.45 266.34" stroke="#c7e779"/><path d="M194.98 249L199.62 244.6" stroke="#f4a462"/><path d="M204.25 240.18L208.89 235.73M180.25 230.68L185.09 233.96" stroke="#f18170"/><path d="M97.88 337.96L102.51 334.96M102.72 340.11L107.35 337.22M63.98 322.78L68.82 324.97M68.82 324.97L73.66 327.15M121.88 343.95L126.72 346.18M126.72 346.18L131.56 348.4" stroke="#7a73e7"/><path d="M125.68 317.76L130.31 314.05M135.16 316.92L140 319.79" stroke="#6990f0"/><path d="M130.31 314.05L134.95 310.28M163.79 321.75L168.43 318.33M67.78 292.3L72.62 294.85M96.63 301.24L101.47 303.97" stroke="#669bef"/><path d="M134.95 310.28L139.58 306.45M77.26 290.55L82.1 293.18M125.26 304.41L130.11 307.34" stroke="#62a6ed"/><path d="M144.22 302.56L148.85 298.63M187.17 311.2L191.81 307.65" stroke="#5bbeea"/><path d="M153.48 294.64L158.12 290.62M182.12 300.45L186.76 296.66M105.48 278.74L110.32 281.58" stroke="#5bd4e1"/><path d="M158.12 290.62L162.75 286.55" stroke="#6bd9cf"/><path d="M162.75 286.55L167.39 282.45" stroke="#7cdfbd"/><path d="M176.66 274.13L181.29 269.92M109.49 253.29L114.33 255.87M219.4 277.21L224.25 281.52" stroke="#bbe683"/><path d="M181.29 269.92L185.92 265.67" stroke="#d3e76f"/><path d="M185.92 265.67L190.56 261.4M204.88 264.84L209.72 268.87" stroke="#e7e45f"/><path d="M204.46 248.4L209.09 244.02" stroke="#f49c65"/><path d="M209.09 244.02L213.73 239.6" stroke="#f28b6c"/><path d="M98.08 342.56L102.72 340.11M102.93 344.58L107.56 342.24M107.77 346.6L112.4 344.37M112.61 348.62L117.24 346.5M117.45 350.64L122.09 348.61M122.29 352.66L126.93 350.72" stroke="#7c6fe6"/><path d="M121.25 327.54L125.89 324.08" stroke="#7084ec"/><path d="M135.16 316.92L139.79 313.23M125.47 311.19L130.31 314.05" stroke="#6797ef"/><path d="M149.06 305.68L153.69 301.82" stroke="#5db9eb"/><path d="M153.69 301.82L158.33 297.91M182.33 307.69L186.96 304.03M81.68 279.3L86.52 281.91" stroke="#59c5ea"/><path d="M158.33 297.91L162.96 293.96" stroke="#55d1e8"/><path d="M167.6 289.96L172.23 285.92M124.43 275.91L129.27 278.91M143.59 280.87L148.43 284.07" stroke="#74dcc5"/><path d="M172.23 285.92L176.86 281.84" stroke="#84e1b3"/><path d="M186.13 273.58L190.77 269.39" stroke="#c6e779"/><path d="M190.77 269.39L195.4 265.17M152.44 257.28L157.29 260.48" stroke="#dee866"/><path d="M195.4 265.17L200.03 260.92M219.2 268.91L223.83 264.8M137.92 248.25L142.76 251.16" stroke="#e9dc5f"/><path d="M204.67 256.64L209.3 252.33M233.1 256.48L237.94 261.03" stroke="#f2b85f"/><path d="M209.3 252.33L213.94 247.99" stroke="#f5a661"/><path d="M213.94 247.99L218.57 243.62" stroke="#f39568"/><path d="M107.56 342.24L112.19 339.48M112.4 344.37L117.04 341.72M117.24 346.5L121.88 343.95M78.51 329.33L83.35 331.5M83.35 331.5L88.19 333.66" stroke="#7b72e7"/><path d="M153.9 308.81L158.54 305.04M182.54 314.7L187.17 311.2M81.89 286.24L86.73 288.89" stroke="#5eb4ec"/><path d="M158.54 305.04L163.17 301.21M172.85 307.9L177.49 304.2" stroke="#5bc0ea"/><path d="M167.8 297.34L172.44 293.42" stroke="#5cd4e0"/><path d="M172.44 293.42L177.07 289.45" stroke="#6cd9ce"/><path d="M190.97 277.31L195.61 273.19" stroke="#b9e684"/><path d="M195.61 273.19L200.24 269.03" stroke="#d0e771"/><path d="M200.24 269.03L204.88 264.84M147.6 254.17L152.44 257.28M228.67 269.19L233.51 273.68" stroke="#e6e75f"/><path d="M214.14 256.37L218.78 252.08" stroke="#f3b15f"/><path d="M218.78 252.08L223.41 247.77M146.98 232.28L151.82 235.02M185.3 241.83L190.14 245.36M199.62 244.6L204.46 248.4" stroke="#f4a063"/><path d="M149.48 319.16L154.11 315.6M120.63 308.35L125.47 311.19M139.79 313.23L144.63 316.19" stroke="#669aef"/><path d="M154.11 315.6L158.74 311.97M82.1 293.18L86.94 295.84" stroke="#63a4ee"/><path d="M158.74 311.97L163.38 308.28M173.06 314.83L177.7 311.29" stroke="#60afec"/><path d="M168.01 304.54L172.65 300.75M105.69 285.85L110.53 288.7" stroke="#59c6e9"/><path d="M186.55 289.1L191.18 285.13M210.34 292.97L214.98 289.19" stroke="#82e1b5"/><path d="M191.18 285.13L195.82 281.12" stroke="#95e4a3"/><path d="M200.45 277.07L205.08 272.99" stroke="#c2e67d"/><path d="M205.08 272.99L209.72 268.87M171.6 262.84L176.45 266.34M185.92 265.67L190.77 269.39" stroke="#d9e76a"/><path d="M214.35 264.72L218.99 260.53M147.39 246.75L152.24 249.77" stroke="#eccf5f"/><path d="M223.62 256.31L228.26 252.06M132.66 231.62L137.5 234.06" stroke="#f5ac5f"/><path d="M158.95 318.67L163.59 315.14" stroke="#65a0ee"/><path d="M168.22 311.55L172.85 307.9M105.89 292.91L110.74 295.75" stroke="#5eb5ec"/><path d="M186.76 296.66L191.39 292.82" stroke="#6ad9d0"/><path d="M196.02 288.93L200.66 285" stroke="#88e3ae"/><path d="M200.66 285L205.29 281.04M167.18 274.83L172.02 278.3M181.5 277.73L186.34 281.4" stroke="#9de59c"/><path d="M205.29 281.04L209.93 277.03" stroke="#b3e68a"/><path d="M209.93 277.03L214.56 272.99" stroke="#c9e777"/><path d="M214.56 272.99L219.2 268.91" stroke="#e0e864"/><path d="M168.43 318.33L173.06 314.83M106.1 299.88L110.94 302.69" stroke="#63a5ee"/><path d="M191.6 300.33L196.23 296.58" stroke="#61d6db"/><path d="M196.23 296.58L200.87 292.79M177.07 289.45L181.91 293.03" stroke="#6fdbca"/><path d="M200.87 292.79L205.5 288.96M153.07 279.89L157.91 283.19" stroke="#7edfba"/><path d="M205.5 288.96L210.14 285.08" stroke="#8ee4a9"/><path d="M210.14 285.08L214.77 281.16M104.85 257.63L109.7 260.23" stroke="#a3e597"/><path d="M214.77 281.16L219.4 277.21" stroke="#b9e685"/><path d="M219.4 277.21L224.04 273.22" stroke="#cfe772"/><path d="M224.04 273.22L228.67 269.19M181.08 262.04L185.92 265.67" stroke="#e5e860"/><path d="M233.31 265.13L237.94 261.03M204.67 256.64L209.51 260.62" stroke="#eec75f"/><path d="M140.83 343.16L145.47 340.34" stroke="#767aea"/><path d="M191.81 307.65L196.44 304.05M100.84 283.04L105.69 285.85M158.33 297.91L163.17 301.21M172.65 300.75L177.49 304.2" stroke="#58c9e9"/><path d="M196.44 304.05L201.08 300.4" stroke="#57d3e5"/><path d="M201.08 300.4L205.71 296.71" stroke="#65d7d6"/><path d="M205.71 296.71L210.34 292.97" stroke="#74dcc6"/><path d="M228.88 277.62L233.51 273.68" stroke="#d2e76f"/><path d="M233.51 273.68L238.15 269.71M123.6 247.16L128.44 249.84" stroke="#e6e65f"/><path d="M238.15 269.71L242.78 265.71M185.72 257.72L190.56 261.4" stroke="#ead65f"/><path d="M39.98 318.31L44.82 320.33M44.82 320.33L49.66 322.35M49.66 322.35L54.5 324.37M54.5 324.37L59.34 326.39M59.34 326.39L64.19 328.41M64.19 328.41L69.03 330.43M69.03 330.43L73.87 332.45M73.87 332.45L78.71 334.47M78.71 334.47L83.56 336.49M83.56 336.49L88.4 338.51M88.4 338.51L93.24 340.54M93.24 340.54L98.08 342.56M98.08 342.56L102.93 344.58M102.93 344.58L107.77 346.6M107.77 346.6L112.61 348.62M112.61 348.62L117.45 350.64M117.45 350.64L122.29 352.66" stroke="#7d6ee6"/><path d="M73.66 327.15L78.51 329.33" stroke="#7a72e7"/><path d="M73.25 314.95L78.09 317.37M106.94 325.93L111.78 328.41" stroke="#747feb"/><path d="M78.09 317.37L82.93 319.78M111.78 328.41L116.62 330.89" stroke="#747eea"/><path d="M58.51 300.97L63.35 303.44M92.2 312L97.04 314.59" stroke="#6e88ee"/><path d="M116.41 324.95L121.25 327.54" stroke="#7182ec"/><path d="M121.25 327.54L126.1 330.11" stroke="#7281ec"/><path d="M82.31 300.06L87.15 302.7M163.79 321.75L168.64 324.84" stroke="#6894f0"/><path d="M106.52 313.35L111.36 316.03" stroke="#6c8cee"/><path d="M116.2 318.72L121.05 321.4" stroke="#6e89ee"/><path d="M121.05 321.4L125.89 324.08" stroke="#6e87ed"/><path d="M101.47 303.97L106.31 306.71M158.95 318.67L163.79 321.75" stroke="#6798ef"/><path d="M106.31 306.71L111.15 309.46" stroke="#6895f0"/><path d="M111.15 309.46L116 312.22M149.48 319.16L154.32 322.14" stroke="#6992f0"/><path d="M96.42 294.33L101.26 297.09" stroke="#61abed"/><path d="M101.26 297.09L106.1 299.88" stroke="#62a8ed"/><path d="M86.52 281.91L91.37 284.6M110.53 288.7L115.37 291.59M148.85 298.63L153.69 301.82" stroke="#5ac2ea"/><path d="M101.05 290.1L105.89 292.91M172.85 307.9L177.7 311.29" stroke="#5db8eb"/><path d="M86.32 274.96L91.16 277.59" stroke="#55d2e7"/><path d="M90.95 270.63L95.79 273.25M153.28 287.32L158.12 290.62M181.91 293.03L186.76 296.66" stroke="#67d8d4"/><path d="M95.79 273.25L100.64 275.96" stroke="#64d7d8"/><path d="M100.64 275.96L105.48 278.74M158.12 290.62L162.96 293.96" stroke="#60d5dc"/><path d="M110.32 281.58L115.16 284.46M148.64 291.41L153.48 294.64" stroke="#57d3e6"/><path d="M124.85 290.36L129.69 293.37" stroke="#58c8e9"/><path d="M158.74 311.97L163.59 315.14M173.06 314.83L177.9 318.14" stroke="#62a7ed"/><path d="M168.43 318.33L173.27 321.52" stroke="#659dee"/><path d="M95.58 266.3L100.43 268.92" stroke="#79dec0"/><path d="M100.43 268.92L105.27 271.63" stroke="#75ddc4"/><path d="M105.27 271.63L110.11 274.42" stroke="#71dbc8"/><path d="M110.11 274.42L114.95 277.28M191.39 292.82L196.23 296.58" stroke="#6ddacd"/><path d="M114.95 277.28L119.8 280.2" stroke="#68d8d2"/><path d="M119.8 280.2L124.64 283.16M138.96 285.07L143.8 288.22M196.23 296.58L201.08 300.4" stroke="#63d7d8"/><path d="M153.69 301.82L158.54 305.04" stroke="#5cbdeb"/><path d="M105.06 264.57L109.9 267.29" stroke="#87e2b0"/><path d="M114.75 270.09L119.59 272.97" stroke="#7ee0b9"/><path d="M119.59 272.97L124.43 275.91" stroke="#7adebf"/><path d="M129.27 278.91L134.12 281.96" stroke="#6fdbcb"/><path d="M109.7 260.23L114.54 262.94" stroke="#9ee59b"/><path d="M119.38 265.75L124.22 268.64M172.02 278.3L176.86 281.84" stroke="#92e4a5"/><path d="M124.22 268.64L129.06 271.6M143.38 273.45L148.23 276.64M200.66 285L205.5 288.96" stroke="#8be4ab"/><path d="M133.91 274.63L138.75 277.72M205.5 288.96L210.34 292.97" stroke="#80e0b7"/><path d="M148.43 284.07L153.28 287.32" stroke="#6ddacc"/><path d="M114.33 255.87L119.17 258.58" stroke="#b7e687"/><path d="M157.91 283.19L162.75 286.55" stroke="#77ddc2"/><path d="M162.75 286.55L167.6 289.96" stroke="#70dbca"/><path d="M167.6 289.96L172.44 293.42" stroke="#68d8d3"/><path d="M182.12 300.45L186.96 304.03" stroke="#56cee9"/><path d="M114.12 248.96L118.96 251.52" stroke="#d4e76e"/><path d="M118.96 251.52L123.81 254.21" stroke="#d0e772"/><path d="M133.49 259.93L138.33 262.92" stroke="#bde682"/><path d="M138.33 262.92L143.18 266M171.81 270.6L176.66 274.13" stroke="#b5e688"/><path d="M152.86 272.38L157.7 275.67" stroke="#9ae59e"/><path d="M157.7 275.67L162.54 279.03M186.34 281.4L191.18 285.13" stroke="#90e4a7"/><path d="M162.54 279.03L167.39 282.45M176.86 281.84L181.71 285.44" stroke="#88e3af"/><path d="M133.28 252.64L138.12 255.55" stroke="#dde867"/><path d="M138.12 255.55L142.97 258.55" stroke="#d6e76d"/><path d="M142.97 258.55L147.81 261.65" stroke="#cee773"/><path d="M152.65 264.83L157.49 268.09" stroke="#bce682"/><path d="M157.49 268.09L162.34 271.42" stroke="#b2e68a"/><path d="M181.71 285.44L186.55 289.1" stroke="#7fe0b9"/><path d="M186.55 289.1L191.39 292.82" stroke="#76ddc3"/><path d="M128.23 242.8L133.07 245.46" stroke="#ebd45f"/><path d="M142.76 251.16L147.6 254.17" stroke="#e8e25f"/><path d="M157.29 260.48L162.13 263.77M200.24 269.03L205.08 272.99" stroke="#d5e76d"/><path d="M162.13 263.77L166.97 267.15" stroke="#cbe776"/><path d="M166.97 267.15L171.81 270.6" stroke="#c0e67f"/><path d="M176.66 274.13L181.5 277.73" stroke="#a9e592"/><path d="M191.18 285.13L196.02 288.93" stroke="#85e2b1"/><path d="M132.87 238.43L137.71 241.07" stroke="#efc15f"/><path d="M137.71 241.07L142.55 243.85M176.03 250.68L180.87 254.15" stroke="#eec55f"/><path d="M161.92 256.11L166.76 259.43" stroke="#e7e25f"/><path d="M166.76 259.43L171.6 262.84M195.4 265.17L200.24 269.03" stroke="#e3e861"/><path d="M181.29 269.92L186.13 273.58" stroke="#c1e67e"/><path d="M190.97 277.31L195.82 281.12" stroke="#a7e594"/><path d="M195.82 281.12L200.66 285" stroke="#99e59f"/><path d="M137.5 234.06L142.34 236.68M218.78 252.08L223.62 256.31" stroke="#f4ae5f"/><path d="M142.34 236.68L147.18 239.44M180.66 246.26L185.51 249.76M194.98 249L199.83 252.76" stroke="#f3b25f"/><path d="M156.87 245.35L161.71 248.48" stroke="#efc25f"/><path d="M171.4 255.06L176.24 258.51M233.31 265.13L238.15 269.71" stroke="#ead75f"/><path d="M176.24 258.51L181.08 262.04M190.56 261.4L195.4 265.17" stroke="#e8e05f"/><path d="M190.77 269.39L195.61 273.19" stroke="#cbe775"/><path d="M195.61 273.19L200.45 277.07" stroke="#bee681"/><path d="M205.29 281.04L210.14 285.08" stroke="#a0e599"/><path d="M210.14 285.08L214.98 289.19" stroke="#90e4a6"/><path d="M137.29 227.29L142.13 229.69" stroke="#f39b65"/><path d="M142.13 229.69L146.98 232.28M166.14 236.48L170.98 239.62" stroke="#f49d64"/><path d="M161.5 240.92L166.35 244.06" stroke="#f4af5f"/><path d="M171.19 247.31L176.03 250.68" stroke="#f0bd5f"/><path d="M180.87 254.15L185.72 257.72" stroke="#eccd5f"/><path d="M209.93 277.03L214.77 281.16" stroke="#b6e687"/><path d="M214.77 281.16L219.61 285.37" stroke="#a5e595"/><path d="M146.77 225.32L151.61 227.88M170.77 232.02L175.61 235.16" stroke="#f28c6c"/><path d="M151.61 227.88L156.45 230.6M189.93 237.38L194.78 240.93M204.25 240.18L209.09 244.02" stroke="#f28f6a"/><path d="M161.3 233.47L166.14 236.48" stroke="#f39867"/><path d="M175.82 242.88L180.66 246.26M204.46 248.4L209.3 252.33M228.26 252.06L233.1 256.48" stroke="#f5aa5f"/><path d="M185.51 249.76L190.35 253.38M223.62 256.31L228.46 260.66" stroke="#f1bb5f"/><path d="M190.35 253.38L195.19 257.09" stroke="#efc45f"/><path d="M200.03 260.92L204.88 264.84" stroke="#ead95f"/><path d="M214.56 272.99L219.4 277.21" stroke="#cce775"/><path d="M156.24 223.47L161.09 226.16M208.89 235.73L213.73 239.6" stroke="#f07e71"/><path d="M175.61 235.16L180.46 238.43M218.57 243.62L223.41 247.77" stroke="#f39269"/><path d="M180.46 238.43L185.3 241.83M209.09 244.02L213.94 247.99" stroke="#f39966"/><path d="M190.14 245.36L194.98 249" stroke="#f5a860"/><path d="M214.35 264.72L219.2 268.91" stroke="#e8de5f"/><path d="M219.2 268.91L224.04 273.22" stroke="#e2e862"/><path d="M224.04 273.22L228.88 277.62" stroke="#d1e771"/><path d="M151.19 214.29L156.04 216.56M180.04 223.06L184.88 226.2" stroke="#ee7476"/><path d="M160.88 219.05L165.72 221.72" stroke="#ef7676"/><path d="M170.56 224.56L175.41 227.55" stroke="#f07874"/><path d="M185.09 233.96L189.93 237.38" stroke="#f1876d"/><path d="M218.99 260.53L223.83 264.8" stroke="#edcd5f"/><path d="M223.83 264.8L228.67 269.19" stroke="#e9da5f"/><path d="M155.83 209.95L160.67 212.18M184.67 218.57L189.52 221.69" stroke="#ed6f7a"/><path d="M165.51 214.63L170.36 217.27" stroke="#ed7079"/><path d="M194.57 232.91L199.41 236.47" stroke="#f07d72"/><path d="M160.46 205.62L165.3 207.8" stroke="#eb697d"/><path d="M165.3 207.8L170.15 210.21" stroke="#eb6a7d"/><path d="M170.15 210.21L174.99 212.82" stroke="#eb6a7c"/><path d="M174.99 212.82L179.83 215.61" stroke="#ec6c7c"/><path d="M199.2 228.41L204.04 232" stroke="#ef7576"/></g>
<g fill="#ee2211"><circle cx="130.6" cy="265.3" r="1.75"/><circle cx="146.3" cy="296.5" r="1.75"/><circle cx="73.2" cy="301.5" r="1.75"/><circle cx="81" cy="304.1" r="1.75"/><circle cx="109.4" cy="303.2" r="1.75"/><circle cx="93" cy="306.7" r="1.75"/><circle cx="95" cy="306.1" r="1.75"/><circle cx="98.5" cy="311.3" r="1.75"/><circle cx="122.5" cy="311.1" r="1.75"/><circle cx="118.6" cy="311.7" r="1.75"/><circle cx="116.8" cy="314.6" r="1.75"/><circle cx="133.4" cy="310.6" r="1.75"/><circle cx="141.5" cy="309.5" r="1.75"/><circle cx="110.5" cy="318.7" r="1.75"/><circle cx="54.4" cy="310.6" r="1.75"/><circle cx="57" cy="318.3" r="1.75"/><circle cx="62.9" cy="317.6" r="1.75"/><circle cx="66.6" cy="315.4" r="1.75"/><circle cx="72.7" cy="317.6" r="1.75"/><circle cx="77.5" cy="317.6" r="1.75"/><circle cx="67.3" cy="322" r="1.75"/><circle cx="67.9" cy="323.1" r="1.75"/><circle cx="195" cy="240.4" r="1.75"/><circle cx="162" cy="274.2" r="1.75"/><circle cx="176.7" cy="269.8" r="1.75"/><circle cx="173.6" cy="274.6" r="1.75"/><circle cx="172.9" cy="277.1" r="1.75"/><circle cx="69" cy="332.9" r="1.75"/><circle cx="76.2" cy="334.9" r="1.75"/><circle cx="123.8" cy="350.3" r="1.75"/><circle cx="126" cy="352" r="1.75"/><circle cx="130.3" cy="347.7" r="1.75"/><circle cx="132.5" cy="347.1" r="1.75"/><circle cx="134.6" cy="346.7" r="1.75"/><circle cx="137.8" cy="347.4" r="1.75"/><circle cx="132" cy="352.5" r="1.75"/><circle cx="133.9" cy="353.9" r="1.75"/></g>
<line x1="312" y1="297.15" x2="436.8" y2="266.85" stroke="#e8e8e8" stroke-width="0.6"/>
<line x1="436.8" y1="266.85" x2="534" y2="308.75" stroke="#e8e8e8" stroke-width="0.6"/>
<line x1="312" y1="274.5" x2="436.8" y2="244.2" stroke="#e8e8e8" stroke-width="0.6"/>
<line x1="436.8" y1="244.2" x2="534" y2="286.1" stroke="#e8e8e8" stroke-width="0.6"/>
<line x1="312" y1="251.85" x2="436.8" y2="221.55" stroke="#e8e8e8" stroke-width="0.6"/>
<line x1="436.8" y1="221.55" x2="534" y2="263.45" stroke="#e8e8e8" stroke-width="0.6"/>
<line x1="336.96" y1="313.74" x2="336.96" y2="223.14" stroke="#e8e8e8" stroke-width="0.6"/>
<line x1="336.96" y1="313.74" x2="434.16" y2="355.64" stroke="#e8e8e8" stroke-width="0.6"/>
<line x1="361.92" y1="307.68" x2="361.92" y2="217.08" stroke="#e8e8e8" stroke-width="0.6"/>
<line x1="361.92" y1="307.68" x2="459.12" y2="349.58" stroke="#e8e8e8" stroke-width="0.6"/>
<line x1="386.88" y1="301.62" x2="386.88" y2="211.02" stroke="#e8e8e8" stroke-width="0.6"/>
<line x1="386.88" y1="301.62" x2="484.08" y2="343.52" stroke="#e8e8e8" stroke-width="0.6"/>
<line x1="411.84" y1="295.56" x2="411.84" y2="204.96" stroke="#e8e8e8" stroke-width="0.6"/>
<line x1="411.84" y1="295.56" x2="509.04" y2="337.46" stroke="#e8e8e8" stroke-width="0.6"/>
<line x1="456.24" y1="297.88" x2="456.24" y2="207.28" stroke="#e8e8e8" stroke-width="0.6"/>
<line x1="331.44" y1="328.18" x2="456.24" y2="297.88" stroke="#e8e8e8" stroke-width="0.6"/>
<line x1="475.68" y1="306.26" x2="475.68" y2="215.66" stroke="#e8e8e8" stroke-width="0.6"/>
<line x1="350.88" y1="336.56" x2="475.68" y2="306.26" stroke="#e8e8e8" stroke-width="0.6"/>
<line x1="495.12" y1="314.64" x2="495.12" y2="224.04" stroke="#e8e8e8" stroke-width="0.6"/>
<line x1="370.32" y1="344.94" x2="495.12" y2="314.64" stroke="#e8e8e8" stroke-width="0.6"/>
<line x1="514.56" y1="323.02" x2="514.56" y2="232.42" stroke="#e8e8e8" stroke-width="0.6"/>
<line x1="389.76" y1="353.32" x2="514.56" y2="323.02" stroke="#e8e8e8" stroke-width="0.6"/>
<line x1="436.8" y1="289.5" x2="436.8" y2="198.9" stroke="#e8e8e8" stroke-width="0.6"/>
<line x1="312" y1="229.2" x2="436.8" y2="198.9" stroke="#e8e8e8" stroke-width="0.6"/>
<line x1="436.8" y1="198.9" x2="534" y2="240.8" stroke="#e8e8e8" stroke-width="0.6"/>
<line x1="534" y1="331.4" x2="534" y2="240.8" stroke="#e8e8e8" stroke-width="0.6"/>
<line x1="436.8" y1="289.5" x2="534" y2="331.4" stroke="#e8e8e8" stroke-width="0.6"/>
<line x1="312" y1="319.8" x2="436.8" y2="289.5" stroke="#e8e8e8" stroke-width="0.6"/>
<line x1="312" y1="319.8" x2="312" y2="229.2" stroke="#8c8c8c" stroke-width="1.0"/>
<line x1="312" y1="319.8" x2="409.2" y2="361.7" stroke="#8c8c8c" stroke-width="1.0"/>
<line x1="409.2" y1="361.7" x2="534" y2="331.4" stroke="#8c8c8c" stroke-width="1.0"/>
<line x1="312" y1="297.15" x2="309.5" y2="297.75" stroke="#8c8c8c" stroke-width="0.7"/>
<line x1="312" y1="274.5" x2="309.5" y2="275.1" stroke="#8c8c8c" stroke-width="0.7"/>
<line x1="312" y1="251.85" x2="309.5" y2="252.45" stroke="#8c8c8c" stroke-width="0.7"/>
<line x1="312" y1="319.8" x2="309.5" y2="320.4" stroke="#8c8c8c" stroke-width="0.7"/>
<line x1="312" y1="229.2" x2="309.5" y2="229.8" stroke="#8c8c8c" stroke-width="0.7"/>
<line x1="331.44" y1="328.18" x2="329.01" y2="328.77" stroke="#8c8c8c" stroke-width="0.7"/>
<line x1="350.88" y1="336.56" x2="348.45" y2="337.15" stroke="#8c8c8c" stroke-width="0.7"/>
<line x1="370.32" y1="344.94" x2="367.89" y2="345.53" stroke="#8c8c8c" stroke-width="0.7"/>
<line x1="389.76" y1="353.32" x2="387.33" y2="353.91" stroke="#8c8c8c" stroke-width="0.7"/>
<line x1="312" y1="319.8" x2="309.57" y2="320.39" stroke="#8c8c8c" stroke-width="0.7"/>
<line x1="409.2" y1="361.7" x2="406.77" y2="362.29" stroke="#8c8c8c" stroke-width="0.7"/>
<line x1="434.16" y1="355.64" x2="436.46" y2="356.63" stroke="#8c8c8c" stroke-width="0.7"/>
<line x1="459.12" y1="349.58" x2="461.42" y2="350.57" stroke="#8c8c8c" stroke-width="0.7"/>
<line x1="484.08" y1="343.52" x2="486.38" y2="344.51" stroke="#8c8c8c" stroke-width="0.7"/>
<line x1="509.04" y1="337.46" x2="511.34" y2="338.45" stroke="#8c8c8c" stroke-width="0.7"/>
<line x1="409.2" y1="361.7" x2="411.5" y2="362.69" stroke="#8c8c8c" stroke-width="0.7"/>
<line x1="534" y1="331.4" x2="536.3" y2="332.39" stroke="#8c8c8c" stroke-width="0.7"/>
<text x="308" y="321.8" font-size="5.9" text-anchor="end" fill="#1e1e1e">0</text>
<text x="308" y="299.15" font-size="5.9" text-anchor="end" fill="#1e1e1e">50</text>
<text x="308" y="276.5" font-size="5.9" text-anchor="end" fill="#1e1e1e">100</text>
<text x="308" y="253.85" font-size="5.9" text-anchor="end" fill="#1e1e1e">150</text>
<text x="308" y="231.2" font-size="5.9" text-anchor="end" fill="#1e1e1e">200</text>
<text x="307.5" y="327.3" font-size="5.9" text-anchor="end" fill="#1e1e1e">0.1</text>
<text x="326.94" y="335.68" font-size="5.9" text-anchor="end" fill="#1e1e1e">0.08</text>
<text x="346.38" y="344.06" font-size="5.9" text-anchor="end" fill="#1e1e1e">0.06</text>
<text x="365.82" y="352.44" font-size="5.9" text-anchor="end" fill="#1e1e1e">0.04</text>
<text x="385.26" y="360.82" font-size="5.9" text-anchor="end" fill="#1e1e1e">0.02</text>
<text x="404.7" y="369.2" font-size="5.9" text-anchor="end" fill="#1e1e1e">0</text>
<text x="414.2" y="368.9" font-size="5.9" text-anchor="start" fill="#1e1e1e">0</text>
<text x="439.16" y="362.84" font-size="5.9" text-anchor="start" fill="#1e1e1e">20</text>
<text x="464.12" y="356.78" font-size="5.9" text-anchor="start" fill="#1e1e1e">40</text>
<text x="489.08" y="350.72" font-size="5.9" text-anchor="start" fill="#1e1e1e">60</text>
<text x="514.04" y="344.66" font-size="5.9" text-anchor="start" fill="#1e1e1e">80</text>
<text x="539" y="338.6" font-size="5.9" text-anchor="start" fill="#1e1e1e">100</text>
<g fill="none" stroke-width="0.58" stroke-linecap="round"><path d="M318.24 318.29L323.32 312.76M398.25 350.75L402.96 352.66" stroke="#7a73e8"/><path d="M323.32 312.76L328.39 307.91" stroke="#747eea"/><path d="M328.39 307.91L333.47 303.29M380.17 328.82L384.87 330.72M384.87 330.72L389.58 332.62M389.58 332.62L394.29 334.53" stroke="#6f86ed"/><path d="M333.47 303.29L338.55 298.8M338.18 305.19L343.25 300.7M385.24 324.16L389.95 326.06M389.95 326.06L394.66 327.95M394.66 327.95L399.36 329.85" stroke="#6a8fef"/><path d="M338.55 298.8L343.63 294.41M390.32 319.63L395.03 321.53" stroke="#659dee"/><path d="M343.63 294.41L348.7 290.1M348.33 296.3L353.41 291.98M395.4 315.2L400.1 317.09" stroke="#60aeec"/><path d="M348.7 290.1L353.78 285.84M353.41 291.98L358.49 287.73M400.47 310.85L405.18 312.74" stroke="#5bbeea"/><path d="M353.78 285.84L358.86 281.64" stroke="#56cde9"/><path d="M358.86 281.64L363.93 277.48M405.92 300.44L410.63 302.32" stroke="#63d7d8"/><path d="M363.93 277.48L369.01 273.37M448.28 317.37L453.36 313.15M406.29 294.38L411 296.25" stroke="#76ddc3"/><path d="M369.01 273.37L374.09 269.28" stroke="#89e3ad"/><path d="M374.09 269.28L379.17 265.23" stroke="#a3e597"/><path d="M379.17 265.23L384.24 261.2M458.81 302.95L463.88 298.85M416.82 280.17L421.52 282.04" stroke="#bde681"/><path d="M384.24 261.2L389.32 257.2M459.18 296.98L464.25 292.9M421.89 276.12L426.6 277.98" stroke="#d7e76c"/><path d="M389.32 257.2L394.4 253.23M464.25 292.9L469.33 288.85M426.97 272.1L431.68 273.96" stroke="#e8e05f"/><path d="M394.4 253.23L399.47 249.27M464.62 286.99L469.7 282.96" stroke="#eccd5f"/><path d="M399.47 249.27L404.55 245.34M469.7 282.96L474.78 278.96M437.13 264.12L441.83 265.97" stroke="#f1ba5f"/><path d="M404.55 245.34L409.63 241.42M470.07 277.11L475.15 273.13M437.5 258.31L442.2 260.16" stroke="#f5a860"/><path d="M409.63 241.42L414.7 237.53M475.15 273.13L480.23 269.17M442.57 254.37L447.28 256.22" stroke="#f39767"/><path d="M414.7 237.53L419.78 233.65M480.23 269.17L485.3 265.23M447.65 250.46L452.36 252.3" stroke="#f1866e"/><path d="M419.78 233.65L424.86 229.78M475.89 261.54L480.97 257.62M480.6 263.38L485.67 259.46M448.02 244.71L452.73 246.55" stroke="#f07974"/><path d="M424.86 229.78L429.94 225.93M429.57 231.62L434.64 227.77M485.67 259.46L490.75 255.56M490.38 261.31L495.46 257.4M453.1 240.83L457.8 242.67M457.8 242.67L462.51 244.51M462.51 244.51L467.22 246.35" stroke="#ee7377"/><path d="M322.95 320.19L328.02 314.66M327.65 322.1L332.73 316.57M402.96 352.66L407.66 354.57" stroke="#7a74e8"/><path d="M328.02 314.66L333.1 309.81M332.73 316.57L337.81 311.71M337.44 318.47L342.51 313.62M393.91 341.33L398.62 343.23M398.62 343.23L403.33 345.14M403.33 345.14L408.03 347.04" stroke="#747eeb"/><path d="M333.1 309.81L338.18 305.19M337.81 311.71L342.88 307.08M394.29 334.53L398.99 336.43M398.99 336.43L403.7 338.33" stroke="#6f87ed"/><path d="M343.25 300.7L348.33 296.3M395.03 321.53L399.73 323.42" stroke="#659eee"/><path d="M358.49 287.73L363.56 283.52M405.55 306.56L410.26 308.45" stroke="#56cee8"/><path d="M363.56 283.52L368.64 279.36M410.63 302.32L415.34 304.2" stroke="#64d7d7"/><path d="M368.64 279.36L373.72 275.24M411 296.25L415.71 298.13" stroke="#77ddc1"/><path d="M373.72 275.24L378.79 271.15" stroke="#8ae3ac"/><path d="M378.79 271.15L383.87 267.1M458.43 308.97L463.51 304.83M416.45 286.12L421.15 287.99" stroke="#a4e596"/><path d="M383.87 267.1L388.95 263.07M421.52 282.04L426.23 283.9" stroke="#bee680"/><path d="M388.95 263.07L394.03 259.06M463.88 298.85L468.96 294.77M426.6 277.98L431.31 279.85" stroke="#d8e76a"/><path d="M394.03 259.06L399.1 255.09M468.96 294.77L474.04 290.71M431.68 273.96L436.38 275.82" stroke="#e8df5f"/><path d="M399.1 255.09L404.18 251.13M469.33 288.85L474.41 284.82" stroke="#edcc5f"/><path d="M404.18 251.13L409.26 247.19M474.41 284.82L479.48 280.82" stroke="#f1b95f"/><path d="M409.26 247.19L414.33 243.27M474.78 278.96L479.85 274.98M442.2 260.16L446.91 262.01" stroke="#f5a760"/><path d="M414.33 243.27L419.41 239.37M479.85 274.98L484.93 271.02M447.28 256.22L451.99 258.07" stroke="#f39667"/><path d="M419.41 239.37L424.49 235.49M452.36 252.3L457.06 254.15" stroke="#f1856e"/><path d="M424.49 235.49L429.57 231.62M429.19 237.34L434.27 233.47M490.01 267.08L495.09 263.15M494.72 268.92L499.79 264.99M457.43 248.4L462.14 250.24M462.14 250.24L466.85 252.09" stroke="#ef7874"/><path d="M342.88 307.08L347.96 302.59M347.59 308.98L352.67 304.48M399.36 329.85L404.07 331.75M404.07 331.75L408.78 333.65" stroke="#6a90f0"/><path d="M347.96 302.59L353.04 298.19M399.73 323.42L404.44 325.31M404.44 325.31L409.15 327.21" stroke="#659fee"/><path d="M353.04 298.19L358.12 293.87M400.1 317.09L404.81 318.98M404.81 318.98L409.52 320.87" stroke="#60afec"/><path d="M358.12 293.87L363.19 289.61M405.18 312.74L409.89 314.63" stroke="#5bbfea"/><path d="M363.19 289.61L368.27 285.4M410.26 308.45L414.96 310.33" stroke="#56cfe8"/><path d="M368.27 285.4L373.35 281.24" stroke="#65d7d6"/><path d="M373.35 281.24L378.42 277.11M415.71 298.13L420.41 300.01" stroke="#78dec0"/><path d="M378.42 277.11L383.5 273.02" stroke="#8be4ab"/><path d="M383.5 273.02L388.58 268.96" stroke="#a6e595"/><path d="M388.58 268.96L393.66 264.93M426.23 283.9L430.94 285.77" stroke="#c0e67f"/><path d="M393.66 264.93L398.73 260.93M468.59 300.71L473.67 296.63M431.31 279.85L436.01 281.71" stroke="#dae769"/><path d="M398.73 260.93L403.81 256.94" stroke="#e8de5f"/><path d="M403.81 256.94L408.89 252.98M474.04 290.71L479.11 286.68M436.76 269.95L441.46 271.81" stroke="#edcb5f"/><path d="M408.89 252.98L413.96 249.04M479.11 286.68L484.19 282.67M441.83 265.97L446.54 267.83" stroke="#f2b85f"/><path d="M413.96 249.04L419.04 245.12M479.48 280.82L484.56 276.83M446.91 262.01L451.62 263.87" stroke="#f5a661"/><path d="M419.04 245.12L424.12 241.22M484.56 276.83L489.64 272.87M451.99 258.07L456.69 259.92" stroke="#f39568"/><path d="M424.12 241.22L429.19 237.34M489.64 272.87L494.72 268.92M457.06 254.15L461.77 256" stroke="#f1846f"/><path d="M434.27 233.47L439.35 229.61M495.09 263.15L500.16 259.24" stroke="#ee7277"/><path d="M332.36 324.01L337.44 318.47" stroke="#7974e8"/><path d="M342.51 313.62L347.59 308.98M403.7 338.33L408.41 340.23" stroke="#6e87ed"/><path d="M352.67 304.48L357.75 300.08" stroke="#65a0ee"/><path d="M357.75 300.08L362.82 295.76M409.52 320.87L414.22 322.76" stroke="#5fb0ec"/><path d="M362.82 295.76L367.9 291.49M409.89 314.63L414.59 316.51" stroke="#5bc0ea"/><path d="M367.9 291.49L372.98 287.28M414.96 310.33L419.67 312.21" stroke="#56d0e8"/><path d="M372.98 287.28L378.05 283.12" stroke="#66d8d5"/><path d="M378.05 283.12L383.13 278.99M420.41 300.01L425.12 301.89" stroke="#79debf"/><path d="M383.13 278.99L388.21 274.89" stroke="#8de4aa"/><path d="M388.21 274.89L393.28 270.83" stroke="#a7e593"/><path d="M393.28 270.83L398.36 266.8" stroke="#c1e67d"/><path d="M398.36 266.8L403.44 262.79" stroke="#dbe868"/><path d="M403.44 262.79L408.52 258.8M473.67 296.63L478.74 292.57" stroke="#e9dd5f"/><path d="M408.52 258.8L413.59 254.84M478.74 292.57L483.82 288.54M441.46 271.81L446.17 273.67" stroke="#edca5f"/><path d="M413.59 254.84L418.67 250.9M483.82 288.54L488.9 284.53M446.54 267.83L451.25 269.68" stroke="#f2b75f"/><path d="M418.67 250.9L423.75 246.97M484.19 282.67L489.27 278.69M451.62 263.87L456.32 265.72" stroke="#f4a561"/><path d="M423.75 246.97L428.82 243.07M489.27 278.69L494.35 274.72M456.69 259.92L461.4 261.77" stroke="#f39468"/><path d="M428.82 243.07L433.9 239.18M461.77 256L466.48 257.84" stroke="#f1836f"/><path d="M433.9 239.18L438.98 235.31M438.61 241.02L443.69 237.15M443.31 242.87L448.39 238.99M499.42 270.77L504.5 266.84M504.13 272.62L509.21 268.68M466.85 252.09L471.55 253.93M471.55 253.93L476.26 255.77" stroke="#ef7775"/><path d="M438.98 235.31L444.06 231.45M443.69 237.15L448.76 233.29M499.79 264.99L504.87 261.08M504.5 266.84L509.58 262.92M467.22 246.35L471.92 248.19M471.92 248.19L476.63 250.03" stroke="#ee7278"/><path d="M337.07 325.92L342.14 320.38M341.77 327.83L346.85 322.28M346.48 329.74L351.56 324.19" stroke="#7975e8"/><path d="M342.14 320.38L347.22 315.52M346.85 322.28L351.93 317.42M351.56 324.19L356.63 319.32M408.03 347.04L412.74 348.95" stroke="#737feb"/><path d="M347.22 315.52L352.3 310.88M351.93 317.42L357 312.78M408.41 340.23L413.11 342.13M413.11 342.13L417.82 344.03" stroke="#6e88ed"/><path d="M352.3 310.88L357.37 306.38M408.78 333.65L413.48 335.54" stroke="#6990f0"/><path d="M357.37 306.38L362.45 301.97M409.15 327.21L413.85 329.1" stroke="#64a0ee"/><path d="M362.45 301.97L367.53 297.64M367.16 303.86L372.24 299.53M414.22 322.76L418.93 324.65" stroke="#5fb1ec"/><path d="M367.53 297.64L372.61 293.38M414.59 316.51L419.3 318.4M419.3 318.4L424.01 320.29" stroke="#5ac1ea"/><path d="M372.61 293.38L377.68 289.16M377.31 295.26L382.39 291.04M419.67 312.21L424.38 314.1M424.38 314.1L429.08 315.98" stroke="#55d1e8"/><path d="M377.68 289.16L382.76 284.99" stroke="#67d8d4"/><path d="M382.76 284.99L387.84 280.86M425.12 301.89L429.83 303.76" stroke="#7adebe"/><path d="M387.84 280.86L392.91 276.76M430.2 297.73L434.9 299.6" stroke="#8ee4a8"/><path d="M392.91 276.76L397.99 272.7" stroke="#a9e592"/><path d="M397.99 272.7L403.07 268.66M435.64 287.64L440.35 289.51" stroke="#c3e67c"/><path d="M403.07 268.66L408.15 264.65M440.72 283.58L445.43 285.44" stroke="#dde866"/><path d="M408.15 264.65L413.22 260.66M441.09 277.68L445.8 279.54" stroke="#e9dc5f"/><path d="M413.22 260.66L418.3 256.7M450.87 275.53L455.58 277.39" stroke="#eec85f"/><path d="M418.3 256.7L423.38 252.75M451.25 269.68L455.95 271.54" stroke="#f2b65f"/><path d="M423.38 252.75L428.45 248.82M456.32 265.72L461.03 267.57" stroke="#f4a462"/><path d="M428.45 248.82L433.53 244.91M493.97 280.54L499.05 276.57" stroke="#f39369"/><path d="M433.53 244.91L438.61 241.02" stroke="#f18270"/><path d="M357 312.78L362.08 308.27M361.71 314.67L366.79 310.16M366.42 316.57L371.49 312.06M413.48 335.54L418.19 337.44M418.19 337.44L422.9 339.34" stroke="#6991f0"/><path d="M362.08 308.27L367.16 303.86M413.85 329.1L418.56 330.99" stroke="#64a1ee"/><path d="M372.24 299.53L377.31 295.26M376.94 301.42L382.02 297.14M424.01 320.29L428.71 322.17" stroke="#5ac2ea"/><path d="M382.39 291.04L387.47 286.87" stroke="#68d8d3"/><path d="M387.47 286.87L392.54 282.73M429.83 303.76L434.53 305.64" stroke="#7bdfbd"/><path d="M392.54 282.73L397.62 278.63" stroke="#8fe4a7"/><path d="M397.62 278.63L402.7 274.57" stroke="#aae591"/><path d="M402.7 274.57L407.77 270.53" stroke="#c4e77b"/><path d="M407.77 270.53L412.85 266.51M445.43 285.44L450.13 287.31" stroke="#dfe865"/><path d="M412.85 266.51L417.93 262.52M450.5 281.4L455.21 283.26" stroke="#e9da5f"/><path d="M417.93 262.52L423.01 258.55M455.58 277.39L460.29 279.25" stroke="#eec75f"/><path d="M423.01 258.55L428.08 254.6" stroke="#f2b45f"/><path d="M428.08 254.6L433.16 250.67" stroke="#f4a262"/><path d="M433.16 250.67L438.24 246.76M466.11 263.62L470.81 265.47" stroke="#f29169"/><path d="M438.24 246.76L443.31 242.87M471.18 259.69L475.89 261.54" stroke="#f18070"/><path d="M448.39 238.99L453.47 235.13M453.1 240.83L458.18 236.96M509.21 268.68L514.28 264.76M476.63 250.03L481.34 251.88M481.34 251.88L486.04 253.72" stroke="#ed7178"/><path d="M356.63 319.32L361.71 314.67" stroke="#6e88ee"/><path d="M366.79 310.16L371.86 305.75M371.49 312.06L376.57 307.64M418.56 330.99L423.27 332.89M423.27 332.89L427.97 334.78" stroke="#64a2ee"/><path d="M371.86 305.75L376.94 301.42M418.93 324.65L423.64 326.55M423.64 326.55L428.34 328.44" stroke="#5fb2ec"/><path d="M382.02 297.14L387.1 292.92M429.08 315.98L433.79 317.86" stroke="#55d2e8"/><path d="M387.1 292.92L392.17 288.75" stroke="#69d8d2"/><path d="M392.17 288.75L397.25 284.61M434.53 305.64L439.24 307.52" stroke="#7cdfbc"/><path d="M397.25 284.61L402.33 280.51M439.61 301.47L444.32 303.35" stroke="#91e4a6"/><path d="M402.33 280.51L407.4 276.43" stroke="#ace590"/><path d="M407.4 276.43L412.48 272.39M445.06 291.37L449.76 293.24" stroke="#c6e77a"/><path d="M412.48 272.39L417.56 268.37M450.13 287.31L454.84 289.17" stroke="#e0e864"/><path d="M417.56 268.37L422.64 264.38M455.21 283.26L459.92 285.13" stroke="#ead95f"/><path d="M422.64 264.38L427.71 260.41M460.29 279.25L464.99 281.11" stroke="#eec65f"/><path d="M427.71 260.41L432.79 256.46" stroke="#f3b35f"/><path d="M432.79 256.46L437.87 252.52M465.74 269.42L470.44 271.28" stroke="#f4a163"/><path d="M437.87 252.52L442.94 248.61M470.81 265.47L475.52 267.32" stroke="#f2906a"/><path d="M442.94 248.61L448.02 244.71M475.89 261.54L480.6 263.38" stroke="#f17f71"/><path d="M448.02 244.71L453.1 240.83M452.73 246.55L457.8 242.67M476.26 255.77L480.97 257.62M480.97 257.62L485.67 259.46" stroke="#ef7675"/><path d="M351.19 331.65L356.26 326.09" stroke="#7976e8"/><path d="M356.26 326.09L361.34 321.22M360.97 328L366.05 323.12" stroke="#7380eb"/><path d="M361.34 321.22L366.42 316.57M366.05 323.12L371.12 318.47" stroke="#6e89ee"/><path d="M376.57 307.64L381.65 303.3M428.34 328.44L433.05 330.33" stroke="#5fb3ec"/><path d="M381.65 303.3L386.73 299.03M428.71 322.17L433.42 324.06" stroke="#5ac3ea"/><path d="M386.73 299.03L391.8 294.8M433.79 317.86L438.5 319.75" stroke="#56d2e7"/><path d="M391.8 294.8L396.88 290.62" stroke="#6ad9d1"/><path d="M396.88 290.62L401.96 286.48M439.24 307.52L443.94 309.39" stroke="#7ddfbb"/><path d="M401.96 286.48L407.03 282.38" stroke="#92e4a5"/><path d="M407.03 282.38L412.11 278.3" stroke="#ade58e"/><path d="M412.11 278.3L417.19 274.25" stroke="#c7e778"/><path d="M417.19 274.25L422.26 270.23M454.84 289.17L459.55 291.04" stroke="#e2e863"/><path d="M422.26 270.23L427.34 266.24M459.92 285.13L464.62 286.99" stroke="#ead85f"/><path d="M427.34 266.24L432.42 262.26" stroke="#eec55f"/><path d="M432.42 262.26L437.5 258.31M465.36 275.25L470.07 277.11" stroke="#f3b25f"/><path d="M437.5 258.31L442.57 254.37M470.44 271.28L475.15 273.13" stroke="#f4a063"/><path d="M442.57 254.37L447.65 250.46M475.52 267.32L480.23 269.17" stroke="#f28f6a"/><path d="M447.65 250.46L452.73 246.55M480.6 263.38L485.3 265.23" stroke="#f07e71"/><path d="M457.8 242.67L462.88 238.8M462.51 244.51L467.59 240.64M467.22 246.35L472.29 242.48M490.75 255.56L495.46 257.4M495.46 257.4L500.16 259.24M429.94 225.93L434.64 227.77M434.64 227.77L439.35 229.61" stroke="#ed7079"/><path d="M355.89 333.56L360.97 328M360.6 335.47L365.68 329.9" stroke="#7876e8"/><path d="M371.12 318.47L376.2 313.95" stroke="#6992f0"/><path d="M376.2 313.95L381.28 309.53" stroke="#63a3ee"/><path d="M381.28 309.53L386.35 305.19M385.98 311.42L391.06 307.08" stroke="#5eb4ec"/><path d="M386.35 305.19L391.43 300.91M433.42 324.06L438.13 325.95" stroke="#59c4ea"/><path d="M391.43 300.91L396.51 296.68" stroke="#57d3e6"/><path d="M396.51 296.68L401.59 292.5M443.57 315.49L448.28 317.37" stroke="#6bd9cf"/><path d="M401.59 292.5L406.66 288.36M443.94 309.39L448.65 311.27" stroke="#7ee0b9"/><path d="M406.66 288.36L411.74 284.25M449.02 305.22L453.73 307.1" stroke="#94e4a3"/><path d="M411.74 284.25L416.82 280.17M454.1 301.08L458.81 302.95" stroke="#afe68d"/><path d="M416.82 280.17L421.89 276.12M454.47 295.11L459.18 296.98" stroke="#c9e777"/><path d="M421.89 276.12L426.97 272.1M459.55 291.04L464.25 292.9" stroke="#e3e861"/><path d="M426.97 272.1L432.05 268.1M464.62 286.99L469.33 288.85" stroke="#ead75f"/><path d="M432.05 268.1L437.13 264.12M464.99 281.11L469.7 282.96" stroke="#efc45f"/><path d="M437.13 264.12L442.2 260.16M470.07 277.11L474.78 278.96M404.55 245.34L409.26 247.19" stroke="#f3b15f"/><path d="M442.2 260.16L447.28 256.22M409.63 241.42L414.33 243.27" stroke="#f49f64"/><path d="M447.28 256.22L452.36 252.3M480.23 269.17L484.93 271.02M414.7 237.53L419.41 239.37" stroke="#f28e6b"/><path d="M452.36 252.3L457.43 248.4M485.3 265.23L490.01 267.08M419.78 233.65L424.49 235.49" stroke="#f07d72"/><path d="M457.43 248.4L462.51 244.51M462.14 250.24L467.22 246.35M490.38 261.31L495.09 263.15M495.09 263.15L499.79 264.99M429.57 231.62L434.27 233.47" stroke="#ef7576"/><path d="M365.68 329.9L370.75 325.02" stroke="#7280eb"/><path d="M370.75 325.02L375.83 320.36" stroke="#6d89ee"/><path d="M375.83 320.36L380.91 315.84" stroke="#6893f0"/><path d="M380.91 315.84L385.98 311.42" stroke="#63a4ee"/><path d="M391.06 307.08L396.14 302.8M395.77 308.97L400.84 304.68" stroke="#59c5ea"/><path d="M396.14 302.8L401.22 298.56" stroke="#58d3e5"/><path d="M401.22 298.56L406.29 294.38" stroke="#6cd9ce"/><path d="M406.29 294.38L411.37 290.23M448.65 311.27L453.36 313.15" stroke="#7fe0b8"/><path d="M411.37 290.23L416.45 286.12" stroke="#95e4a2"/><path d="M416.45 286.12L421.52 282.04" stroke="#b0e68c"/><path d="M421.52 282.04L426.6 277.98M384.24 261.2L388.95 263.07" stroke="#cbe776"/><path d="M426.6 277.98L431.68 273.96M464.25 292.9L468.96 294.77M389.32 257.2L394.03 259.06" stroke="#e5e860"/><path d="M431.68 273.96L436.76 269.95M394.4 253.23L399.1 255.09" stroke="#ead65f"/><path d="M436.76 269.95L441.83 265.97M469.7 282.96L474.41 284.82M399.47 249.27L404.18 251.13" stroke="#efc35f"/><path d="M441.83 265.97L446.91 262.01M474.78 278.96L479.48 280.82" stroke="#f4b05f"/><path d="M446.91 262.01L451.99 258.07M479.85 274.98L484.56 276.83M414.33 243.27L419.04 245.12" stroke="#f49e64"/><path d="M451.99 258.07L457.06 254.15M484.93 271.02L489.64 272.87M419.41 239.37L424.12 241.22" stroke="#f28d6b"/><path d="M457.06 254.15L462.14 250.24M490.01 267.08L494.72 268.92M424.49 235.49L429.19 237.34" stroke="#f07c72"/><path d="M365.31 337.38L370.38 331.8" stroke="#7877e8"/><path d="M370.38 331.8L375.46 326.92M375.09 333.71L380.17 328.82" stroke="#7281eb"/><path d="M375.46 326.92L380.54 322.26M380.17 328.82L385.24 324.16M384.87 330.72L389.95 326.06" stroke="#6d8aee"/><path d="M380.54 322.26L385.61 317.74M385.24 324.16L390.32 319.63" stroke="#6894f0"/><path d="M385.61 317.74L390.69 313.31M390.32 319.63L395.4 315.2" stroke="#63a5ee"/><path d="M390.69 313.31L395.77 308.97" stroke="#5eb5ec"/><path d="M400.84 304.68L405.92 300.44" stroke="#59d3e3"/><path d="M405.92 300.44L411 296.25M363.93 277.48L368.64 279.36" stroke="#6ddacd"/><path d="M411 296.25L416.08 292.1M369.01 273.37L373.72 275.24" stroke="#80e0b7"/><path d="M416.08 292.1L421.15 287.99" stroke="#97e4a1"/><path d="M421.15 287.99L426.23 283.9" stroke="#b2e68b"/><path d="M426.23 283.9L431.31 279.85M463.88 298.85L468.59 300.71" stroke="#cce775"/><path d="M431.31 279.85L436.38 275.82M468.96 294.77L473.67 296.63M394.03 259.06L398.73 260.93" stroke="#e6e85f"/><path d="M436.38 275.82L441.46 271.81M474.04 290.71L478.74 292.57M403.81 256.94L408.52 258.8" stroke="#ebd45f"/><path d="M441.46 271.81L446.54 267.83M479.11 286.68L483.82 288.54M408.89 252.98L413.59 254.84" stroke="#efc15f"/><path d="M446.54 267.83L451.62 263.87M484.19 282.67L488.9 284.53M413.96 249.04L418.67 250.9" stroke="#f4ae5f"/><path d="M451.62 263.87L456.69 259.92M419.04 245.12L423.75 246.97" stroke="#f49d65"/><path d="M456.69 259.92L461.77 256M489.64 272.87L494.35 274.72M424.12 241.22L428.82 243.07" stroke="#f28c6c"/><path d="M461.77 256L466.85 252.09M429.19 237.34L433.9 239.18" stroke="#f07b73"/><path d="M466.85 252.09L471.92 248.19M499.79 264.99L504.5 266.84M434.27 233.47L438.98 235.31" stroke="#ee7576"/><path d="M471.92 248.19L477 244.32M500.16 259.24L504.87 261.08M504.87 261.08L509.58 262.92M439.35 229.61L444.06 231.45M444.06 231.45L448.76 233.29" stroke="#ed6f79"/><path d="M370.01 339.29L375.09 333.71M374.72 341.2L379.8 335.61M379.42 343.11L384.5 337.52" stroke="#7877e9"/><path d="M395.4 315.2L400.47 310.85M348.7 290.1L353.41 291.98" stroke="#5eb6eb"/><path d="M400.47 310.85L405.55 306.56M353.78 285.84L358.49 287.73" stroke="#59c6e9"/><path d="M405.55 306.56L410.63 302.32" stroke="#5ad4e2"/><path d="M410.63 302.32L415.71 298.13M368.64 279.36L373.35 281.24" stroke="#6edacc"/><path d="M415.71 298.13L420.78 293.98M373.72 275.24L378.42 277.11" stroke="#81e1b6"/><path d="M420.78 293.98L425.86 289.86M378.79 271.15L383.5 273.02" stroke="#98e5a0"/><path d="M425.86 289.86L430.94 285.77" stroke="#b3e689"/><path d="M430.94 285.77L436.01 281.71M393.66 264.93L398.36 266.8" stroke="#cee773"/><path d="M436.01 281.71L441.09 277.68M398.73 260.93L403.44 262.79" stroke="#e6e75f"/><path d="M441.09 277.68L446.17 273.67M408.52 258.8L413.22 260.66" stroke="#ebd35f"/><path d="M446.17 273.67L451.25 269.68M413.59 254.84L418.3 256.7" stroke="#f0c05f"/><path d="M451.25 269.68L456.32 265.72M418.67 250.9L423.38 252.75" stroke="#f4ad5f"/><path d="M456.32 265.72L461.4 261.77M489.27 278.69L493.97 280.54" stroke="#f49c65"/><path d="M461.4 261.77L466.48 257.84" stroke="#f28a6c"/><path d="M466.48 257.84L471.55 253.93M494.72 268.92L499.42 270.77M499.42 270.77L504.13 272.62M433.9 239.18L438.61 241.02M438.61 241.02L443.31 242.87" stroke="#f07a73"/><path d="M471.55 253.93L476.63 250.03M504.5 266.84L509.21 268.68M438.98 235.31L443.69 237.15M443.69 237.15L448.39 238.99" stroke="#ee7476"/><path d="M476.63 250.03L481.71 246.15M509.58 262.92L514.28 264.76M448.76 233.29L453.47 235.13" stroke="#ed6f7a"/><path d="M379.8 335.61L384.87 330.72" stroke="#7281ec"/><path d="M389.95 326.06L395.03 321.53" stroke="#6895f0"/><path d="M395.03 321.53L400.1 317.09M343.63 294.41L348.33 296.3" stroke="#63a6ed"/><path d="M400.1 317.09L405.18 312.74M404.81 318.98L409.89 314.63M353.41 291.98L358.12 293.87" stroke="#5db7eb"/><path d="M405.18 312.74L410.26 308.45M358.49 287.73L363.19 289.61" stroke="#58c7e9"/><path d="M410.26 308.45L415.34 304.2" stroke="#5bd4e1"/><path d="M415.34 304.2L420.41 300.01" stroke="#6fdacb"/><path d="M420.41 300.01L425.49 295.85M378.42 277.11L383.13 278.99" stroke="#82e1b5"/><path d="M425.49 295.85L430.57 291.73" stroke="#9ae59f"/><path d="M430.57 291.73L435.64 287.64M393.28 270.83L397.99 272.7" stroke="#b5e688"/><path d="M435.64 287.64L440.72 283.58M398.36 266.8L403.07 268.66" stroke="#cfe772"/><path d="M440.72 283.58L445.8 279.54" stroke="#e7e55f"/><path d="M445.8 279.54L450.87 275.53" stroke="#ebd25f"/><path d="M450.87 275.53L455.95 271.54" stroke="#f0bf5f"/><path d="M455.95 271.54L461.03 267.57M423.38 252.75L428.08 254.6" stroke="#f5ac5f"/><path d="M461.03 267.57L466.11 263.62" stroke="#f39b65"/><path d="M466.11 263.62L471.18 259.69M433.53 244.91L438.24 246.76" stroke="#f2896d"/><path d="M471.18 259.69L476.26 255.77M443.31 242.87L448.02 244.71" stroke="#f07973"/><path d="M476.26 255.77L481.34 251.88M480.97 257.62L486.04 253.72M448.39 238.99L453.1 240.83" stroke="#ee7477"/><path d="M481.34 251.88L486.41 247.99M453.47 235.13L458.18 236.96" stroke="#ed6e7a"/><path d="M384.5 337.52L389.58 332.62M389.21 339.42L394.29 334.53" stroke="#7282ec"/><path d="M389.58 332.62L394.66 327.95" stroke="#6d8bee"/><path d="M394.66 327.95L399.73 323.42" stroke="#6896ef"/><path d="M399.73 323.42L404.81 318.98M404.44 325.31L409.52 320.87M348.33 296.3L353.04 298.19M353.04 298.19L357.75 300.08" stroke="#62a7ed"/><path d="M409.89 314.63L414.96 310.33M414.59 316.51L419.67 312.21M363.19 289.61L367.9 291.49M367.9 291.49L372.61 293.38" stroke="#58c8e9"/><path d="M414.96 310.33L420.04 306.08" stroke="#5cd4e0"/><path d="M420.04 306.08L425.12 301.89" stroke="#70dbca"/><path d="M425.12 301.89L430.2 297.73M383.13 278.99L387.84 280.86" stroke="#83e1b4"/><path d="M430.2 297.73L435.27 293.6" stroke="#9be59d"/><path d="M435.27 293.6L440.35 289.51" stroke="#b6e687"/><path d="M440.35 289.51L445.43 285.44M403.07 268.66L407.77 270.53" stroke="#d1e771"/><path d="M445.43 285.44L450.5 281.4M408.15 264.65L412.85 266.51" stroke="#e7e45f"/><path d="M450.5 281.4L455.58 277.39" stroke="#ecd15f"/><path d="M455.58 277.39L460.66 273.4M418.3 256.7L423.01 258.55" stroke="#f0be5f"/><path d="M460.66 273.4L465.74 269.42" stroke="#f5ab5f"/><path d="M465.74 269.42L470.81 265.47M433.16 250.67L437.87 252.52" stroke="#f39966"/><path d="M470.81 265.47L475.89 261.54M438.24 246.76L442.94 248.61" stroke="#f1886d"/><path d="M486.04 253.72L491.12 249.83M490.75 255.56L495.83 251.67M458.18 236.96L462.88 238.8M462.88 238.8L467.59 240.64" stroke="#ec6e7a"/><path d="M384.13 345.02L389.21 339.42M388.84 346.93L393.91 341.33M393.54 348.84L398.62 343.23" stroke="#7778e9"/><path d="M394.29 334.53L399.36 329.85M398.99 336.43L404.07 331.75M333.47 303.29L338.18 305.19M338.18 305.19L342.88 307.08" stroke="#6c8bee"/><path d="M399.36 329.85L404.44 325.31M343.25 300.7L347.96 302.59" stroke="#6796ef"/><path d="M409.52 320.87L414.59 316.51M358.12 293.87L362.82 295.76M362.82 295.76L367.53 297.64" stroke="#5db8eb"/><path d="M419.67 312.21L424.75 307.97" stroke="#5dd5df"/><path d="M424.75 307.97L429.83 303.76" stroke="#71dbc9"/><path d="M429.83 303.76L434.9 299.6" stroke="#84e2b2"/><path d="M434.9 299.6L439.98 295.47" stroke="#9de59c"/><path d="M439.98 295.47L445.06 291.37" stroke="#b8e686"/><path d="M445.06 291.37L450.13 287.31" stroke="#d2e770"/><path d="M450.13 287.31L455.21 283.26M412.85 266.51L417.56 268.37" stroke="#e7e35f"/><path d="M455.21 283.26L460.29 279.25M417.93 262.52L422.64 264.38" stroke="#ecd05f"/><path d="M460.29 279.25L465.36 275.25M423.01 258.55L427.71 260.41" stroke="#f0bd5f"/><path d="M465.36 275.25L470.44 271.28M428.08 254.6L432.79 256.46" stroke="#f5aa5f"/><path d="M470.44 271.28L475.52 267.32M437.87 252.52L442.57 254.37" stroke="#f39866"/><path d="M475.52 267.32L480.6 263.38M442.94 248.61L447.65 250.46" stroke="#f1876e"/><path d="M393.91 341.33L398.99 336.43M328.39 307.91L333.1 309.81" stroke="#7182ec"/><path d="M404.07 331.75L409.15 327.21M347.96 302.59L352.67 304.48" stroke="#6797ef"/><path d="M409.15 327.21L414.22 322.76M357.75 300.08L362.45 301.97" stroke="#62a8ed"/><path d="M414.22 322.76L419.3 318.4M367.53 297.64L372.24 299.53" stroke="#5db9eb"/><path d="M419.3 318.4L424.38 314.1M372.61 293.38L377.31 295.26" stroke="#58c9e9"/><path d="M424.38 314.1L429.45 309.85M377.68 289.16L382.39 291.04" stroke="#5ed5de"/><path d="M429.45 309.85L434.53 305.64" stroke="#72dbc7"/><path d="M434.53 305.64L439.61 301.47M392.54 282.73L397.25 284.61" stroke="#85e2b1"/><path d="M439.61 301.47L444.69 297.34M397.62 278.63L402.33 280.51" stroke="#9ee59b"/><path d="M444.69 297.34L449.76 293.24" stroke="#b9e684"/><path d="M449.76 293.24L454.84 289.17M412.48 272.39L417.19 274.25" stroke="#d4e76e"/><path d="M454.84 289.17L459.92 285.13M417.56 268.37L422.26 270.23" stroke="#e7e25f"/><path d="M459.92 285.13L464.99 281.11M422.64 264.38L427.34 266.24" stroke="#eccf5f"/><path d="M464.99 281.11L470.07 277.11M432.42 262.26L437.13 264.12" stroke="#f1bb5f"/><path d="M485.3 265.23L490.38 261.31M452.73 246.55L457.43 248.4" stroke="#f07874"/><path d="M495.46 257.4L500.53 253.51" stroke="#ec6d7a"/><path d="M398.62 343.23L403.7 338.33M403.33 345.14L408.41 340.23M408.03 347.04L413.11 342.13M333.1 309.81L337.81 311.71M337.81 311.71L342.51 313.62M342.51 313.62L347.22 315.52" stroke="#7183ec"/><path d="M403.7 338.33L408.78 333.65M342.88 307.08L347.59 308.98" stroke="#6c8cee"/><path d="M408.78 333.65L413.85 329.1M413.48 335.54L418.56 330.99M352.67 304.48L357.37 306.38M357.37 306.38L362.08 308.27" stroke="#6798ef"/><path d="M413.85 329.1L418.93 324.65M362.45 301.97L367.16 303.86" stroke="#62a9ed"/><path d="M418.93 324.65L424.01 320.29" stroke="#5dbaeb"/><path d="M424.01 320.29L429.08 315.98M377.31 295.26L382.02 297.14" stroke="#58cae9"/><path d="M429.08 315.98L434.16 311.73M382.39 291.04L387.1 292.92" stroke="#5fd5dd"/><path d="M434.16 311.73L439.24 307.52M392.17 288.75L396.88 290.62" stroke="#73dcc6"/><path d="M439.24 307.52L444.32 303.35" stroke="#87e2b0"/><path d="M444.32 303.35L449.39 299.21" stroke="#a0e59a"/><path d="M449.39 299.21L454.47 295.11M412.11 278.3L416.82 280.17" stroke="#bbe683"/><path d="M454.47 295.11L459.55 291.04M417.19 274.25L421.89 276.12" stroke="#d5e76d"/><path d="M459.55 291.04L464.62 286.99M422.26 270.23L426.97 272.1" stroke="#e8e15f"/><path d="M484.93 271.02L490.01 267.08" stroke="#f1856f"/><path d="M500.16 259.24L505.24 255.34M504.87 261.08L509.95 257.18M467.59 240.64L472.29 242.48M472.29 242.48L477 244.32" stroke="#ec6d7b"/><path d="M398.25 350.75L403.33 345.14M402.96 352.66L408.03 347.04M407.66 354.57L412.74 348.95M323.32 312.76L328.02 314.66" stroke="#7779e9"/><path d="M408.41 340.23L413.48 335.54M413.11 342.13L418.19 337.44M347.59 308.98L352.3 310.88M352.3 310.88L357 312.78" stroke="#6c8cef"/><path d="M418.56 330.99L423.64 326.55M423.27 332.89L428.34 328.44M367.16 303.86L371.86 305.75M371.86 305.75L376.57 307.64" stroke="#61aaed"/><path d="M423.64 326.55L428.71 322.17M372.24 299.53L376.94 301.42" stroke="#5cbaeb"/><path d="M428.71 322.17L433.79 317.86M433.42 324.06L438.5 319.75M382.02 297.14L386.73 299.03M386.73 299.03L391.43 300.91" stroke="#57cbe9"/><path d="M433.79 317.86L438.87 313.61" stroke="#60d6dc"/><path d="M438.87 313.61L443.94 309.39M396.88 290.62L401.59 292.5" stroke="#74dcc5"/><path d="M443.94 309.39L449.02 305.22M401.96 286.48L406.66 288.36" stroke="#88e3af"/><path d="M449.02 305.22L454.1 301.08" stroke="#a1e598"/><path d="M454.1 301.08L459.18 296.98" stroke="#bce682"/><path d="M418.19 337.44L423.27 332.89" stroke="#6699ef"/><path d="M428.34 328.44L433.42 324.06M376.94 301.42L381.65 303.3M381.65 303.3L386.35 305.19" stroke="#5cbbeb"/><path d="M438.5 319.75L443.57 315.49M391.8 294.8L396.51 296.68" stroke="#61d6db"/><path d="M443.57 315.49L448.65 311.27" stroke="#75dcc4"/><path d="M448.65 311.27L453.73 307.1M406.66 288.36L411.37 290.23" stroke="#89e3ae"/><path d="M453.73 307.1L458.81 302.95" stroke="#a2e597"/><path d="M494.35 274.72L499.42 270.77" stroke="#f1826f"/><path d="M509.58 262.92L514.65 259.02M514.28 264.76L519.36 260.86M477 244.32L481.71 246.15M481.71 246.15L486.41 247.99M486.41 247.99L491.12 249.83" stroke="#ec6c7b"/><path d="M412.74 348.95L417.82 344.03M347.22 315.52L351.93 317.42" stroke="#7184ec"/><path d="M417.82 344.03L422.9 339.34M361.71 314.67L366.42 316.57M366.42 316.57L371.12 318.47" stroke="#6b8def"/><path d="M422.9 339.34L427.97 334.78M366.79 310.16L371.49 312.06M371.49 312.06L376.2 313.95" stroke="#669aef"/><path d="M427.97 334.78L433.05 330.33M376.57 307.64L381.28 309.53" stroke="#61abed"/><path d="M433.05 330.33L438.13 325.95M386.35 305.19L391.06 307.08" stroke="#5cbceb"/><path d="M438.13 325.95L443.2 321.63M391.43 300.91L396.14 302.8" stroke="#57cce9"/><path d="M443.2 321.63L448.28 317.37M396.51 296.68L401.22 298.56" stroke="#62d6da"/><path d="M453.36 313.15L458.43 308.97M411.37 290.23L416.08 292.1" stroke="#8ae3ad"/><path d="M463.51 304.83L468.59 300.71" stroke="#bfe680"/><path d="M488.9 284.53L493.97 280.54" stroke="#f4a461"/><path d="M499.05 276.57L504.13 272.62M466.48 257.84L471.18 259.69" stroke="#f18170"/><path d="M318.24 318.29L322.95 320.19M322.95 320.19L327.65 322.1" stroke="#7d6ee6"/><path d="M327.65 322.1L332.36 324.01" stroke="#7d6fe6"/><path d="M332.36 324.01L337.07 325.92M337.07 325.92L341.77 327.83" stroke="#7c6fe6"/><path d="M341.77 327.83L346.48 329.74" stroke="#7c70e6"/><path d="M346.48 329.74L351.19 331.65M351.19 331.65L355.89 333.56" stroke="#7c70e7"/><path d="M355.89 333.56L360.6 335.47" stroke="#7c71e7"/><path d="M360.6 335.47L365.31 337.38M365.31 337.38L370.01 339.29M370.01 339.29L374.72 341.2" stroke="#7b71e7"/><path d="M374.72 341.2L379.42 343.11M379.42 343.11L384.13 345.02" stroke="#7b72e7"/><path d="M384.13 345.02L388.84 346.93" stroke="#7a72e7"/><path d="M388.84 346.93L393.54 348.84M393.54 348.84L398.25 350.75" stroke="#7a73e7"/><path d="M328.02 314.66L332.73 316.57" stroke="#7679e9"/><path d="M332.73 316.57L337.44 318.47M337.44 318.47L342.14 320.38" stroke="#767ae9"/><path d="M342.14 320.38L346.85 322.28" stroke="#767aea"/><path d="M346.85 322.28L351.56 324.19M351.56 324.19L356.26 326.09" stroke="#767bea"/><path d="M356.26 326.09L360.97 328" stroke="#757bea"/><path d="M360.97 328L365.68 329.9M365.68 329.9L370.38 331.8M370.38 331.8L375.09 333.71" stroke="#757cea"/><path d="M375.09 333.71L379.8 335.61M379.8 335.61L384.5 337.52" stroke="#757dea"/><path d="M384.5 337.52L389.21 339.42M389.21 339.42L393.91 341.33" stroke="#747dea"/><path d="M351.93 317.42L356.63 319.32M356.63 319.32L361.34 321.22" stroke="#7084ec"/><path d="M361.34 321.22L366.05 323.12" stroke="#7085ec"/><path d="M366.05 323.12L370.75 325.02M370.75 325.02L375.46 326.92" stroke="#7085ed"/><path d="M375.46 326.92L380.17 328.82" stroke="#7086ed"/><path d="M357 312.78L361.71 314.67" stroke="#6c8def"/><path d="M371.12 318.47L375.83 320.36M375.83 320.36L380.54 322.26M380.54 322.26L385.24 324.16" stroke="#6b8eef"/><path d="M338.55 298.8L343.25 300.7" stroke="#6895ef"/><path d="M362.08 308.27L366.79 310.16" stroke="#6799ef"/><path d="M376.2 313.95L380.91 315.84" stroke="#669bef"/><path d="M380.91 315.84L385.61 317.74" stroke="#669cef"/><path d="M385.61 317.74L390.32 319.63" stroke="#659def"/><path d="M381.28 309.53L385.98 311.42" stroke="#61aced"/><path d="M385.98 311.42L390.69 313.31" stroke="#61aded"/><path d="M390.69 313.31L395.4 315.2" stroke="#60aded"/><path d="M391.06 307.08L395.77 308.97" stroke="#5bbdeb"/><path d="M395.77 308.97L400.47 310.85" stroke="#5bbeeb"/><path d="M396.14 302.8L400.84 304.68" stroke="#57cde9"/><path d="M400.84 304.68L405.55 306.56" stroke="#56cee9"/><path d="M438.5 319.75L443.2 321.63" stroke="#57d3e5"/><path d="M358.86 281.64L363.56 283.52" stroke="#5ad4e3"/><path d="M363.56 283.52L368.27 285.4" stroke="#5bd4e2"/><path d="M368.27 285.4L372.98 287.28" stroke="#5cd4e1"/><path d="M372.98 287.28L377.68 289.16" stroke="#5dd4df"/><path d="M387.1 292.92L391.8 294.8" stroke="#60d5dc"/><path d="M401.22 298.56L405.92 300.44" stroke="#63d6d9"/><path d="M415.34 304.2L420.04 306.08" stroke="#65d7d5"/><path d="M420.04 306.08L424.75 307.97" stroke="#66d8d4"/><path d="M424.75 307.97L429.45 309.85" stroke="#67d8d3"/><path d="M429.45 309.85L434.16 311.73" stroke="#68d8d2"/><path d="M434.16 311.73L438.87 313.61" stroke="#69d9d1"/><path d="M438.87 313.61L443.57 315.49" stroke="#6ad9d0"/><path d="M373.35 281.24L378.05 283.12" stroke="#6fdbcb"/><path d="M378.05 283.12L382.76 284.99" stroke="#70dbc9"/><path d="M382.76 284.99L387.47 286.87" stroke="#71dbc8"/><path d="M387.47 286.87L392.17 288.75" stroke="#72dcc7"/><path d="M401.59 292.5L406.29 294.38" stroke="#75ddc4"/><path d="M387.84 280.86L392.54 282.73" stroke="#84e2b3"/><path d="M397.25 284.61L401.96 286.48" stroke="#86e2b0"/><path d="M416.08 292.1L420.78 293.98" stroke="#8be4ac"/><path d="M420.78 293.98L425.49 295.85" stroke="#8ce4aa"/><path d="M425.49 295.85L430.2 297.73" stroke="#8de4a9"/><path d="M434.9 299.6L439.61 301.47" stroke="#90e4a7"/><path d="M444.32 303.35L449.02 305.22" stroke="#93e4a4"/><path d="M453.73 307.1L458.43 308.97" stroke="#96e4a2"/><path d="M374.09 269.28L378.79 271.15" stroke="#96e4a1"/><path d="M383.5 273.02L388.21 274.89" stroke="#99e59f"/><path d="M388.21 274.89L392.91 276.76" stroke="#9be59e"/><path d="M392.91 276.76L397.62 278.63" stroke="#9ce59d"/><path d="M402.33 280.51L407.03 282.38" stroke="#9fe59a"/><path d="M407.03 282.38L411.74 284.25" stroke="#a1e599"/><path d="M411.74 284.25L416.45 286.12" stroke="#a2e598"/><path d="M421.15 287.99L425.86 289.86" stroke="#a5e595"/><path d="M425.86 289.86L430.57 291.73" stroke="#a6e594"/><path d="M430.57 291.73L435.27 293.6" stroke="#a8e593"/><path d="M435.27 293.6L439.98 295.47" stroke="#a9e591"/><path d="M439.98 295.47L444.69 297.34" stroke="#abe590"/><path d="M444.69 297.34L449.39 299.21" stroke="#ace58f"/><path d="M449.39 299.21L454.1 301.08" stroke="#aee68e"/><path d="M458.81 302.95L463.51 304.83" stroke="#b1e68b"/><path d="M379.17 265.23L383.87 267.1" stroke="#b1e68c"/><path d="M383.87 267.1L388.58 268.96" stroke="#b2e68a"/><path d="M388.58 268.96L393.28 270.83" stroke="#b4e689"/><path d="M397.99 272.7L402.7 274.57" stroke="#b7e687"/><path d="M402.7 274.57L407.4 276.43" stroke="#b8e685"/><path d="M407.4 276.43L412.11 278.3" stroke="#bae684"/><path d="M430.94 285.77L435.64 287.64" stroke="#c1e67e"/><path d="M440.35 289.51L445.06 291.37" stroke="#c4e67b"/><path d="M449.76 293.24L454.47 295.11" stroke="#c7e779"/><path d="M459.18 296.98L463.88 298.85" stroke="#cae776"/><path d="M388.95 263.07L393.66 264.93" stroke="#cce774"/><path d="M407.77 270.53L412.48 272.39" stroke="#d2e76f"/><path d="M436.01 281.71L440.72 283.58" stroke="#dce868"/><path d="M403.44 262.79L408.15 264.65" stroke="#e7e65f"/><path d="M436.38 275.82L441.09 277.68" stroke="#e9de5f"/><path d="M445.8 279.54L450.5 281.4" stroke="#e9db5f"/><path d="M469.33 288.85L474.04 290.71" stroke="#ead55f"/><path d="M399.1 255.09L403.81 256.94" stroke="#ebd55f"/><path d="M413.22 260.66L417.93 262.52" stroke="#ebd15f"/><path d="M427.34 266.24L432.05 268.1" stroke="#ecce5f"/><path d="M432.05 268.1L436.76 269.95" stroke="#edcd5f"/><path d="M446.17 273.67L450.87 275.53" stroke="#edc95f"/><path d="M474.41 284.82L479.11 286.68M404.18 251.13L408.89 252.98" stroke="#efc25f"/><path d="M427.71 260.41L432.42 262.26" stroke="#f1bc5f"/><path d="M455.95 271.54L460.66 273.4" stroke="#f2b55f"/><path d="M460.66 273.4L465.36 275.25" stroke="#f3b45f"/><path d="M479.48 280.82L484.19 282.67M409.26 247.19L413.96 249.04" stroke="#f4af5f"/><path d="M432.79 256.46L437.5 258.31" stroke="#f5a95f"/><path d="M461.03 267.57L465.74 269.42" stroke="#f4a362"/><path d="M475.15 273.13L479.85 274.98" stroke="#f49f63"/><path d="M484.56 276.83L489.27 278.69" stroke="#f49d64"/><path d="M423.75 246.97L428.45 248.82" stroke="#f39c65"/><path d="M428.45 248.82L433.16 250.67" stroke="#f39a65"/><path d="M461.4 261.77L466.11 263.62" stroke="#f39269"/><path d="M494.35 274.72L499.05 276.57M428.82 243.07L433.53 244.91" stroke="#f28b6c"/><path d="M485.67 259.46L490.38 261.31M424.86 229.78L429.57 231.62" stroke="#ef7676"/><path d="M486.04 253.72L490.75 255.56" stroke="#ed7179"/><path d="M491.12 249.83L495.83 251.67M495.83 251.67L500.53 253.51" stroke="#ec6b7c"/><path d="M500.53 253.51L505.24 255.34M505.24 255.34L509.95 257.18" stroke="#eb6a7c"/><path d="M509.95 257.18L514.65 259.02" stroke="#eb6a7d"/><path d="M514.65 259.02L519.36 260.86" stroke="#eb697d"/></g>
<g fill="#ee2211"><circle cx="319.1" cy="318.4" r="1.75"/><circle cx="327.8" cy="317" r="1.75"/><circle cx="336.1" cy="318.9" r="1.75"/><circle cx="335.6" cy="308.3" r="1.75"/><circle cx="343.9" cy="307.6" r="1.75"/><circle cx="343.9" cy="311.1" r="1.75"/><circle cx="352.6" cy="303.5" r="1.75"/><circle cx="332.1" cy="323.6" r="1.75"/><circle cx="336.3" cy="326" r="1.75"/><circle cx="340.1" cy="327.7" r="1.75"/><circle cx="342" cy="327.9" r="1.75"/><circle cx="343.9" cy="323.6" r="1.75"/><circle cx="345.6" cy="323.6" r="1.75"/><circle cx="346.3" cy="334.3" r="1.75"/><circle cx="352" cy="336" r="1.75"/><circle cx="353.4" cy="327.2" r="1.75"/><circle cx="360.9" cy="331.2" r="1.75"/><circle cx="362.8" cy="332.4" r="1.75"/><circle cx="366.1" cy="326.5" r="1.75"/><circle cx="366.8" cy="330.7" r="1.75"/><circle cx="367.5" cy="317.7" r="1.75"/><circle cx="370.9" cy="317.7" r="1.75"/><circle cx="377.9" cy="320.1" r="1.75"/><circle cx="379.8" cy="321.7" r="1.75"/><circle cx="381.7" cy="318.9" r="1.75"/><circle cx="383.6" cy="303" r="1.75"/><circle cx="386.4" cy="299.6" r="1.75"/><circle cx="379.2" cy="321.3" r="1.75"/><circle cx="382.1" cy="334.4" r="1.75"/><circle cx="385.1" cy="337.5" r="1.75"/><circle cx="388.4" cy="338.4" r="1.75"/><circle cx="381.2" cy="340.3" r="1.75"/><circle cx="382.5" cy="343.6" r="1.75"/><circle cx="387" cy="343" r="1.75"/><circle cx="394.9" cy="345.6" r="1.75"/><circle cx="396.9" cy="346.9" r="1.75"/><circle cx="394.9" cy="348.6" r="1.75"/><circle cx="398.2" cy="349.5" r="1.75"/><circle cx="403.9" cy="349.9" r="1.75"/><circle cx="388.4" cy="351.9" r="1.75"/><circle cx="391.7" cy="353.5" r="1.75"/><circle cx="393.6" cy="354.4" r="1.75"/><circle cx="396.2" cy="353.5" r="1.75"/><circle cx="397.6" cy="354.8" r="1.75"/><circle cx="399.5" cy="355.4" r="1.75"/><circle cx="400.8" cy="357.4" r="1.75"/><circle cx="403.5" cy="353.5" r="1.75"/><circle cx="406.1" cy="354.8" r="1.75"/><circle cx="412" cy="349.1" r="1.75"/><circle cx="415.3" cy="348.6" r="1.75"/><circle cx="419.9" cy="346.9" r="1.75"/><circle cx="421.2" cy="344.9" r="1.75"/><circle cx="423.1" cy="345.6" r="1.75"/><circle cx="433.6" cy="329.8" r="1.75"/><circle cx="360.4" cy="332.4" r="1.75"/><circle cx="363" cy="333.6" r="1.75"/><circle cx="367.6" cy="331.6" r="1.75"/><circle cx="382.4" cy="334.4" r="1.75"/><circle cx="385" cy="338" r="1.75"/><circle cx="388" cy="338" r="1.75"/><circle cx="509.6" cy="246.7" r="1.75"/><circle cx="509.6" cy="250.5" r="1.75"/><circle cx="504.4" cy="256.8" r="1.75"/><circle cx="485" cy="266.4" r="1.75"/><circle cx="488.6" cy="272.6" r="1.75"/><circle cx="517.8" cy="271" r="1.75"/><circle cx="493.5" cy="283.5" r="1.75"/><circle cx="478.5" cy="287.4" r="1.75"/><circle cx="488.3" cy="273.5" r="1.75"/><circle cx="489.7" cy="293.3" r="1.75"/><circle cx="483" cy="299.1" r="1.75"/><circle cx="485" cy="300.6" r="1.75"/><circle cx="475.7" cy="301.5" r="1.75"/><circle cx="453.9" cy="308.4" r="1.75"/><circle cx="467.6" cy="313.7" r="1.75"/><circle cx="447.2" cy="317.5" r="1.75"/><circle cx="451.8" cy="321" r="1.75"/><circle cx="451.8" cy="326.8" r="1.75"/><circle cx="433.5" cy="329.7" r="1.75"/></g>

<!-- drill bit (a) -->
<defs>
<linearGradient id="bit" x1="0" x2="1" y1="0" y2="0">
<stop offset="0" stop-color="#3f3a28"/><stop offset="0.25" stop-color="#6a6346"/><stop offset="0.55" stop-color="#857d5c"/><stop offset="0.8" stop-color="#666044"/><stop offset="1" stop-color="#423d2b"/>
</linearGradient>
<linearGradient id="shaft" x1="0" x2="1" y1="0" y2="0">
<stop offset="0" stop-color="#4f4a36"/><stop offset="0.5" stop-color="#8f8866"/><stop offset="1" stop-color="#4a4533"/>
</linearGradient>
</defs>
<path d="M228.8 73 Q228.8 71 230.5 71 Q232.2 71 232.2 73 L232.2 96 L228.8 96 Z" fill="url(#shaft)"/>
<path d="M224.5 97.5 Q224.6 94.3 231 94.3 Q237.4 94.3 237.5 97.5 L237.5 119.5 Q237.4 122.3 231 122.3 Q224.6 122.3 224.5 119.5 Z" fill="url(#bit)"/>
<ellipse cx="231" cy="120" rx="5.5" ry="1.8" fill="#8a8262" opacity="0.6"/>
<g stroke="#333" stroke-width="0.55" fill="none">
<line x1="239.8" y1="94.4" x2="246.5" y2="94.4"/><line x1="239.8" y1="119.2" x2="246.5" y2="119.2"/>
<line x1="245.1" y1="94.6" x2="245.1" y2="119"/>
<line x1="224.4" y1="123" x2="224.4" y2="131.3"/><line x1="238.2" y1="123" x2="238.2" y2="131.3"/>
<line x1="224.5" y1="130.2" x2="238.1" y2="130.2"/>
</g>
<text transform="translate(243.8,113.8) rotate(-90)" font-size="4" fill="#222" textLength="11" lengthAdjust="spacingAndGlyphs">25 mm</text>
<text x="225.5" y="128" font-size="4.1" fill="#222" textLength="11.6" lengthAdjust="spacingAndGlyphs">15 mm</text>
<!-- photo (b) -->
<defs>
<filter id="blur1" x="-5%" y="-5%" width="110%" height="110%"><feGaussianBlur stdDeviation="0.7"/></filter>
<filter id="blur2" x="-5%" y="-5%" width="110%" height="110%"><feGaussianBlur stdDeviation="0.4"/></filter>
<clipPath id="clipb"><rect x="470.7" y="100.1" width="60.5" height="30.5"/></clipPath>
<clipPath id="clipc"><rect x="203.2" y="299.1" width="53" height="29.1"/></clipPath>
</defs>
<g clip-path="url(#clipb)"><g filter="url(#blur2)">
<rect x="468" y="98" width="66" height="35" fill="#b8ae9c"/>
<rect x="471" y="99" width="18" height="6" fill="#cdc5b5"/>
<rect x="505" y="99" width="28" height="4" fill="#7f8fb8"/>
<rect x="516" y="99" width="16" height="4.3" fill="#3552b8"/>
<path d="M511 102 L531 101.5 L531 112.5 L511 113 Z" fill="#c9aa8a"/>
<path d="M484.5 102 L497.5 102.5 L498.5 119 L485.5 120 Z" fill="#216362"/>
<rect x="496" y="106" width="5" height="14" fill="#3d3d3d"/>
<ellipse cx="480.6" cy="113" rx="7.8" ry="10.8" fill="#8fa6cc" transform="rotate(8 480.6 113)"/>
<ellipse cx="481.8" cy="112.5" rx="6" ry="9.2" fill="#3b4d80" transform="rotate(8 481.8 112.5)"/>
<ellipse cx="482.8" cy="112" rx="3.5" ry="6.5" fill="#2c3a68"/>
<ellipse cx="508.1" cy="113.8" rx="9" ry="12.3" fill="#4a4a4c"/>
<ellipse cx="508.1" cy="113.8" rx="6.6" ry="9.6" fill="#2a4688"/>
<ellipse cx="512.8" cy="113.8" rx="1.6" ry="4.5" fill="#3a78e0"/>
<path d="M471 131 L471 123 Q478 118 488 121 Q493 124 495 131 Z" fill="#bfb6a6"/>
<path d="M482 131 Q486 121 496 120 Q503 121 503 131 Z" fill="#c9c1b1"/>
<path d="M517 113 Q525 111 531 113 L531 124 Q524 125 517 122 Z" fill="#dcd5c9"/>
<rect x="498" y="126" width="33" height="5" fill="#a39b8b"/>
</g></g>
<!-- photo (c) -->
<g clip-path="url(#clipc)"><g filter="url(#blur2)">
<rect x="201" y="297" width="58" height="33" fill="#b2b2b2"/>
<rect x="203" y="300" width="12" height="6" fill="#c4c4c4"/>
<rect x="217" y="302" width="14" height="4" fill="#bdbdbd"/>
<rect x="205" y="321" width="20" height="5" fill="#a9a9a9"/>
<rect x="228" y="322" width="14" height="5" fill="#bababa"/>
<rect x="203" y="307.8" width="41" height="1.8" fill="#8e8e8e"/>
<rect x="203" y="309.6" width="41" height="8.8" fill="#dcdcdc"/>
<rect x="203" y="311.5" width="41" height="3" fill="#ececec"/>
<rect x="203" y="318.4" width="41" height="1.4" fill="#8a8a8a"/>
<rect x="225.6" y="310" width="8.8" height="9.5" rx="1.2" fill="#28cc28"/>
<rect x="226.5" y="310.5" width="7" height="2" fill="#60e060"/>
<rect x="234.4" y="310.5" width="5" height="8.5" fill="#efefef"/>
<rect x="239.5" y="313" width="2.6" height="3" fill="#555"/>
<rect x="240.3" y="317" width="1.8" height="3.5" fill="#1a1a1a"/>
<rect x="243" y="298" width="14" height="12" fill="#d2d2d2"/>
<path d="M240 314 L250 302" stroke="#6b5870" stroke-width="0.7" fill="none"/>
<rect x="249.2" y="299.5" width="1.6" height="4.8" fill="#202020" transform="rotate(12 250 302)"/>
<rect x="251.5" y="301.5" width="4" height="1.2" fill="#e07050"/>
<rect x="244.7" y="314" width="12" height="14.2" fill="#d4cbc8"/>
<path d="M246.6 317 Q248 315 250.7 316 Q253.4 315 254.8 317 L254.2 322 Q253 326 250.7 326 Q248.4 326 247.2 322 Z" fill="#c29a3e"/>
<path d="M247 316.8 Q250.7 314.5 254.4 316.8 L254 318.5 Q250.7 317 247.4 318.5 Z" fill="#e2c47a"/>
<ellipse cx="250.7" cy="318.5" rx="1.6" ry="1.1" fill="#6d5a2a"/>
</g></g>


<g font-size="12.5" fill="#1a1a1a" stroke="#1a1a1a" stroke-width="0.1">
<text x="4" y="41.5">(a)</text>
<text x="276.5" y="41">(b)</text>
<text x="4" y="237.5">(c)</text>
<text x="276.5" y="237">(d)</text>
</g>
<g font-size="9.9" fill="#1a1a1a" stroke="#1a1a1a" stroke-width="0.15">
<text transform="translate(18.5,99) rotate(-90)"><tspan font-style="italic">UCS</tspan>/MPa</text><text transform="translate(294,101) rotate(-90)"><tspan font-style="italic">UCS</tspan>/MPa</text><text transform="translate(18,296) rotate(-90)"><tspan font-style="italic">UCS</tspan>/MPa</text><text transform="translate(297.3,295.8) rotate(-90)"><tspan font-style="italic">UCS</tspan>/MPa</text>
</g>
<g font-size="10.4" fill="#1a1a1a" stroke="#1a1a1a" stroke-width="0.15">
<text transform="translate(26,148.5) rotate(21)">Drillability index <tspan font-style="italic">I</tspan><tspan font-style="italic" font-size="7.5" dy="2.5">d</tspan></text><text transform="translate(303,148) rotate(21)">Drillability index <tspan font-style="italic">I</tspan><tspan font-style="italic" font-size="7.5" dy="2.5">d</tspan></text><text transform="translate(28.5,344) rotate(21)">Drillability index <tspan font-style="italic">I</tspan><tspan font-style="italic" font-size="7.5" dy="2.5">d</tspan></text><text transform="translate(308,344) rotate(21)">Drillability index <tspan font-style="italic">I</tspan><tspan font-style="italic" font-size="7.5" dy="2.5">d</tspan></text>
</g>
<g font-size="10.5" fill="#1a1a1a" stroke="#1a1a1a" stroke-width="0.15">
<text transform="translate(179,176) rotate(-13.5)"><tspan font-style="italic">SE</tspan>/10<tspan font-size="6.5" dy="-4">3</tspan><tspan dy="4">MJ·m</tspan><tspan font-size="6.5" dy="-4">-3</tspan></text><text transform="translate(451,176) rotate(-13.5)"><tspan font-style="italic">SE</tspan>/10<tspan font-size="6.5" dy="-4">3</tspan><tspan dy="4">MJ·m</tspan><tspan font-size="6.5" dy="-4">-3</tspan></text><text transform="translate(176,372) rotate(-13.5)"><tspan font-style="italic">SE</tspan>/10<tspan font-size="6.5" dy="-4">3</tspan><tspan dy="4">MJ·m</tspan><tspan font-size="6.5" dy="-4">-3</tspan></text><text transform="translate(454,374.5) rotate(-13.5)"><tspan font-style="italic">SE</tspan>/10<tspan font-size="6.5" dy="-4">3</tspan><tspan dy="4">MJ·m</tspan><tspan font-size="6.5" dy="-4">-3</tspan></text>
</g>
<g fill="#1a1a1a" stroke="#1a1a1a" stroke-width="0.1"><text x="38.8" y="43.4" font-size="7.3" font-style="italic" textLength="12.6" lengthAdjust="spacingAndGlyphs">UCS</text><path d="M53 41.65H56.8M53 40.25H56.8" stroke-width="0.55" fill="none"/><text x="58.4" y="43.4" font-size="7.3" textLength="22.4" lengthAdjust="spacingAndGlyphs">0.02973</text><text x="81.1" y="45.3" font-size="12" textLength="2.6" lengthAdjust="spacingAndGlyphs">(</text><text x="84.1" y="43.4" font-size="7.3" textLength="15.2" lengthAdjust="spacingAndGlyphs">19.96</text><circle cx="100.9" cy="41" r="0.5" stroke="none"/><circle cx="112.4" cy="41" r="0.5" stroke="none"/><text x="102.5" y="43.4" font-size="7.3" font-style="italic" textLength="7.7" lengthAdjust="spacingAndGlyphs">SE</text><text x="114" y="43.4" font-size="7.3" font-style="italic" textLength="2.7" lengthAdjust="spacingAndGlyphs">e</text><text x="117.8" y="39" font-size="4.2" textLength="18" lengthAdjust="spacingAndGlyphs">0.4471/I<tspan font-size="2.9" dy="0.9">d</tspan><tspan font-size="2.9" dy="-2.2">0.1</tspan></text><text x="138.5" y="43.4" font-size="7.3" textLength="6.6" lengthAdjust="spacingAndGlyphs">+1</text><text x="145.4" y="45.3" font-size="12" textLength="2.6" lengthAdjust="spacingAndGlyphs">)</text><text x="38.8" y="56.6" font-size="7.3" font-style="italic" textLength="4.7" lengthAdjust="spacingAndGlyphs">R</text><text x="44.1" y="53.2" font-size="4.6">2</text><path d="M47.2 54.85H51M47.2 53.45H51" stroke-width="0.55" fill="none"/><text x="52.4" y="56.6" font-size="7.3" textLength="18.6" lengthAdjust="spacingAndGlyphs">0.9051</text><text x="311.8" y="42.4" font-size="7.3" font-style="italic" textLength="12.6" lengthAdjust="spacingAndGlyphs">UCS</text><path d="M326 40.65H329.8M326 39.25H329.8" stroke-width="0.55" fill="none"/><text x="331.4" y="42.4" font-size="7.3" textLength="25.7" lengthAdjust="spacingAndGlyphs">0.006402</text><text x="357.4" y="44.3" font-size="12" textLength="2.6" lengthAdjust="spacingAndGlyphs">(</text><text x="360.3" y="42.4" font-size="7.3" textLength="14.5" lengthAdjust="spacingAndGlyphs">1.081</text><circle cx="390.6" cy="40" r="0.5" stroke="none"/><circle cx="403.2" cy="40" r="0.5" stroke="none"/><text x="393.4" y="42.4" font-size="7.3" font-style="italic" textLength="7.6" lengthAdjust="spacingAndGlyphs">SE</text><text x="404.5" y="42.4" font-size="7.3" font-style="italic" textLength="3.3" lengthAdjust="spacingAndGlyphs">e</text><text x="408.3" y="38" font-size="4.2" textLength="16.1" lengthAdjust="spacingAndGlyphs">-1.2502/I<tspan font-size="2.9" dy="0.9">d</tspan><tspan font-size="2.9" dy="-2.2">0.7</tspan></text><text x="429.4" y="42.4" font-size="7.3" textLength="6.5" lengthAdjust="spacingAndGlyphs">+1</text><text x="436.3" y="44.3" font-size="12" textLength="2.9" lengthAdjust="spacingAndGlyphs">)</text><text x="311.8" y="55.5" font-size="7.3" font-style="italic" textLength="4.4" lengthAdjust="spacingAndGlyphs">R</text><text x="316.8" y="52.1" font-size="4.6">2</text><path d="M321 53.75H324.4M321 52.35H324.4" stroke-width="0.55" fill="none"/><text x="325.4" y="55.5" font-size="7.3" textLength="19.1" lengthAdjust="spacingAndGlyphs">0.9218</text><text x="375.9" y="42.4" font-size="6" textLength="2.7" lengthAdjust="spacingAndGlyphs">×</text><text x="379.2" y="42.4" font-size="7.3" textLength="6.5" lengthAdjust="spacingAndGlyphs">10</text><text x="386.2" y="39.2" font-size="4.6">4</text><text x="38.8" y="237.6" font-size="7.3" font-style="italic" textLength="12.6" lengthAdjust="spacingAndGlyphs">UCS</text><path d="M52.5 235.85H55.7M52.5 234.45H55.7" stroke-width="0.55" fill="none"/><text x="56.8" y="237.6" font-size="7.3" textLength="15.3" lengthAdjust="spacingAndGlyphs">1.844</text><text x="72.5" y="239.5" font-size="12" textLength="2.8" lengthAdjust="spacingAndGlyphs">(</text><text x="75.9" y="237.6" font-size="7.3" textLength="15.4" lengthAdjust="spacingAndGlyphs">967.5</text><circle cx="92.6" cy="235.2" r="0.5" stroke="none"/><circle cx="105.3" cy="235.2" r="0.5" stroke="none"/><text x="94.9" y="237.6" font-size="7.3" font-style="italic" textLength="8.7" lengthAdjust="spacingAndGlyphs">SE</text><text x="106.4" y="237.6" font-size="7.3" font-style="italic" textLength="2.7" lengthAdjust="spacingAndGlyphs">e</text><text x="109.6" y="233.2" font-size="4.2" textLength="16.4" lengthAdjust="spacingAndGlyphs">-1.07·I<tspan font-size="2.9" dy="0.9">d</tspan><tspan font-size="2.9" dy="-2.2">0.1</tspan></text><text x="129.8" y="237.6" font-size="7.3" textLength="6" lengthAdjust="spacingAndGlyphs">+1</text><text x="136.3" y="239.5" font-size="12" textLength="2.8" lengthAdjust="spacingAndGlyphs">)</text><text x="38.8" y="250.3" font-size="7.3" font-style="italic" textLength="4.5" lengthAdjust="spacingAndGlyphs">R</text><text x="43.9" y="246.9" font-size="4.6">2</text><path d="M47 248.55H50.3M47 247.15H50.3" stroke-width="0.55" fill="none"/><text x="51.9" y="250.3" font-size="7.3" textLength="19.1" lengthAdjust="spacingAndGlyphs">0.8981</text><text x="315.8" y="239.2" font-size="7.3" font-style="italic" textLength="12.6" lengthAdjust="spacingAndGlyphs">UCS</text><path d="M330 237.45H333.3M330 236.05H333.3" stroke-width="0.55" fill="none"/><text x="334.4" y="239.2" font-size="7.3" textLength="15.2" lengthAdjust="spacingAndGlyphs">16.93</text><text x="350" y="241.1" font-size="12" textLength="2.6" lengthAdjust="spacingAndGlyphs">(</text><text x="352.9" y="239.2" font-size="7.3" textLength="21.1" lengthAdjust="spacingAndGlyphs">0.08349</text><circle cx="376.2" cy="236.8" r="0.5" stroke="none"/><circle cx="387.6" cy="236.8" r="0.5" stroke="none"/><text x="378.4" y="239.2" font-size="7.3" font-style="italic" textLength="7.2" lengthAdjust="spacingAndGlyphs">SE</text><text x="389.8" y="239.2" font-size="7.3" font-style="italic" textLength="2.7" lengthAdjust="spacingAndGlyphs">e</text><text x="393.1" y="234.8" font-size="4.2" textLength="19.6" lengthAdjust="spacingAndGlyphs">0.0003/I<tspan font-size="2.9" dy="0.9">d</tspan><tspan font-size="2.9" dy="-2.2">0.5</tspan></text><text x="416" y="239.2" font-size="7.3" textLength="6.5" lengthAdjust="spacingAndGlyphs">+1</text><text x="423" y="241.1" font-size="12" textLength="2.8" lengthAdjust="spacingAndGlyphs">)</text><text x="315.8" y="252.5" font-size="7.3" font-style="italic" textLength="4.5" lengthAdjust="spacingAndGlyphs">R</text><text x="320.9" y="249.1" font-size="4.6">2</text><path d="M325.1 250.75H328.4M325.1 249.35H328.4" stroke-width="0.55" fill="none"/><text x="329.4" y="252.5" font-size="7.3" textLength="19.1" lengthAdjust="spacingAndGlyphs">0.7506</text></g>

</svg></body></html>
